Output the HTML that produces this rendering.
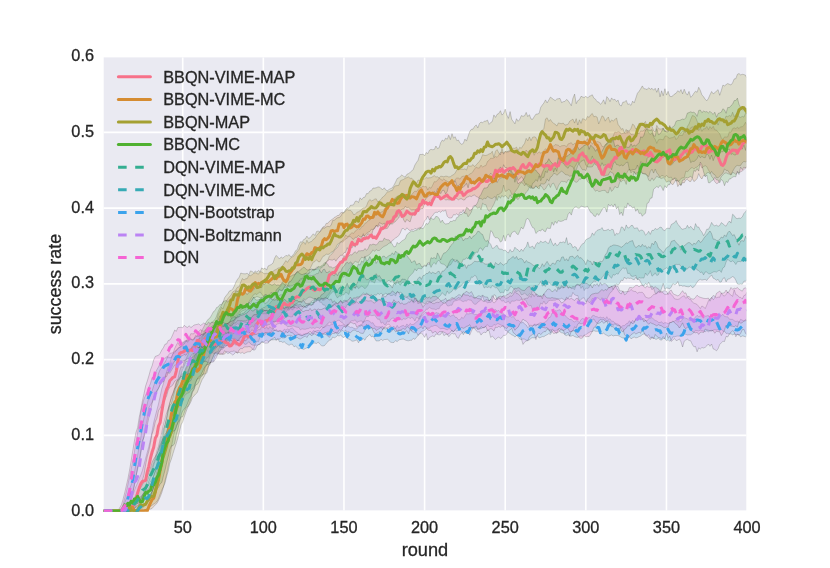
<!DOCTYPE html>
<html><head><meta charset="utf-8"><style>
html,body{margin:0;padding:0;background:#fff;}
svg{display:block;}
text{font-family:"Liberation Sans",Arial,sans-serif;fill:#262626;stroke:#262626;stroke-width:0.3px;}
.g line{stroke:#fff;stroke-width:1.6;}
.b{fill-opacity:0.2;stroke:#000;stroke-opacity:0.22;stroke-width:0.8;stroke-linejoin:round;}
.l,.d{fill:none;stroke-width:3;stroke-linejoin:round;}
.l{stroke-linecap:round;}
.d{stroke-dasharray:8.55 8.55;stroke-linecap:butt;}
.yt text{font-size:16.3px;text-anchor:end;}
.xt text{font-size:16.3px;text-anchor:middle;}
.lg text{font-size:16.3px;}
</style></head><body>
<svg width="830" height="568" viewBox="0 0 830 568">
<defs><clipPath id="c"><rect x="103.7" y="57.4" width="642.6" height="454.4"/></clipPath></defs>
<rect x="103.7" y="57.4" width="642.6" height="453.0" fill="#EAEAF2"/>
<g class="g">
<line x1="103.7" x2="746.3" y1="435.35" y2="435.35"/>
<line x1="103.7" x2="746.3" y1="359.60" y2="359.60"/>
<line x1="103.7" x2="746.3" y1="283.85" y2="283.85"/>
<line x1="103.7" x2="746.3" y1="208.10" y2="208.10"/>
<line x1="103.7" x2="746.3" y1="132.35" y2="132.35"/>
<line x1="182.71" x2="182.71" y1="57.4" y2="510.4"/>
<line x1="263.34" x2="263.34" y1="57.4" y2="510.4"/>
<line x1="343.96" x2="343.96" y1="57.4" y2="510.4"/>
<line x1="424.59" x2="424.59" y1="57.4" y2="510.4"/>
<line x1="505.21" x2="505.21" y1="57.4" y2="510.4"/>
<line x1="585.84" x2="585.84" y1="57.4" y2="510.4"/>
<line x1="666.46" x2="666.46" y1="57.4" y2="510.4"/>
</g>
<g clip-path="url(#c)">
<polygon class="b" fill="#f77189" points="103.7,511.1 105.3,511.1 106.9,511.1 108.5,511.1 110.2,511.1 111.8,511.1 113.4,511.1 115,511.1 116.6,511.1 118.2,511.1 119.8,511.1 121.4,511.1 123.1,510 124.7,508.8 126.3,507.7 127.9,506.1 129.5,504.3 131.1,499.8 132.7,495.3 134.3,490.9 135.9,486.6 137.6,482.9 139.2,478.4 140.8,475 142.4,470.4 144,464.7 145.6,458.5 147.2,452.6 148.8,446.7 150.5,439.3 152.1,431.3 153.7,422.6 155.3,416.1 156.9,410 158.5,404 160.1,396.6 161.8,388.7 163.4,383.6 165,377.8 166.6,371.6 168.2,366.6 169.8,363.3 171.4,357.3 173,353.7 174.7,348.4 176.3,345.1 177.9,342.4 179.5,345.6 181.1,343 182.7,342.1 184.3,343.4 185.9,342.1 187.6,338.4 189.2,337.6 190.8,333.7 192.4,333.8 194,333.8 195.6,331.2 197.2,331.6 198.8,331.7 200.4,329.6 202.1,330.7 203.7,331.3 205.3,330.1 206.9,330 208.5,329.1 210.1,330.4 211.7,330.7 213.4,332 215,330.6 216.6,331.6 218.2,332.6 219.8,333.8 221.4,334.1 223,334 224.6,333.9 226.2,333.9 227.9,332.1 229.5,332.5 231.1,333.2 232.7,332.2 234.3,330.2 235.9,330 237.5,330.7 239.2,330.7 240.8,329.6 242.4,332 244,330.9 245.6,329.1 247.2,323.9 248.8,321.1 250.4,318.6 252.1,317.5 253.7,314.8 255.3,314.4 256.9,314.5 258.5,312.8 260.1,312 261.7,310.1 263.3,307.3 264.9,307.5 266.6,305.6 268.2,305 269.8,303.7 271.4,301.3 273,300.1 274.6,297.9 276.2,296.5 277.9,297.3 279.5,295.4 281.1,294.5 282.7,295.9 284.3,295.1 285.9,292.8 287.5,292 289.1,290.5 290.8,289.7 292.4,288.9 294,287.9 295.6,285.3 297.2,283 298.8,280.8 300.4,280 302,278.8 303.7,278.5 305.3,277.5 306.9,276.5 308.5,275.4 310.1,275.2 311.7,275.6 313.3,275.3 314.9,274.8 316.6,273.6 318.2,273.7 319.8,269.7 321.4,267.6 323,266.7 324.6,264.7 326.2,261.8 327.8,260 329.4,256.2 331.1,254.4 332.7,253.2 334.3,250.6 335.9,248.7 337.5,247.5 339.1,244.5 340.7,241.9 342.4,240.9 344,238.1 345.6,234.9 347.2,236.5 348.8,236.1 350.4,234 352,232.7 353.6,233.5 355.2,231.1 356.9,229.9 358.5,228.5 360.1,229.4 361.7,226.6 363.3,226.1 364.9,223.4 366.5,222.7 368.1,220.8 369.8,220.1 371.4,217.3 373,218.8 374.6,216.4 376.2,215 377.8,214.7 379.4,213.3 381.1,212.1 382.7,211.7 384.3,209 385.9,206.7 387.5,206.8 389.1,204.4 390.7,201.6 392.3,200.8 393.9,198.8 395.6,197.5 397.2,196.2 398.8,196 400.4,195.2 402,194.3 403.6,194.4 405.2,194.7 406.9,195.3 408.5,197.1 410.1,195.9 411.7,194.9 413.3,192.6 414.9,191.1 416.5,191.6 418.1,189.4 419.8,187.5 421.4,187.4 423,186.1 424.6,186.8 426.2,186.5 427.8,190 429.4,187.2 431,188.3 432.6,185.4 434.3,181.7 435.9,181.8 437.5,180.4 439.1,178.1 440.7,179.3 442.3,180.3 443.9,178.8 445.6,180.5 447.2,181.3 448.8,181.8 450.4,181.3 452,181.2 453.6,182.5 455.2,179.4 456.8,178 458.4,178.1 460.1,179.2 461.7,176.7 463.3,176.2 464.9,176.2 466.5,175.3 468.1,175.6 469.7,173.9 471.4,173.4 473,171.5 474.6,169 476.2,167.1 477.8,168 479.4,168.1 481,165.1 482.6,167.2 484.2,166 485.9,165.6 487.5,161.5 489.1,160.3 490.7,158.2 492.3,158.4 493.9,158 495.5,156.4 497.1,157.4 498.8,155.2 500.4,152.4 502,152.3 503.6,152.8 505.2,151.6 506.8,152.6 508.4,151.1 510.1,151 511.7,149.3 513.3,150.2 514.9,152.7 516.5,150.7 518.1,153.8 519.7,154.5 521.3,154.4 523,151.7 524.6,152.1 526.2,150.1 527.8,152.2 529.4,150.3 531,150.7 532.6,150.9 534.2,155.3 535.9,151.8 537.5,153.4 539.1,151.8 540.7,153.1 542.3,152.4 543.9,150.9 545.5,148.7 547.1,149.7 548.8,150.7 550.4,146 552,146 553.6,146.2 555.2,144.6 556.8,144.9 558.4,145.3 560,147 561.6,145.8 563.3,145.6 564.9,145.5 566.5,146.9 568.1,143.9 569.7,143.4 571.3,142.7 572.9,145 574.6,143.5 576.2,143 577.8,141.4 579.4,142.9 581,143.5 582.6,143.7 584.2,141.3 585.8,141 587.5,138.6 589.1,144.3 590.7,141.4 592.3,144.3 593.9,141.6 595.5,142.6 597.1,141.5 598.7,142 600.4,142.8 602,146.5 603.6,146.9 605.2,144.7 606.8,144.4 608.4,141.7 610,138.5 611.6,138.9 613.2,136 614.9,132 616.5,132.6 618.1,131.7 619.7,132 621.3,134 622.9,133.3 624.5,133.1 626.2,133.4 627.8,130 629.4,132.1 631,134.5 632.6,134.4 634.2,135.1 635.8,135.1 637.4,133.1 639.1,133.8 640.7,130.9 642.3,131.2 643.9,130.6 645.5,128.4 647.1,129.2 648.7,132.9 650.3,134.6 652,132.8 653.6,137 655.2,139.4 656.8,143.4 658.4,139.8 660,139.2 661.6,139.5 663.2,139.9 664.9,136.3 666.5,135.8 668.1,137.6 669.7,138.3 671.3,137.8 672.9,137.6 674.5,136.2 676.1,139.6 677.8,137.8 679.4,135 681,135.5 682.6,135.3 684.2,131.5 685.8,130.6 687.4,132.3 689,130.6 690.7,127.7 692.3,126.9 693.9,126.9 695.5,127.4 697.1,126.4 698.7,130.5 700.3,127.5 701.9,131.4 703.6,128.8 705.2,128.9 706.8,126.4 708.4,129.7 710,126.6 711.6,128.7 713.2,126.3 714.8,129.9 716.5,130.1 718.1,132.2 719.7,133.7 721.3,137.9 722.9,139.5 724.5,136.9 726.1,137.1 727.7,137 729.4,131.9 731,132.4 732.6,128.7 734.2,127.8 735.8,128.8 737.4,127.1 739,128.6 740.6,126.8 742.3,126.9 743.9,125.3 745.5,122.3 747.1,125 747.1,167.8 745.5,168 743.9,169.6 742.3,170.9 740.6,171.9 739,172.6 737.4,172.5 735.8,174.5 734.2,172.9 732.6,172.5 731,175 729.4,174.2 727.7,173.7 726.1,172.8 724.5,173.4 722.9,175 721.3,176.7 719.7,180.4 718.1,183.1 716.5,183.6 714.8,181.7 713.2,178.4 711.6,176.5 710,172.4 708.4,169.9 706.8,166.6 705.2,165.7 703.6,166.5 701.9,168.1 700.3,164.4 698.7,165.2 697.1,167.1 695.5,167.5 693.9,169.1 692.3,167.5 690.7,168.2 689,170.3 687.4,171.7 685.8,171.1 684.2,177.7 682.6,177.9 681,178.4 679.4,180.8 677.8,181.6 676.1,178 674.5,178.2 672.9,179.9 671.3,177.1 669.7,177.5 668.1,177.2 666.5,175.2 664.9,177.4 663.2,175.5 661.6,175.6 660,177.1 658.4,177.5 656.8,176.2 655.2,178.4 653.6,180.5 652,177.9 650.3,181.1 648.7,180.2 647.1,175.6 645.5,174.5 643.9,173.8 642.3,173.6 640.7,170.7 639.1,174.1 637.4,171.9 635.8,173.8 634.2,172.3 632.6,170.9 631,172.9 629.4,169 627.8,171 626.2,174.3 624.5,173.5 622.9,178.5 621.3,178.7 619.7,182.5 618.1,187.6 616.5,187.5 614.9,186.4 613.2,189.7 611.6,191.4 610,187.3 608.4,192.8 606.8,192.7 605.2,190.4 603.6,190.4 602,190.6 600.4,191.3 598.7,191.6 597.1,190 595.5,191.3 593.9,189 592.3,185.8 590.7,183.8 589.1,183 587.5,181.6 585.8,177.4 584.2,177.1 582.6,175.6 581,179.2 579.4,178.9 577.8,181.5 576.2,182.4 574.6,181.4 572.9,179.6 571.3,181.6 569.7,180.3 568.1,179.5 566.5,182.7 564.9,181.5 563.3,181.7 561.6,181.1 560,183.1 558.4,185.8 556.8,190 555.2,186.4 553.6,183.1 552,183.8 550.4,187.5 548.8,183.7 547.1,186 545.5,188.8 543.9,190.1 542.3,187.5 540.7,185.7 539.1,185.5 537.5,187.6 535.9,185.6 534.2,188.4 532.6,188.1 531,187.9 529.4,185.4 527.8,184.6 526.2,183.4 524.6,185.9 523,183.2 521.3,182.7 519.7,184.3 518.1,187.5 516.5,189.9 514.9,192.1 513.3,194.1 511.7,194.4 510.1,190.1 508.4,189.3 506.8,191 505.2,191.4 503.6,185.1 502,191.9 500.4,193.3 498.8,194.5 497.1,194.6 495.5,200.2 493.9,204.2 492.3,207 490.7,210 489.1,211.3 487.5,209.2 485.9,204.7 484.2,204.5 482.6,203.1 481,209.7 479.4,206.8 477.8,208.5 476.2,206.3 474.6,205.4 473,206.4 471.4,212 469.7,214.8 468.1,216.8 466.5,213 464.9,213.9 463.3,209.8 461.7,212.7 460.1,212 458.4,215.4 456.8,213.7 455.2,215 453.6,214.5 452,217.7 450.4,218 448.8,217.8 447.2,216.2 445.6,210 443.9,211.2 442.3,210.7 440.7,212.4 439.1,211 437.5,212.4 435.9,212.2 434.3,213.1 432.6,215.7 431,217.2 429.4,219.9 427.8,216 426.2,219.2 424.6,220.8 423,225.1 421.4,227.2 419.8,229.4 418.1,227.9 416.5,229.2 414.9,228.3 413.3,230.1 411.7,229.4 410.1,230.8 408.5,229.5 406.9,227.8 405.2,230.2 403.6,228.6 402,228.6 400.4,232.8 398.8,235.4 397.2,237.1 395.6,237.7 393.9,239.6 392.3,240.4 390.7,243 389.1,243 387.5,244.7 385.9,245.6 384.3,246.3 382.7,247.3 381.1,248.8 379.4,250.4 377.8,250.6 376.2,249.5 374.6,251.4 373,249.8 371.4,252.4 369.8,253.9 368.1,255.6 366.5,256.2 364.9,257.2 363.3,257.9 361.7,257.2 360.1,259.5 358.5,262.4 356.9,262.2 355.2,261.1 353.6,263.4 352,264.4 350.4,267.6 348.8,269.5 347.2,272.5 345.6,272.7 344,277.1 342.4,277.1 340.7,277.3 339.1,279.8 337.5,280.9 335.9,282.6 334.3,284.2 332.7,286 331.1,290 329.4,293.5 327.8,294.8 326.2,297.1 324.6,298.1 323,300.9 321.4,298.3 319.8,298.4 318.2,297.2 316.6,299.7 314.9,298.7 313.3,300.2 311.7,301 310.1,302.7 308.5,305.6 306.9,305.7 305.3,307 303.7,307.2 302,309.7 300.4,310.5 298.8,311.8 297.2,312.6 295.6,313.5 294,313.1 292.4,316.8 290.8,316.9 289.1,316.5 287.5,316.6 285.9,317.2 284.3,318.4 282.7,320.1 281.1,320.8 279.5,323.4 277.9,323.8 276.2,324.5 274.6,327 273,328.7 271.4,331.4 269.8,334.3 268.2,333.3 266.6,332.8 264.9,335.2 263.3,335.6 261.7,336.2 260.1,336.6 258.5,341.6 256.9,341.1 255.3,343.9 253.7,349.2 252.1,349.4 250.4,351.7 248.8,351.8 247.2,352 245.6,352.7 244,353.7 242.4,352.3 240.8,353.3 239.2,352.3 237.5,352.9 235.9,352.4 234.3,350.8 232.7,351.4 231.1,351.4 229.5,352.2 227.9,351.8 226.2,351.8 224.6,354.1 223,354.4 221.4,354.4 219.8,354.5 218.2,353.8 216.6,353 215,353.8 213.4,353.5 211.7,352.1 210.1,351.7 208.5,352.4 206.9,349.8 205.3,350.4 203.7,349.1 202.1,349.9 200.4,352 198.8,353.5 197.2,356.7 195.6,360.5 194,361.3 192.4,359.9 190.8,361.5 189.2,363 187.6,361.9 185.9,361.3 184.3,366 182.7,369.3 181.1,374.4 179.5,378.2 177.9,383.9 176.3,386.9 174.7,388.7 173,393.7 171.4,398.5 169.8,403.1 168.2,409.1 166.6,413 165,419 163.4,424.8 161.8,432.3 160.1,439.3 158.5,446.3 156.9,450.7 155.3,457.7 153.7,463 152.1,467.3 150.5,473 148.8,477.2 147.2,481.6 145.6,485.8 144,491.3 142.4,495.6 140.8,499.9 139.2,504.4 137.6,506.1 135.9,507.7 134.3,508.8 132.7,509.9 131.1,511.1 129.5,511.1 127.9,511.1 126.3,511.1 124.7,511.1 123.1,511.1 121.4,511.1 119.8,511.1 118.2,511.1 116.6,511.1 115,511.1 113.4,511.1 111.8,511.1 110.2,511.1 108.5,511.1 106.9,511.1 105.3,511.1 103.7,511.1"/>
<polygon class="b" fill="#d58c32" points="103.7,511.1 105.3,511.1 106.9,511.1 108.5,511.1 110.2,511.1 111.8,511.1 113.4,511.1 115,511.1 116.6,511.1 118.2,511.1 119.8,511.1 121.4,511.1 123.1,511.1 124.7,510.9 126.3,510.7 127.9,510.6 129.5,510.4 131.1,507.1 132.7,507.5 134.3,509.8 135.9,509.6 137.6,509.5 139.2,509.2 140.8,509 142.4,508.3 144,506.7 145.6,505.1 147.2,503.4 148.8,500.4 150.5,497.2 152.1,491.9 153.7,485.5 155.3,479.3 156.9,471.6 158.5,463.2 160.1,454.5 161.8,443.1 163.4,434.1 165,424.1 166.6,417.1 168.2,408.9 169.8,402.9 171.4,396.6 173,393.2 174.7,387.5 176.3,381.7 177.9,380.5 179.5,379.5 181.1,375.6 182.7,373.4 184.3,371.9 185.9,367.5 187.6,365.1 189.2,361.3 190.8,358.5 192.4,357.8 194,355.8 195.6,354.3 197.2,352.5 198.8,348.4 200.4,345.1 202.1,340.8 203.7,338.1 205.3,335.6 206.9,334.6 208.5,332.1 210.1,331.5 211.7,331 213.4,327.7 215,323.8 216.6,321.3 218.2,314.3 219.8,311.4 221.4,307.3 223,308.9 224.6,303.9 226.2,301.7 227.9,298.7 229.5,296.7 231.1,295 232.7,291.9 234.3,291.2 235.9,289.5 237.5,287.1 239.2,286.8 240.8,282 242.4,278.5 244,280 245.6,278.8 247.2,278.6 248.8,275.4 250.4,275.7 252.1,274.7 253.7,273.4 255.3,272.8 256.9,273.6 258.5,274.1 260.1,271.9 261.7,271.9 263.3,273.1 264.9,273.8 266.6,273.3 268.2,273.5 269.8,272.1 271.4,272.1 273,271.4 274.6,270.1 276.2,269.4 277.9,268.1 279.5,267.8 281.1,266.9 282.7,265.6 284.3,263.1 285.9,260.6 287.5,262.4 289.1,259.7 290.8,258 292.4,256.8 294,255.8 295.6,253.7 297.2,251.3 298.8,250 300.4,245.8 302,243.2 303.7,242 305.3,244.4 306.9,240.2 308.5,243.1 310.1,241.9 311.7,241.4 313.3,239.3 314.9,238.4 316.6,235.6 318.2,233.8 319.8,231.7 321.4,229 323,226.8 324.6,226.7 326.2,223.4 327.8,223.3 329.4,221.3 331.1,220 332.7,219.1 334.3,217.4 335.9,216.7 337.5,215.5 339.1,215.3 340.7,212.8 342.4,212.3 344,213.2 345.6,210.8 347.2,209.5 348.8,210.4 350.4,210.2 352,211.8 353.6,214.6 355.2,214.4 356.9,212.3 358.5,211.7 360.1,210.6 361.7,209.2 363.3,208 364.9,208 366.5,205.9 368.1,201.8 369.8,199.5 371.4,200.9 373,200.3 374.6,199.2 376.2,198.8 377.8,202 379.4,200.7 381.1,199.3 382.7,197 384.3,196 385.9,193.9 387.5,191.7 389.1,191.9 390.7,190.7 392.3,190.5 393.9,187.1 395.6,185.8 397.2,185.6 398.8,185.3 400.4,180.8 402,180 403.6,179.4 405.2,178.3 406.9,177.6 408.5,176.9 410.1,178.4 411.7,178.2 413.3,179.8 414.9,182.8 416.5,183.5 418.1,180 419.8,180.3 421.4,179 423,179.5 424.6,178.8 426.2,177.6 427.8,178.1 429.4,177.8 431,177.7 432.6,176.7 434.3,175.6 435.9,177 437.5,176.7 439.1,178 440.7,176.2 442.3,176.4 443.9,176.8 445.6,176.2 447.2,176.3 448.8,177 450.4,176.7 452,175.4 453.6,174.7 455.2,173 456.8,170 458.4,168.3 460.1,169.3 461.7,169.1 463.3,169.4 464.9,168.8 466.5,170.1 468.1,165.5 469.7,166.2 471.4,166 473,164.6 474.6,166.6 476.2,164.9 477.8,163.1 479.4,161.4 481,158.8 482.6,154.7 484.2,155.3 485.9,155.5 487.5,154.9 489.1,153.9 490.7,153.6 492.3,151.3 493.9,157.4 495.5,151.2 497.1,149.6 498.8,152.9 500.4,155 502,148.6 503.6,154.2 505.2,151.5 506.8,151.4 508.4,151.9 510.1,150.5 511.7,148.3 513.3,148.2 514.9,148.4 516.5,147.1 518.1,150.7 519.7,147.3 521.3,148.3 523,145.6 524.6,143.4 526.2,138.4 527.8,140.9 529.4,136.9 531,140.7 532.6,137.3 534.2,136.8 535.9,137.5 537.5,141.7 539.1,137 540.7,131 542.3,130.4 543.9,128.4 545.5,118.9 547.1,117.8 548.8,121.4 550.4,119.5 552,121.8 553.6,123.4 555.2,124.2 556.8,126.1 558.4,122.9 560,123.4 561.6,123.6 563.3,123.1 564.9,125.1 566.5,124.7 568.1,124.2 569.7,121.2 571.3,120.2 572.9,119.1 574.6,123.1 576.2,118.6 577.8,125 579.4,119.8 581,123.4 582.6,118.7 584.2,119.2 585.8,120.3 587.5,116.4 589.1,117.4 590.7,114.8 592.3,113.5 593.9,116.8 595.5,116.3 597.1,117.1 598.7,123.9 600.4,119.9 602,115.8 603.6,116.8 605.2,121.2 606.8,118.7 608.4,117 610,122.4 611.6,119.9 613.2,121.1 614.9,119.6 616.5,117.9 618.1,124.5 619.7,126.6 621.3,129.3 622.9,128.5 624.5,133.1 626.2,129.4 627.8,133.3 629.4,130.6 631,128.4 632.6,124 634.2,125.3 635.8,129.1 637.4,127.5 639.1,123.1 640.7,124.4 642.3,125.5 643.9,123.1 645.5,121.4 647.1,128.4 648.7,124.3 650.3,124.8 652,126.4 653.6,130.7 655.2,132.2 656.8,125.4 658.4,128.4 660,129.1 661.6,128.9 663.2,128.3 664.9,132 666.5,129.5 668.1,131 669.7,125.5 671.3,130.2 672.9,129.6 674.5,130.2 676.1,132.2 677.8,132.4 679.4,132.3 681,133.3 682.6,130.8 684.2,131.9 685.8,132.5 687.4,126.4 689,124 690.7,119.4 692.3,115.6 693.9,116 695.5,117.2 697.1,121.1 698.7,125 700.3,126.8 701.9,123.2 703.6,123.1 705.2,122.6 706.8,121.1 708.4,121.1 710,121.8 711.6,122.1 713.2,123.8 714.8,124.1 716.5,120.6 718.1,125.1 719.7,120.2 721.3,119.9 722.9,119.6 724.5,119.8 726.1,116 727.7,116.7 729.4,115.5 731,116.4 732.6,112.2 734.2,116.8 735.8,114.5 737.4,113.7 739,117 740.6,117.4 742.3,116.4 743.9,117.1 745.5,113.4 747.1,113.9 747.1,161.3 745.5,161.9 743.9,161.4 742.3,162.7 740.6,165.4 739,165.8 737.4,165.4 735.8,166.2 734.2,168.6 732.6,171.4 731,174.7 729.4,172.9 727.7,170.4 726.1,170.4 724.5,168.8 722.9,173.1 721.3,174.5 719.7,176.2 718.1,177.8 716.5,177.5 714.8,174.7 713.2,173.9 711.6,171.4 710,173.6 708.4,172.5 706.8,172.9 705.2,175.5 703.6,175.3 701.9,179 700.3,177.2 698.7,173.6 697.1,178.6 695.5,180.4 693.9,181.6 692.3,178.4 690.7,181.6 689,181.2 687.4,179.5 685.8,179.8 684.2,182.9 682.6,182.5 681,185.3 679.4,184.2 677.8,186.6 676.1,179.8 674.5,182.2 672.9,184.7 671.3,183.8 669.7,181.1 668.1,181.2 666.5,182.2 664.9,179.1 663.2,177.7 661.6,178.6 660,178 658.4,174.7 656.8,172.8 655.2,169 653.6,173.1 652,169.2 650.3,171.4 648.7,176.6 647.1,175.4 645.5,173.5 643.9,173.7 642.3,173.2 640.7,171.1 639.1,170.2 637.4,173.7 635.8,174.7 634.2,171.4 632.6,179.8 631,179.4 629.4,178.5 627.8,177.3 626.2,184.4 624.5,180.2 622.9,180 621.3,181.8 619.7,180.5 618.1,178.4 616.5,179.2 614.9,178.8 613.2,173.3 611.6,172.6 610,171.5 608.4,175.1 606.8,175.2 605.2,175.6 603.6,176.1 602,174 600.4,170.2 598.7,169.7 597.1,165.3 595.5,164.8 593.9,160.7 592.3,155.9 590.7,160.4 589.1,162.5 587.5,165.4 585.8,170.6 584.2,169.6 582.6,169.9 581,167.6 579.4,164.8 577.8,161.3 576.2,164.6 574.6,167.2 572.9,174.8 571.3,175.8 569.7,176.3 568.1,175 566.5,174.8 564.9,174.2 563.3,172.3 561.6,171.2 560,172.4 558.4,173.9 556.8,175.3 555.2,173.5 553.6,173.6 552,176.2 550.4,177.2 548.8,181.2 547.1,178.9 545.5,183 543.9,184.1 542.3,183.9 540.7,183.8 539.1,189 537.5,187.8 535.9,186.1 534.2,187.6 532.6,188.6 531,185.6 529.4,187 527.8,190.8 526.2,192.1 524.6,194.9 523,194.4 521.3,193.3 519.7,197.2 518.1,199.6 516.5,198.4 514.9,199.3 513.3,198.8 511.7,198 510.1,194.8 508.4,199.2 506.8,197 505.2,195.2 503.6,197.2 502,195.5 500.4,198.3 498.8,195.9 497.1,200.5 495.5,196.8 493.9,196.9 492.3,198.6 490.7,198.3 489.1,197.5 487.5,196.4 485.9,198.7 484.2,198.2 482.6,199.7 481,198.4 479.4,198.6 477.8,197 476.2,196.5 474.6,195.1 473,195.4 471.4,196.6 469.7,196 468.1,196.9 466.5,197.3 464.9,199.7 463.3,200 461.7,198.8 460.1,198.8 458.4,199.8 456.8,198.6 455.2,198.1 453.6,199.6 452,198.5 450.4,199.9 448.8,199.9 447.2,199.6 445.6,200.1 443.9,198.4 442.3,197.6 440.7,198.8 439.1,197.5 437.5,196.8 435.9,196.2 434.3,197.9 432.6,199.2 431,200.4 429.4,202 427.8,203.4 426.2,203.3 424.6,203.7 423,208.5 421.4,208.7 419.8,209.5 418.1,209.8 416.5,208.6 414.9,210 413.3,209.8 411.7,210.1 410.1,208.8 408.5,207.3 406.9,207.6 405.2,206.4 403.6,209 402,209 400.4,210.5 398.8,213.2 397.2,216.6 395.6,217.4 393.9,220.6 392.3,221.7 390.7,224 389.1,225.4 387.5,228.3 385.9,228.7 384.3,228.8 382.7,226.5 381.1,227.6 379.4,224.8 377.8,227.2 376.2,225.3 374.6,228.6 373,229.5 371.4,229.2 369.8,231.4 368.1,232.2 366.5,233.3 364.9,235.5 363.3,235.5 361.7,236.4 360.1,237.1 358.5,235.3 356.9,237.3 355.2,237.3 353.6,239.4 352,238.5 350.4,236.6 348.8,236.7 347.2,238.1 345.6,238.9 344,240.7 342.4,242.1 340.7,241.9 339.1,243.3 337.5,244.3 335.9,247.5 334.3,249.7 332.7,251.7 331.1,252.2 329.4,254.1 327.8,254.4 326.2,254 324.6,255.8 323,256.3 321.4,259.1 319.8,261.9 318.2,261.7 316.6,259.7 314.9,261.6 313.3,262.1 311.7,265.3 310.1,268.5 308.5,270.8 306.9,272.7 305.3,273.8 303.7,276.3 302,278.8 300.4,278.6 298.8,281.9 297.2,284.8 295.6,285.2 294,284 292.4,285.6 290.8,286.1 289.1,285.8 287.5,287.7 285.9,287.5 284.3,286.9 282.7,289.7 281.1,290.6 279.5,289.1 277.9,291.8 276.2,293.3 274.6,293.3 273,292.3 271.4,294.2 269.8,296.1 268.2,296.8 266.6,295.3 264.9,296.5 263.3,296.2 261.7,294 260.1,291.9 258.5,292.9 256.9,294.6 255.3,293.8 253.7,294.5 252.1,296.9 250.4,299.4 248.8,302.2 247.2,305.7 245.6,305.7 244,307.1 242.4,309 240.8,309.5 239.2,312.4 237.5,314.3 235.9,315.7 234.3,319.9 232.7,323 231.1,323.9 229.5,329.4 227.9,335.9 226.2,341.5 224.6,344.1 223,347.1 221.4,348.1 219.8,347 218.2,351.4 216.6,351.9 215,353 213.4,356 211.7,360.3 210.1,363.1 208.5,365.8 206.9,369.6 205.3,373.9 203.7,374.1 202.1,374.7 200.4,376.7 198.8,378.9 197.2,378.9 195.6,382.1 194,386.3 192.4,388.9 190.8,389.8 189.2,392.7 187.6,393.2 185.9,394.2 184.3,396.2 182.7,401.3 181.1,408 179.5,415.5 177.9,423.1 176.3,425.8 174.7,431.2 173,438.5 171.4,447.5 169.8,458.3 168.2,466.3 166.6,474.1 165,480.5 163.4,487.3 161.8,492.7 160.1,497.1 158.5,500.5 156.9,503.5 155.3,504.8 153.7,506.6 152.1,508.4 150.5,509.1 148.8,509.1 147.2,511.1 145.6,510.4 144,511.1 142.4,511.1 140.8,511.1 139.2,511.1 137.6,511.1 135.9,511.1 134.3,511.1 132.7,511.1 131.1,511.1 129.5,511.1 127.9,511.1 126.3,511.1 124.7,511.1 123.1,511.1 121.4,511.1 119.8,511.1 118.2,511.1 116.6,511.1 115,511.1 113.4,511.1 111.8,511.1 110.2,511.1 108.5,511.1 106.9,511.1 105.3,511.1 103.7,511.1"/>
<polygon class="b" fill="#a4a031" points="103.7,511.1 105.3,511.1 106.9,511.1 108.5,511.1 110.2,511.1 111.8,511.1 113.4,511.1 115,511.1 116.6,511.1 118.2,511.1 119.8,511.1 121.4,511.1 123.1,511.1 124.7,510.9 126.3,510.7 127.9,510.5 129.5,506.3 131.1,510.2 132.7,510 134.3,509.8 135.9,509.6 137.6,508.5 139.2,506.9 140.8,504.5 142.4,505 144,504 145.6,502.7 147.2,501.2 148.8,498.5 150.5,495.1 152.1,491.5 153.7,487.1 155.3,481.8 156.9,475.8 158.5,470 160.1,464.1 161.8,458.7 163.4,452.5 165,447 166.6,439.9 168.2,434 169.8,426.1 171.4,417.3 173,411.7 174.7,406.4 176.3,397.7 177.9,392.8 179.5,387.5 181.1,383.1 182.7,378.6 184.3,376.9 185.9,375 187.6,371.3 189.2,368.5 190.8,364.3 192.4,363.3 194,360.4 195.6,357.8 197.2,351.7 198.8,348.2 200.4,344.3 202.1,337.8 203.7,333 205.3,330.6 206.9,327.5 208.5,326.5 210.1,324 211.7,322.6 213.4,321.1 215,319.5 216.6,316.1 218.2,311.4 219.8,307.9 221.4,305.4 223,302.6 224.6,297.8 226.2,295.6 227.9,293.5 229.5,290.9 231.1,290.6 232.7,289 234.3,286.1 235.9,282.1 237.5,279.3 239.2,277.2 240.8,273 242.4,273.6 244,273.8 245.6,273.8 247.2,273.2 248.8,274.9 250.4,270.9 252.1,271.4 253.7,272.9 255.3,270.9 256.9,272.2 258.5,270.4 260.1,271.8 261.7,267.9 263.3,269.1 264.9,268.1 266.6,270.1 268.2,265.9 269.8,265.2 271.4,264.4 273,263.1 274.6,258.1 276.2,255.4 277.9,257.2 279.5,259 281.1,256.9 282.7,258.1 284.3,257 285.9,255.4 287.5,255.9 289.1,254.6 290.8,257.1 292.4,255.5 294,253.7 295.6,250.7 297.2,249.7 298.8,244.9 300.4,241.8 302,242.1 303.7,239.5 305.3,238.8 306.9,236.1 308.5,238.4 310.1,237.8 311.7,235.7 313.3,233.8 314.9,235.5 316.6,231.5 318.2,231 319.8,232.2 321.4,230.2 323,227.8 324.6,228.1 326.2,226.9 327.8,226.3 329.4,226.7 331.1,225.3 332.7,220.5 334.3,220.2 335.9,218.9 337.5,217.7 339.1,217.6 340.7,216.3 342.4,213.3 344,212.1 345.6,209.7 347.2,207.7 348.8,208.2 350.4,205.3 352,205.2 353.6,204.7 355.2,201.3 356.9,201.1 358.5,202.5 360.1,197.8 361.7,199.7 363.3,197.5 364.9,197.2 366.5,193.6 368.1,193.6 369.8,191.1 371.4,190.5 373,188 374.6,188.1 376.2,187.8 377.8,187 379.4,186.9 381.1,188.6 382.7,189.6 384.3,187.8 385.9,190.2 387.5,190.6 389.1,189.4 390.7,188.6 392.3,187.8 393.9,185.3 395.6,182 397.2,178.5 398.8,177.8 400.4,176.2 402,174.8 403.6,176.4 405.2,177.1 406.9,174.3 408.5,173.6 410.1,172.4 411.7,171.1 413.3,169.3 414.9,165 416.5,162.4 418.1,160.2 419.8,154.4 421.4,154.5 423,154.1 424.6,155.8 426.2,152.5 427.8,153.7 429.4,150.3 431,149.3 432.6,149.7 434.3,149.5 435.9,146 437.5,148.6 439.1,147.8 440.7,142.6 442.3,140.1 443.9,141.2 445.6,138.1 447.2,139.2 448.8,135.2 450.4,139.6 452,133.7 453.6,138.1 455.2,136.7 456.8,140.7 458.4,140 460.1,143.2 461.7,144.3 463.3,143.4 464.9,139.1 466.5,141.1 468.1,136.2 469.7,131.6 471.4,129.3 473,129.1 474.6,126.4 476.2,124.9 477.8,127.9 479.4,123.6 481,122 482.6,122.8 484.2,121.2 485.9,121.1 487.5,120.1 489.1,124.4 490.7,122.5 492.3,121.5 493.9,114.9 495.5,117.4 497.1,114.3 498.8,113.5 500.4,110.7 502,115.1 503.6,113.4 505.2,109.2 506.8,114.9 508.4,118.4 510.1,111.6 511.7,119.3 513.3,121.5 514.9,123.8 516.5,118.7 518.1,121.3 519.7,119.4 521.3,115.6 523,116.3 524.6,115.8 526.2,112.4 527.8,116.6 529.4,114.7 531,119.1 532.6,119.3 534.2,116.7 535.9,114.2 537.5,114 539.1,113.4 540.7,107.4 542.3,105 543.9,103 545.5,99.9 547.1,102.9 548.8,100 550.4,97.1 552,98.3 553.6,99.6 555.2,100.6 556.8,99 558.4,98.7 560,98.4 561.6,102.6 563.3,101.7 564.9,101.4 566.5,99.5 568.1,100.6 569.7,103.1 571.3,105.7 572.9,98.3 574.6,94.1 576.2,103.7 577.8,100.6 579.4,99.7 581,96.3 582.6,97 584.2,97.6 585.8,96.1 587.5,98.1 589.1,96.4 590.7,95.7 592.3,94.8 593.9,98.2 595.5,99.2 597.1,101.7 598.7,102 600.4,104.3 602,102.8 603.6,99.8 605.2,104.2 606.8,96.6 608.4,98.5 610,101.6 611.6,97.9 613.2,99.9 614.9,99.3 616.5,101.5 618.1,100.1 619.7,105.1 621.3,106 622.9,102.1 624.5,102.1 626.2,100.4 627.8,104.4 629.4,103.9 631,105.4 632.6,101.1 634.2,102.9 635.8,98.2 637.4,93.3 639.1,91.3 640.7,88.8 642.3,85.9 643.9,88.7 645.5,88.9 647.1,89.6 648.7,87.7 650.3,89.3 652,88.3 653.6,90.2 655.2,88.3 656.8,92.3 658.4,88 660,96.8 661.6,90.8 663.2,95.7 664.9,88.7 666.5,95.1 668.1,91.3 669.7,96.2 671.3,96.6 672.9,95.8 674.5,94 676.1,93.3 677.8,90.7 679.4,92.2 681,89.6 682.6,93.8 684.2,89.2 685.8,93 687.4,95.1 689,91.4 690.7,97.3 692.3,95.9 693.9,93.2 695.5,91.2 697.1,92.3 698.7,87.3 700.3,90.4 701.9,94.9 703.6,96.8 705.2,99.3 706.8,100.8 708.4,98.4 710,94.7 711.6,91.5 713.2,93.8 714.8,92.8 716.5,90.9 718.1,89.7 719.7,95.3 721.3,90.5 722.9,85.1 724.5,85.9 726.1,84.6 727.7,83.6 729.4,84.3 731,85 732.6,82.8 734.2,78.9 735.8,78.7 737.4,74.3 739,73.5 740.6,74.9 742.3,74.3 743.9,74.6 745.5,75.2 747.1,78.7 747.1,143.6 745.5,150.4 743.9,144.9 742.3,149.2 740.6,147.1 739,150 737.4,152.8 735.8,155 734.2,154.9 732.6,153.7 731,154.4 729.4,149.2 727.7,149.9 726.1,153.7 724.5,149.9 722.9,151.8 721.3,151.7 719.7,153.7 718.1,154.4 716.5,155.4 714.8,156.5 713.2,160.7 711.6,155.1 710,159.4 708.4,155.2 706.8,153.8 705.2,157.8 703.6,157.5 701.9,156.4 700.3,157.8 698.7,155.3 697.1,158.5 695.5,160.4 693.9,161.6 692.3,161.3 690.7,162.7 689,156.9 687.4,156.3 685.8,152.9 684.2,148.7 682.6,154.7 681,158.2 679.4,157.6 677.8,155.3 676.1,160.3 674.5,161.1 672.9,163.4 671.3,165.1 669.7,164.6 668.1,164.9 666.5,156.9 664.9,155.7 663.2,157.7 661.6,156.9 660,156.4 658.4,159.9 656.8,159 655.2,159 653.6,157.5 652,158.4 650.3,156.6 648.7,156.8 647.1,158.5 645.5,166.1 643.9,163.3 642.3,162.8 640.7,161.6 639.1,170.1 637.4,165 635.8,169.1 634.2,169.6 632.6,169.4 631,170.4 629.4,169.9 627.8,162.1 626.2,162.6 624.5,164.2 622.9,166 621.3,164.9 619.7,165.9 618.1,164.8 616.5,164.6 614.9,161.6 613.2,163.9 611.6,169.8 610,166.3 608.4,167.1 606.8,165.9 605.2,164.6 603.6,165.6 602,162.7 600.4,166.6 598.7,163.6 597.1,163.6 595.5,160.3 593.9,164.4 592.3,166.8 590.7,167 589.1,167 587.5,167 585.8,165.1 584.2,159.8 582.6,160.6 581,161.4 579.4,163.3 577.8,165.6 576.2,170 574.6,170.5 572.9,166.9 571.3,166.3 569.7,165.5 568.1,168.3 566.5,167.2 564.9,165.4 563.3,163.2 561.6,162.4 560,162.6 558.4,162.3 556.8,171.4 555.2,168.1 553.6,172.2 552,165.5 550.4,170.9 548.8,168.8 547.1,172.7 545.5,171.1 543.9,177.4 542.3,177.4 540.7,180.8 539.1,175.8 537.5,181.4 535.9,179.6 534.2,182.2 532.6,183.3 531,188.5 529.4,187.1 527.8,186.1 526.2,184.6 524.6,182.9 523,178.3 521.3,176.7 519.7,178.9 518.1,180.4 516.5,175.8 514.9,182.3 513.3,173.9 511.7,175.3 510.1,169.9 508.4,171.7 506.8,167.7 505.2,167.7 503.6,164.7 502,171.2 500.4,166.9 498.8,169.9 497.1,172.4 495.5,178.4 493.9,178.6 492.3,174.9 490.7,173.1 489.1,175.9 487.5,176.6 485.9,179.7 484.2,177 482.6,179.6 481,180.1 479.4,178.8 477.8,178.3 476.2,182 474.6,181.9 473,180.5 471.4,182.5 469.7,181.6 468.1,187.8 466.5,183.4 464.9,185.7 463.3,187 461.7,188 460.1,183.8 458.4,186 456.8,185.7 455.2,180.7 453.6,183 452,184 450.4,182.7 448.8,184.9 447.2,191.5 445.6,194 443.9,190.2 442.3,190.6 440.7,193.6 439.1,191.4 437.5,188.5 435.9,193.7 434.3,191.4 432.6,193.7 431,195 429.4,195.7 427.8,196.6 426.2,198.3 424.6,201.2 423,202.8 421.4,206.1 419.8,206.4 418.1,208.8 416.5,213.3 414.9,215.4 413.3,213.9 411.7,216.6 410.1,221.9 408.5,221 406.9,219.4 405.2,222.3 403.6,219.9 402,215.4 400.4,212.6 398.8,218 397.2,219.3 395.6,221.4 393.9,222.4 392.3,224.2 390.7,223.6 389.1,224.5 387.5,222.9 385.9,227.2 384.3,223.2 382.7,224.2 381.1,223.5 379.4,222.6 377.8,225.7 376.2,225.7 374.6,227.7 373,230 371.4,235.8 369.8,235.8 368.1,233.6 366.5,236.2 364.9,238.1 363.3,233.7 361.7,237.5 360.1,240.8 358.5,238.8 356.9,240.3 355.2,247.2 353.6,243.8 352,248.1 350.4,246.7 348.8,250.9 347.2,247.6 345.6,252.4 344,252.6 342.4,255.4 340.7,255.1 339.1,257.2 337.5,258.6 335.9,261.2 334.3,258.9 332.7,260.1 331.1,260 329.4,259.5 327.8,260.9 326.2,262.3 324.6,265.3 323,265.5 321.4,267.2 319.8,268.3 318.2,267.5 316.6,267.1 314.9,270.1 313.3,270.8 311.7,268.6 310.1,270.3 308.5,274.3 306.9,274.9 305.3,280.8 303.7,281.3 302,282 300.4,283.5 298.8,283 297.2,286 295.6,287.5 294,290.2 292.4,289.1 290.8,289.1 289.1,286.1 287.5,285.5 285.9,283.7 284.3,287.6 282.7,290.4 281.1,290.8 279.5,289.6 277.9,292.8 276.2,292.6 274.6,293.1 273,294.5 271.4,292.1 269.8,294.3 268.2,295.6 266.6,297.4 264.9,299.9 263.3,299.2 261.7,297.8 260.1,297.7 258.5,297.1 256.9,296.5 255.3,297.4 253.7,297.4 252.1,299.8 250.4,301.4 248.8,303.5 247.2,305.1 245.6,309.5 244,310.3 242.4,310.8 240.8,312.4 239.2,316.2 237.5,318.1 235.9,318.9 234.3,321.5 232.7,325 231.1,328.8 229.5,330.9 227.9,334.7 226.2,337.5 224.6,342.7 223,344.3 221.4,347.8 219.8,351.9 218.2,352.3 216.6,353.2 215,352.1 213.4,356.4 211.7,359.8 210.1,364.3 208.5,366.7 206.9,372.7 205.3,374.3 203.7,377.3 202.1,379.7 200.4,383.9 198.8,388.3 197.2,392.7 195.6,394 194,396 192.4,397.7 190.8,402.1 189.2,405 187.6,407.6 185.9,412.2 184.3,416.7 182.7,421.8 181.1,424.8 179.5,431.4 177.9,437.8 176.3,443.3 174.7,448.1 173,453.6 171.4,459 169.8,463.3 168.2,471.2 166.6,476.6 165,483.2 163.4,486.7 161.8,490.1 160.1,494.4 158.5,498.7 156.9,501.7 155.3,503.1 153.7,504.1 152.1,505.2 150.5,506.4 148.8,507.5 147.2,508.5 145.6,509.6 144,509.8 142.4,509.9 140.8,510.2 139.2,510.4 137.6,510.5 135.9,511.1 134.3,511.1 132.7,511.1 131.1,511.1 129.5,511.1 127.9,511.1 126.3,511.1 124.7,511.1 123.1,511.1 121.4,511.1 119.8,511.1 118.2,511.1 116.6,511.1 115,511.1 113.4,511.1 111.8,511.1 110.2,511.1 108.5,511.1 106.9,511.1 105.3,511.1 103.7,511.1"/>
<polygon class="b" fill="#50b131" points="103.7,511.1 105.3,511.1 106.9,511.1 108.5,511.1 110.2,511.1 111.8,511.1 113.4,511.1 115,511.1 116.6,511.1 118.2,511.1 119.8,509.6 121.4,508.2 123.1,506.8 124.7,504.9 126.3,504.1 127.9,503.2 129.5,502.8 131.1,501.2 132.7,501.3 134.3,499.1 135.9,498.9 137.6,496.3 139.2,497.8 140.8,496.7 142.4,495 144,493.2 145.6,491.1 147.2,489.8 148.8,487.8 150.5,484.7 152.1,481.2 153.7,475.8 155.3,470.3 156.9,463 158.5,455.4 160.1,447.3 161.8,442.3 163.4,438.6 165,438.8 166.6,431.7 168.2,426.3 169.8,418.4 171.4,411.9 173,406.5 174.7,401.8 176.3,397.9 177.9,393.9 179.5,388.6 181.1,385.3 182.7,378.2 184.3,373.5 185.9,369.1 187.6,365.8 189.2,361.5 190.8,358.7 192.4,356.4 194,354.1 195.6,347.1 197.2,344.9 198.8,339.1 200.4,334.7 202.1,329.8 203.7,327.1 205.3,323.6 206.9,321 208.5,318.9 210.1,317.8 211.7,314.9 213.4,311.7 215,310.6 216.6,307.5 218.2,306.9 219.8,304.6 221.4,304.7 223,301.9 224.6,301 226.2,300.5 227.9,302.2 229.5,299.8 231.1,298.9 232.7,295.5 234.3,294.5 235.9,290.7 237.5,291.5 239.2,290.7 240.8,293 242.4,293.6 244,293.3 245.6,292.7 247.2,294.6 248.8,292.4 250.4,291.2 252.1,290.9 253.7,289.9 255.3,287.3 256.9,288.7 258.5,287.8 260.1,286.9 261.7,287.5 263.3,284.3 264.9,284.3 266.6,281.7 268.2,283.6 269.8,284 271.4,285 273,285 274.6,283.7 276.2,285.4 277.9,284.9 279.5,285.3 281.1,284 282.7,281.7 284.3,280.4 285.9,278.8 287.5,279.1 289.1,277 290.8,276.3 292.4,275.2 294,274.8 295.6,274.2 297.2,271.4 298.8,271.3 300.4,270 302,268.7 303.7,267 305.3,268.2 306.9,270 308.5,269.9 310.1,269.5 311.7,269.7 313.3,269.6 314.9,269 316.6,268.8 318.2,266.4 319.8,266.8 321.4,266 323,264.4 324.6,262.9 326.2,262.7 327.8,264.5 329.4,267 331.1,266.8 332.7,268 334.3,267.4 335.9,266.6 337.5,264.8 339.1,263.1 340.7,261 342.4,260.1 344,255.4 345.6,258.8 347.2,255.4 348.8,256.1 350.4,254.7 352,255 353.6,252.8 355.2,251.8 356.9,253.3 358.5,250.8 360.1,250.9 361.7,250.6 363.3,250.7 364.9,248.5 366.5,250.1 368.1,248.7 369.8,244.6 371.4,244.9 373,244.1 374.6,244.5 376.2,245.1 377.8,243.4 379.4,241.3 381.1,241.1 382.7,241.2 384.3,238 385.9,239.4 387.5,239.8 389.1,239.9 390.7,242.1 392.3,244.2 393.9,246.9 395.6,246.5 397.2,242.4 398.8,244.1 400.4,242.3 402,240.9 403.6,239.9 405.2,239 406.9,234.7 408.5,233.2 410.1,232 411.7,230.8 413.3,231.5 414.9,230.5 416.5,230.1 418.1,229.4 419.8,227.4 421.4,228.1 423,228.8 424.6,226.4 426.2,223.4 427.8,224.3 429.4,221.9 431,217.6 432.6,219.3 434.3,219.2 435.9,216.3 437.5,216.8 439.1,218.3 440.7,222.5 442.3,220 443.9,223 445.6,224 447.2,223.7 448.8,223.6 450.4,221.3 452,221.5 453.6,220.3 455.2,220.9 456.8,217.4 458.4,216.9 460.1,214.2 461.7,214.5 463.3,212.7 464.9,212.5 466.5,207.5 468.1,208.2 469.7,210.7 471.4,209.6 473,208.4 474.6,205.8 476.2,205 477.8,201.9 479.4,196.7 481,194.4 482.6,190.8 484.2,187.9 485.9,188 487.5,187.5 489.1,184.1 490.7,183.4 492.3,181.2 493.9,177.2 495.5,179.8 497.1,182.5 498.8,179.2 500.4,178.1 502,177.5 503.6,175.2 505.2,170.3 506.8,174.8 508.4,173.7 510.1,166.9 511.7,171.7 513.3,174.3 514.9,175.3 516.5,179.2 518.1,184 519.7,182.4 521.3,182 523,180 524.6,177.8 526.2,171.1 527.8,169.9 529.4,169.2 531,171.2 532.6,169.7 534.2,169.6 535.9,170.1 537.5,172.6 539.1,173.8 540.7,177.4 542.3,172.5 543.9,169.2 545.5,163.1 547.1,162.4 548.8,158.7 550.4,161.4 552,163 553.6,165.3 555.2,162.9 556.8,164.9 558.4,157.5 560,160.8 561.6,160.4 563.3,156.2 564.9,158.3 566.5,156.5 568.1,155.6 569.7,154 571.3,152.7 572.9,149.4 574.6,147.9 576.2,143.9 577.8,147 579.4,150.1 581,148 582.6,147.2 584.2,145.1 585.8,145.1 587.5,143.6 589.1,149.4 590.7,145.2 592.3,146.7 593.9,148.1 595.5,151.3 597.1,149.1 598.7,152.4 600.4,153.3 602,151.3 603.6,148.2 605.2,145.6 606.8,143 608.4,142.6 610,140.4 611.6,142.4 613.2,139.2 614.9,146.8 616.5,145.5 618.1,144.9 619.7,146.7 621.3,146.9 622.9,149.1 624.5,147.7 626.2,146.8 627.8,147.4 629.4,147.2 631,143.7 632.6,146.5 634.2,145.1 635.8,145.9 637.4,144.4 639.1,142.5 640.7,136.8 642.3,137.6 643.9,135.3 645.5,130 647.1,128.7 648.7,130 650.3,130.3 652,129.7 653.6,135.9 655.2,136.3 656.8,128.6 658.4,134.7 660,134 661.6,131.5 663.2,128.3 664.9,131.1 666.5,131.7 668.1,132 669.7,126.7 671.3,128.1 672.9,126.8 674.5,125.6 676.1,121.2 677.8,120.5 679.4,120.5 681,119.8 682.6,119 684.2,119.5 685.8,117.7 687.4,113.1 689,112.6 690.7,111.8 692.3,112.5 693.9,112.2 695.5,113.6 697.1,116.4 698.7,110.5 700.3,110 701.9,112.6 703.6,111 705.2,111.9 706.8,111.6 708.4,112.9 710,111.3 711.6,112.9 713.2,114.4 714.8,112.2 716.5,117.2 718.1,113.5 719.7,112.9 721.3,112.1 722.9,108.8 724.5,109.9 726.1,113.3 727.7,107.5 729.4,107.6 731,105.6 732.6,104.2 734.2,100.6 735.8,100.5 737.4,98.1 739,104.4 740.6,107.2 742.3,109.9 743.9,109.6 745.5,108.9 747.1,108.2 747.1,165.8 745.5,168.1 743.9,167 742.3,169.8 740.6,167.1 739,174.5 737.4,171.1 735.8,176.8 734.2,176.6 732.6,177 731,178.7 729.4,178.9 727.7,182.5 726.1,181.5 724.5,185.7 722.9,180.9 721.3,179.5 719.7,182.8 718.1,180 716.5,180 714.8,177.3 713.2,180.1 711.6,180.8 710,182.8 708.4,182.7 706.8,175 705.2,176.9 703.6,171.9 701.9,164.8 700.3,162.1 698.7,171.1 697.1,168.7 695.5,171.4 693.9,170.5 692.3,178.1 690.7,176.2 689,177.3 687.4,178.1 685.8,177.4 684.2,180 682.6,180.1 681,185.5 679.4,182.7 677.8,180.2 676.1,181 674.5,178 672.9,179.6 671.3,180 669.7,184.7 668.1,184.7 666.5,187.8 664.9,185.7 663.2,190.6 661.6,187.2 660,185.3 658.4,187.7 656.8,186.5 655.2,187.9 653.6,189.2 652,198 650.3,198.3 648.7,202.6 647.1,203.4 645.5,213.3 643.9,214.4 642.3,216.3 640.7,213 639.1,213.5 637.4,208.9 635.8,211.3 634.2,206.9 632.6,208.1 631,205.8 629.4,205.8 627.8,202.9 626.2,208.1 624.5,206.8 622.9,215.7 621.3,212 619.7,214.5 618.1,206.6 616.5,208.9 614.9,203.9 613.2,206.9 611.6,204.7 610,206.1 608.4,204.3 606.8,212.1 605.2,207.8 603.6,207.6 602,209.8 600.4,212.8 598.7,215.4 597.1,213.5 595.5,216.6 593.9,215.9 592.3,213.3 590.7,212.4 589.1,209.5 587.5,206.4 585.8,207 584.2,207.2 582.6,206.5 581,206.1 579.4,208.3 577.8,208.1 576.2,206.9 574.6,207.3 572.9,209.5 571.3,215.1 569.7,212.3 568.1,214.3 566.5,219.8 564.9,219.6 563.3,220.7 561.6,221.3 560,221.4 558.4,220.6 556.8,223.4 555.2,221.3 553.6,225.3 552,222.2 550.4,228.4 548.8,228.4 547.1,227.9 545.5,231.7 543.9,231.1 542.3,228.9 540.7,231.1 539.1,230.3 537.5,232 535.9,233.5 534.2,228.1 532.6,227.6 531,224.5 529.4,220.5 527.8,218.3 526.2,219.4 524.6,225.5 523,229.1 521.3,227.2 519.7,231.3 518.1,234.8 516.5,233.5 514.9,231.1 513.3,231.8 511.7,232.9 510.1,237.2 508.4,234 506.8,235.5 505.2,241.2 503.6,235.4 502,241 500.4,242.1 498.8,238.7 497.1,237.6 495.5,237.9 493.9,236.1 492.3,231.9 490.7,230.7 489.1,240.3 487.5,246.6 485.9,246.3 484.2,247.8 482.6,250.5 481,247.9 479.4,248.4 477.8,252.4 476.2,252 474.6,254 473,256.4 471.4,259.3 469.7,255 468.1,258.9 466.5,257.9 464.9,259.4 463.3,259.2 461.7,262.8 460.1,263.8 458.4,263.2 456.8,261.3 455.2,259.7 453.6,260.3 452,262.6 450.4,265 448.8,265.3 447.2,267.9 445.6,265.6 443.9,264.3 442.3,264 440.7,263.3 439.1,260.1 437.5,261 435.9,264.4 434.3,262.6 432.6,264.1 431,267.4 429.4,262.7 427.8,262.9 426.2,266.6 424.6,265 423,266.4 421.4,269 419.8,268.6 418.1,268.3 416.5,270.9 414.9,268.8 413.3,272.5 411.7,274.1 410.1,275.6 408.5,277.7 406.9,282 405.2,285.1 403.6,281.9 402,282.7 400.4,285.2 398.8,283.8 397.2,280.3 395.6,284.7 393.9,282.8 392.3,279.9 390.7,282.1 389.1,280.2 387.5,281.1 385.9,283.1 384.3,284.1 382.7,279.9 381.1,281.2 379.4,281 377.8,279.5 376.2,278.7 374.6,283 373,281.9 371.4,281.6 369.8,280.1 368.1,285 366.5,287.2 364.9,288.8 363.3,287 361.7,286.1 360.1,287.3 358.5,288.7 356.9,286 355.2,288.6 353.6,286.9 352,290.7 350.4,289.1 348.8,294.5 347.2,293 345.6,292.2 344,294.8 342.4,294.8 340.7,296.2 339.1,295.9 337.5,298.1 335.9,295.4 334.3,291.6 332.7,291.9 331.1,293.3 329.4,295.3 327.8,298.4 326.2,298.5 324.6,299.9 323,298.9 321.4,299.5 319.8,300.7 318.2,300.2 316.6,300 314.9,298.5 313.3,298.5 311.7,297.7 310.1,297.1 308.5,297.4 306.9,298.7 305.3,300.1 303.7,298.7 302,301.6 300.4,302.2 298.8,301.7 297.2,303.5 295.6,303.7 294,307 292.4,307 290.8,306.6 289.1,308.3 287.5,309.8 285.9,312.8 284.3,312.2 282.7,311.4 281.1,309.8 279.5,309.7 277.9,307.4 276.2,308.7 274.6,309.7 273,309.1 271.4,310.9 269.8,311.7 268.2,311.6 266.6,313.9 264.9,313.7 263.3,313.9 261.7,313.4 260.1,315.3 258.5,316.9 256.9,318.3 255.3,320.4 253.7,321.3 252.1,322.3 250.4,322.5 248.8,322.3 247.2,322.7 245.6,322.4 244,322.2 242.4,320.9 240.8,320.9 239.2,324.6 237.5,323.7 235.9,325 234.3,326.3 232.7,327.2 231.1,328.6 229.5,331 227.9,333.6 226.2,333.1 224.6,333.3 223,335.8 221.4,338.1 219.8,340.5 218.2,341.8 216.6,343.6 215,347.7 213.4,349.1 211.7,352.5 210.1,355.7 208.5,361.2 206.9,365 205.3,367.3 203.7,373.3 202.1,376.1 200.4,377.6 198.8,382.1 197.2,384.4 195.6,385 194,389.9 192.4,392.3 190.8,399.1 189.2,403.6 187.6,407 185.9,408.3 184.3,412.6 182.7,416.8 181.1,416.9 179.5,422.1 177.9,429.4 176.3,434.7 174.7,443.2 173,445.7 171.4,445.8 169.8,449.7 168.2,456.8 166.6,463.1 165,470.2 163.4,476.1 161.8,482.5 160.1,483.9 158.5,487.3 156.9,489 155.3,491.1 153.7,492.9 152.1,494.6 150.5,497.7 148.8,498.5 147.2,498.7 145.6,499.6 144,500.4 142.4,501.8 140.8,502.1 139.2,502.7 137.6,503.5 135.9,504.3 134.3,505.6 132.7,506.9 131.1,508.4 129.5,509.7 127.9,511 126.3,511.1 124.7,511 123.1,511.1 121.4,511.1 119.8,511.1 118.2,511.1 116.6,511.1 115,511.1 113.4,511.1 111.8,511.1 110.2,511.1 108.5,511.1 106.9,511.1 105.3,511.1 103.7,511.1"/>
<polygon class="b" fill="#34ae91" points="103.7,511.1 105.3,511.1 106.9,511.1 108.5,511.1 110.2,511.1 111.8,511.1 113.4,511.1 115,511.1 116.6,511.1 118.2,511.1 119.8,511.1 121.4,511.1 123.1,511.1 124.7,511.1 126.3,511.1 127.9,508.5 129.5,505.8 131.1,503.3 132.7,500.7 134.3,498 135.9,495.3 137.6,492.4 139.2,489.8 140.8,487.3 142.4,484.8 144,481.4 145.6,478.8 147.2,476.5 148.8,472.2 150.5,467.9 152.1,462.1 153.7,459 155.3,456.5 156.9,453.8 158.5,449.3 160.1,442.7 161.8,436.4 163.4,429.1 165,424.7 166.6,418.9 168.2,410.9 169.8,405.5 171.4,403.3 173,396.8 174.7,390.9 176.3,383.6 177.9,379.4 179.5,371.2 181.1,366.7 182.7,367.3 184.3,361.2 185.9,359.3 187.6,355.6 189.2,351.9 190.8,348.7 192.4,345.9 194,345.3 195.6,344.3 197.2,341.6 198.8,338.7 200.4,338.3 202.1,335.7 203.7,334.4 205.3,332.4 206.9,329.9 208.5,327.6 210.1,327.6 211.7,326.5 213.4,325 215,324.7 216.6,321.4 218.2,319.5 219.8,315.9 221.4,316 223,313.3 224.6,314.6 226.2,313.2 227.9,316.3 229.5,315.3 231.1,317.6 232.7,315.6 234.3,314.3 235.9,312.7 237.5,309.1 239.2,306.6 240.8,306.3 242.4,304.9 244,306.1 245.6,306.4 247.2,305.9 248.8,302.3 250.4,303.7 252.1,300 253.7,297.1 255.3,299.5 256.9,300.2 258.5,299.8 260.1,299.5 261.7,303 263.3,301.3 264.9,303.6 266.6,302.7 268.2,301.5 269.8,298.1 271.4,298.7 273,295.9 274.6,295.9 276.2,290.2 277.9,288.2 279.5,287.1 281.1,285.1 282.7,283.4 284.3,284.2 285.9,286 287.5,286.3 289.1,281.9 290.8,281.3 292.4,278.9 294,276.4 295.6,273.3 297.2,272.2 298.8,272.7 300.4,273.9 302,274.7 303.7,274 305.3,273.4 306.9,274 308.5,273.2 310.1,272.7 311.7,270.8 313.3,269.2 314.9,269.7 316.6,269.2 318.2,268.6 319.8,270.2 321.4,273.1 323,269.7 324.6,269.2 326.2,272.5 327.8,272.4 329.4,271.2 331.1,272.7 332.7,275 334.3,275.8 335.9,273.2 337.5,275.7 339.1,272.1 340.7,271.8 342.4,267.7 344,266.3 345.6,263.5 347.2,262.3 348.8,263.4 350.4,262 352,263.2 353.6,266.3 355.2,268.1 356.9,267.8 358.5,263.9 360.1,265.2 361.7,260.9 363.3,262.4 364.9,256.4 366.5,260.7 368.1,260.3 369.8,256.5 371.4,259.7 373,262.8 374.6,257.7 376.2,263.4 377.8,261 379.4,257.6 381.1,258.8 382.7,256.3 384.3,256.1 385.9,258.2 387.5,256.8 389.1,255.5 390.7,255.2 392.3,252.8 393.9,254.7 395.6,251.1 397.2,253 398.8,253.5 400.4,254.7 402,255.5 403.6,253.6 405.2,252.8 406.9,255.6 408.5,257.9 410.1,259.7 411.7,262.8 413.3,261.2 414.9,260.8 416.5,264.9 418.1,263.8 419.8,263.4 421.4,266.5 423,267 424.6,265.8 426.2,266 427.8,263.6 429.4,264.8 431,257.7 432.6,258.5 434.3,257.5 435.9,259.1 437.5,252.9 439.1,255.9 440.7,260 442.3,255.6 443.9,253 445.6,252.7 447.2,250.9 448.8,249.1 450.4,246 452,244.5 453.6,242.4 455.2,236.2 456.8,236.4 458.4,239.9 460.1,237.3 461.7,237.3 463.3,241 464.9,238.7 466.5,238.7 468.1,238.5 469.7,236 471.4,238.8 473,236.3 474.6,235.6 476.2,234 477.8,231.2 479.4,231.6 481,233.8 482.6,234.5 484.2,239 485.9,241.5 487.5,240.3 489.1,242.5 490.7,244.3 492.3,248.4 493.9,247.9 495.5,246.3 497.1,245.3 498.8,248.9 500.4,249.1 502,249.2 503.6,250.6 505.2,250 506.8,252 508.4,253 510.1,249.5 511.7,251.8 513.3,251.2 514.9,247.2 516.5,249.1 518.1,249.8 519.7,251.8 521.3,249.1 523,251.3 524.6,248.2 526.2,246.8 527.8,241.9 529.4,247.4 531,247 532.6,246.1 534.2,248.8 535.9,244.6 537.5,242.5 539.1,243.6 540.7,241 542.3,242.4 543.9,242.1 545.5,241.1 547.1,243 548.8,243.3 550.4,238.6 552,242.8 553.6,245.7 555.2,242.9 556.8,245.7 558.4,244.7 560,242 561.6,242.6 563.3,241.8 564.9,243 566.5,237.6 568.1,244.8 569.7,242.9 571.3,244.1 572.9,247.9 574.6,246.5 576.2,247.3 577.8,251.1 579.4,248.4 581,245.7 582.6,243.7 584.2,243.2 585.8,239.8 587.5,238.8 589.1,238 590.7,237.1 592.3,232.9 593.9,235.3 595.5,232 597.1,230.4 598.7,229.7 600.4,229.4 602,227.6 603.6,230.6 605.2,230.5 606.8,230 608.4,229.3 610,230.9 611.6,229.2 613.2,229.7 614.9,235.6 616.5,233.2 618.1,234.2 619.7,232.5 621.3,226.9 622.9,227.4 624.5,230.6 626.2,224.9 627.8,228 629.4,227.7 631,225.5 632.6,225.4 634.2,228.4 635.8,228.1 637.4,227.8 639.1,231.3 640.7,230.2 642.3,230 643.9,231.6 645.5,235.2 647.1,233.8 648.7,231.3 650.3,234.4 652,230.3 653.6,230.5 655.2,228.4 656.8,229.5 658.4,228.7 660,227.1 661.6,227.5 663.2,230 664.9,230.7 666.5,228.4 668.1,228.2 669.7,228.7 671.3,224.5 672.9,223.6 674.5,222.7 676.1,220.5 677.8,224.4 679.4,225.8 681,228.4 682.6,229.3 684.2,228.7 685.8,228.5 687.4,225.3 689,228.2 690.7,226.3 692.3,228.3 693.9,230.1 695.5,223.6 697.1,227 698.7,227 700.3,230.2 701.9,232 703.6,235.7 705.2,233 706.8,229.2 708.4,229.3 710,226.4 711.6,222.4 713.2,225 714.8,225.9 716.5,225.1 718.1,226.3 719.7,225.5 721.3,222.6 722.9,223.8 724.5,225.2 726.1,226.2 727.7,223.2 729.4,221 731,223.1 732.6,214.2 734.2,215.6 735.8,218.2 737.4,218.6 739,218.1 740.6,218.3 742.3,216.9 743.9,213.5 745.5,211.8 747.1,209.4 747.1,261.5 745.5,258.9 743.9,259.7 742.3,260.8 740.6,261.7 739,261.4 737.4,261.7 735.8,264.5 734.2,262 732.6,260.8 731,261.9 729.4,260.9 727.7,259.2 726.1,261.9 724.5,266.9 722.9,267.9 721.3,272.4 719.7,270.3 718.1,270.8 716.5,272.1 714.8,271.7 713.2,272 711.6,272.9 710,273.9 708.4,273.6 706.8,272.1 705.2,271.9 703.6,274.9 701.9,271.9 700.3,272.6 698.7,270.6 697.1,270 695.5,267.7 693.9,268.1 692.3,267.1 690.7,267.5 689,266.9 687.4,269.1 685.8,269.3 684.2,271.3 682.6,266.6 681,266.6 679.4,264.2 677.8,264.6 676.1,264.3 674.5,264.7 672.9,266.9 671.3,268.9 669.7,266.2 668.1,269.2 666.5,267.8 664.9,268.8 663.2,269.8 661.6,270.9 660,270.8 658.4,274.8 656.8,275.5 655.2,272.8 653.6,275 652,276.2 650.3,270.6 648.7,274 647.1,275.5 645.5,273 643.9,278.1 642.3,277.9 640.7,278.1 639.1,277.3 637.4,279.4 635.8,275.3 634.2,276.1 632.6,276.4 631,275.9 629.4,273 627.8,273.7 626.2,267.8 624.5,268.8 622.9,267.7 621.3,269.7 619.7,271.5 618.1,274.2 616.5,273.5 614.9,275.2 613.2,274.5 611.6,278.2 610,276.8 608.4,274.4 606.8,275.6 605.2,272.9 603.6,275.8 602,277.5 600.4,280 598.7,279.6 597.1,279.1 595.5,281.8 593.9,280.8 592.3,283.1 590.7,284.4 589.1,287.6 587.5,288.4 585.8,288.1 584.2,290.6 582.6,286.1 581,288.4 579.4,284.5 577.8,285.2 576.2,284.9 574.6,289.6 572.9,288.4 571.3,288.6 569.7,287.1 568.1,287.6 566.5,285.1 564.9,282.8 563.3,288.2 561.6,287.4 560,289.1 558.4,289.3 556.8,287.1 555.2,286 553.6,284.2 552,285.6 550.4,283.9 548.8,282.1 547.1,282.1 545.5,286.4 543.9,285.2 542.3,286.1 540.7,281.4 539.1,284.5 537.5,285.4 535.9,287 534.2,285.3 532.6,289.9 531,295.1 529.4,293.7 527.8,295.8 526.2,294.7 524.6,293 523,294.4 521.3,294.8 519.7,291.4 518.1,290.5 516.5,291.9 514.9,290 513.3,288.3 511.7,286.6 510.1,286.8 508.4,290.4 506.8,291 505.2,289.3 503.6,292.8 502,292.1 500.4,292.9 498.8,290.4 497.1,287.7 495.5,287.8 493.9,286.6 492.3,285.5 490.7,288.2 489.1,286.6 487.5,287.5 485.9,286.8 484.2,288 482.6,284 481,283.4 479.4,285.1 477.8,280.5 476.2,276.2 474.6,275.3 473,277.3 471.4,276.9 469.7,281.3 468.1,280.5 466.5,282.2 464.9,282.1 463.3,283 461.7,285.1 460.1,286.8 458.4,287.2 456.8,289 455.2,290.2 453.6,288.9 452,291.3 450.4,292.4 448.8,293.6 447.2,290.9 445.6,295.6 443.9,294.6 442.3,292.6 440.7,295.2 439.1,296.8 437.5,298.6 435.9,299.7 434.3,300.7 432.6,301.2 431,303 429.4,301.8 427.8,301.2 426.2,302.4 424.6,304.2 423,302.2 421.4,301.8 419.8,303.4 418.1,300.9 416.5,300.7 414.9,302 413.3,303 411.7,299.2 410.1,300.1 408.5,298.7 406.9,297.7 405.2,295.7 403.6,296.9 402,293.1 400.4,292.3 398.8,292.8 397.2,291.8 395.6,296 393.9,294.4 392.3,295.4 390.7,295.7 389.1,294.3 387.5,294.4 385.9,293.1 384.3,294.3 382.7,294.7 381.1,293.1 379.4,294.5 377.8,293.2 376.2,295.3 374.6,294.7 373,295.7 371.4,297.5 369.8,295.4 368.1,294.1 366.5,294.9 364.9,294.2 363.3,292.8 361.7,294.8 360.1,295.7 358.5,298.6 356.9,298.7 355.2,303.4 353.6,302.6 352,303.9 350.4,306.1 348.8,304.4 347.2,304.7 345.6,307.9 344,306.1 342.4,306.9 340.7,304.9 339.1,306.6 337.5,307.2 335.9,305.9 334.3,303.5 332.7,306.8 331.1,304.7 329.4,307.1 327.8,307 326.2,307.5 324.6,304.9 323,305 321.4,302.1 319.8,302.3 318.2,299.7 316.6,301.4 314.9,300.5 313.3,304.7 311.7,304.5 310.1,305 308.5,304.2 306.9,307.7 305.3,307.4 303.7,305.6 302,306.8 300.4,306.4 298.8,307 297.2,306.5 295.6,305.6 294,308.3 292.4,310.2 290.8,308.1 289.1,310.4 287.5,309.6 285.9,308.5 284.3,311.3 282.7,312 281.1,314.9 279.5,317.1 277.9,318.7 276.2,320.3 274.6,322.3 273,321.3 271.4,323 269.8,324.4 268.2,324.8 266.6,325.6 264.9,324.5 263.3,325.2 261.7,322.5 260.1,322.8 258.5,321.3 256.9,323 255.3,323.6 253.7,327.1 252.1,325.9 250.4,327.3 248.8,328.6 247.2,329.8 245.6,332.2 244,334 242.4,335.6 240.8,336.8 239.2,340.3 237.5,340.8 235.9,339 234.3,338.3 232.7,338.6 231.1,338.2 229.5,337.5 227.9,339.7 226.2,339.8 224.6,340.5 223,342.2 221.4,344 219.8,345.5 218.2,345.7 216.6,347.2 215,349.5 213.4,351.3 211.7,353 210.1,352.2 208.5,357.1 206.9,357.5 205.3,360.5 203.7,361.7 202.1,363.4 200.4,366.5 198.8,368.5 197.2,369.2 195.6,371.2 194,373.5 192.4,377 190.8,380.6 189.2,381.8 187.6,382.8 185.9,390.4 184.3,393.4 182.7,396.3 181.1,402.6 179.5,402.7 177.9,406 176.3,409.9 174.7,412.2 173,420.7 171.4,424.4 169.8,431.5 168.2,437.2 166.6,443.4 165,446.6 163.4,451.1 161.8,455.4 160.1,457.3 158.5,461.5 156.9,466.5 155.3,472.1 153.7,475.8 152.1,479.2 150.5,481.7 148.8,485.4 147.2,487.3 145.6,490.7 144,493 142.4,495.1 140.8,498.4 139.2,500.8 137.6,503.5 135.9,506.2 134.3,508.6 132.7,511.1 131.1,511.1 129.5,511.1 127.9,511.1 126.3,511.1 124.7,511.1 123.1,511.1 121.4,511.1 119.8,511.1 118.2,511.1 116.6,511.1 115,511.1 113.4,511.1 111.8,511.1 110.2,511.1 108.5,511.1 106.9,511.1 105.3,511.1 103.7,511.1"/>
<polygon class="b" fill="#37abb5" points="103.7,511.1 105.3,511.1 106.9,511.1 108.5,511.1 110.2,511.1 111.8,511.1 113.4,511.1 115,511.1 116.6,511.1 118.2,511.1 119.8,511.1 121.4,511.1 123.1,511.1 124.7,511.1 126.3,511.1 127.9,511.1 129.5,511.1 131.1,510.1 132.7,509 134.3,508 135.9,506.9 137.6,506 139.2,503.1 140.8,500.1 142.4,497 144,493.8 145.6,491 147.2,485.9 148.8,481.2 150.5,476.4 152.1,471.4 153.7,464.9 155.3,460.3 156.9,454.7 158.5,449.2 160.1,445.1 161.8,440.7 163.4,437.1 165,434.4 166.6,432.4 168.2,427.4 169.8,419.9 171.4,417.4 173,413.3 174.7,408.1 176.3,403.2 177.9,401.3 179.5,396.7 181.1,393.6 182.7,387.5 184.3,383.2 185.9,379.9 187.6,374.4 189.2,368.7 190.8,363.5 192.4,361.5 194,357.9 195.6,353.8 197.2,350.6 198.8,350 200.4,349 202.1,345.6 203.7,346.9 205.3,343 206.9,339.6 208.5,338.6 210.1,336.8 211.7,334.4 213.4,331.6 215,329.1 216.6,327.3 218.2,325.4 219.8,325.9 221.4,322.9 223,326.5 224.6,326.4 226.2,326.5 227.9,323.2 229.5,322.6 231.1,318.8 232.7,317.7 234.3,316.4 235.9,318.1 237.5,315.8 239.2,314.1 240.8,314.7 242.4,313.1 244,313.2 245.6,310.9 247.2,309.7 248.8,309.4 250.4,305.9 252.1,303.8 253.7,303.5 255.3,302.9 256.9,302.4 258.5,301.6 260.1,298.8 261.7,297.8 263.3,296.9 264.9,294.5 266.6,295 268.2,296.4 269.8,297.2 271.4,299.2 273,299.7 274.6,300.1 276.2,299.5 277.9,300.8 279.5,298.6 281.1,300.4 282.7,301.7 284.3,299.3 285.9,300.4 287.5,302.1 289.1,301.7 290.8,301.3 292.4,303.8 294,301.7 295.6,300.5 297.2,300.2 298.8,302 300.4,301.5 302,302.5 303.7,300.2 305.3,303.3 306.9,303.7 308.5,303.4 310.1,304 311.7,302 313.3,302.8 314.9,298.6 316.6,299.1 318.2,298.1 319.8,297.7 321.4,294.8 323,294 324.6,292.6 326.2,289 327.8,288.4 329.4,288.6 331.1,288.6 332.7,289.2 334.3,288.3 335.9,289.9 337.5,291.2 339.1,288.1 340.7,286.8 342.4,290.6 344,290.2 345.6,287.1 347.2,283.2 348.8,287.8 350.4,287.5 352,286.1 353.6,286.2 355.2,288.1 356.9,283.6 358.5,280.5 360.1,276.8 361.7,275.8 363.3,274.2 364.9,277.5 366.5,279.8 368.1,279.5 369.8,278.2 371.4,279.6 373,277 374.6,277 376.2,273.7 377.8,276.5 379.4,275.6 381.1,278.6 382.7,279.7 384.3,281.3 385.9,282.9 387.5,283.9 389.1,284.1 390.7,285.6 392.3,288.1 393.9,283.5 395.6,282.7 397.2,282.9 398.8,281.7 400.4,281.8 402,279 403.6,279.3 405.2,279.3 406.9,281.5 408.5,282.4 410.1,283.2 411.7,283.8 413.3,285.2 414.9,282.8 416.5,281 418.1,278.6 419.8,276.8 421.4,279.4 423,275.7 424.6,275.3 426.2,273.5 427.8,273.6 429.4,271.5 431,273.6 432.6,272.3 434.3,273.1 435.9,273.7 437.5,271.7 439.1,271.2 440.7,274.7 442.3,271 443.9,271.1 445.6,268.8 447.2,267.1 448.8,263.4 450.4,260.4 452,258.7 453.6,259.6 455.2,262.1 456.8,259.8 458.4,261.1 460.1,263.7 461.7,264.2 463.3,265.4 464.9,264.6 466.5,268.4 468.1,265 469.7,265.2 471.4,264.2 473,262.9 474.6,261.2 476.2,261.6 477.8,261.7 479.4,261.1 481,262.8 482.6,262.1 484.2,263.7 485.9,264.2 487.5,264.1 489.1,263.7 490.7,262 492.3,266 493.9,266.4 495.5,262.5 497.1,264 498.8,264.7 500.4,262.5 502,264.2 503.6,265.1 505.2,263.7 506.8,263.4 508.4,259.8 510.1,259.2 511.7,257.5 513.3,256.4 514.9,258.6 516.5,256.4 518.1,259.6 519.7,258.7 521.3,258.6 523,259.9 524.6,263.1 526.2,260.5 527.8,262.1 529.4,262.6 531,263.5 532.6,264.8 534.2,265.9 535.9,266.4 537.5,266.6 539.1,268.6 540.7,267.4 542.3,263.7 543.9,266.5 545.5,263.8 547.1,261.4 548.8,264.3 550.4,266.1 552,263.4 553.6,263.3 555.2,264.4 556.8,260.6 558.4,260.3 560,261.5 561.6,257.3 563.3,256.8 564.9,260.7 566.5,258.7 568.1,261.1 569.7,256.8 571.3,256.4 572.9,256.3 574.6,258.5 576.2,256.4 577.8,255.5 579.4,258.2 581,257.6 582.6,259.5 584.2,261.1 585.8,264.7 587.5,259.8 589.1,261.3 590.7,261.4 592.3,265 593.9,261 595.5,263.2 597.1,262.5 598.7,262.4 600.4,261.3 602,261.9 603.6,259.4 605.2,254.9 606.8,252.9 608.4,248.3 610,246.4 611.6,246 613.2,245 614.9,245 616.5,245.4 618.1,245.7 619.7,246.4 621.3,247.3 622.9,246.3 624.5,244.7 626.2,242.8 627.8,243.4 629.4,241.7 631,241.1 632.6,240.6 634.2,245.3 635.8,247.7 637.4,246.5 639.1,245.2 640.7,247.1 642.3,244.3 643.9,246.4 645.5,245.7 647.1,248.4 648.7,246.6 650.3,248.3 652,243.2 653.6,244.8 655.2,241.1 656.8,243.2 658.4,248 660,249.1 661.6,250.8 663.2,252.8 664.9,250.4 666.5,247.8 668.1,246.9 669.7,245.9 671.3,241.4 672.9,240.8 674.5,240.3 676.1,242.7 677.8,244 679.4,246 681,250.2 682.6,246.9 684.2,245.8 685.8,244.5 687.4,243.2 689,242.4 690.7,243.4 692.3,245.3 693.9,243.1 695.5,244.2 697.1,242.1 698.7,240.1 700.3,242.5 701.9,241.4 703.6,238.7 705.2,236.4 706.8,235 708.4,232.9 710,231 711.6,233.7 713.2,239.2 714.8,239.2 716.5,240.4 718.1,240.5 719.7,239.4 721.3,237 722.9,238 724.5,234.9 726.1,236.6 727.7,232.8 729.4,231 731,233.2 732.6,235.7 734.2,234.6 735.8,238.2 737.4,241.8 739,245.2 740.6,241 742.3,240.7 743.9,241.3 745.5,236.2 747.1,239.7 747.1,279.8 745.5,281.1 743.9,281.2 742.3,284.2 740.6,283.9 739,284.3 737.4,283.9 735.8,280.2 734.2,277.4 732.6,276.6 731,277.7 729.4,278.8 727.7,279.2 726.1,281.9 724.5,277.7 722.9,278.5 721.3,281.9 719.7,282.2 718.1,279.3 716.5,280.3 714.8,278.9 713.2,278.2 711.6,274.9 710,276.8 708.4,278.1 706.8,280.5 705.2,279.3 703.6,279.7 701.9,280.1 700.3,279.3 698.7,280.1 697.1,282.1 695.5,284.8 693.9,286.9 692.3,287.7 690.7,285.6 689,286.9 687.4,286.7 685.8,286.4 684.2,285.9 682.6,286.2 681,285.2 679.4,286 677.8,281.5 676.1,284.1 674.5,284.6 672.9,283.6 671.3,286.9 669.7,288.9 668.1,288.2 666.5,288 664.9,289.5 663.2,283.3 661.6,288.4 660,292.3 658.4,291.9 656.8,293.8 655.2,293.4 653.6,288.1 652,289.8 650.3,285.7 648.7,282.3 647.1,284.8 645.5,283.4 643.9,285.8 642.3,285.1 640.7,282.3 639.1,279.3 637.4,279.5 635.8,277.3 634.2,279.8 632.6,279.2 631,278.1 629.4,278.4 627.8,277.9 626.2,279 624.5,277 622.9,280.6 621.3,280.1 619.7,283.1 618.1,285.3 616.5,283.8 614.9,286.4 613.2,289.3 611.6,291.8 610,292.9 608.4,296.1 606.8,299.1 605.2,298.2 603.6,300.3 602,297.7 600.4,300.3 598.7,298.3 597.1,297.8 595.5,299 593.9,299.2 592.3,298.5 590.7,302.1 589.1,302.7 587.5,300.8 585.8,301.8 584.2,297.7 582.6,298.2 581,299.3 579.4,301.4 577.8,295.5 576.2,295.5 574.6,294.7 572.9,292.4 571.3,296.7 569.7,295.9 568.1,298.5 566.5,299.4 564.9,300.2 563.3,299.2 561.6,298.3 560,299.1 558.4,298.8 556.8,299.4 555.2,300.2 553.6,300.2 552,300.4 550.4,300.3 548.8,300.5 547.1,303.2 545.5,304.1 543.9,301.1 542.3,304.2 540.7,302.9 539.1,308 537.5,307.7 535.9,309.5 534.2,309.9 532.6,309.8 531,305.3 529.4,305.7 527.8,304.6 526.2,301 524.6,298.8 523,299.3 521.3,299.3 519.7,300.4 518.1,300.3 516.5,300 514.9,301 513.3,301.2 511.7,300.9 510.1,303.7 508.4,301.2 506.8,302.2 505.2,302.9 503.6,300.5 502,301.2 500.4,299.8 498.8,297 497.1,300.1 495.5,295.4 493.9,294.7 492.3,301 490.7,302.4 489.1,302.4 487.5,302.8 485.9,301.5 484.2,301 482.6,295.7 481,299.4 479.4,301.3 477.8,302 476.2,304.2 474.6,304.2 473,302.9 471.4,300.3 469.7,300.1 468.1,299.5 466.5,301 464.9,300.8 463.3,301.7 461.7,300.9 460.1,299.8 458.4,299.9 456.8,300.5 455.2,300.8 453.6,301.4 452,305.2 450.4,305.2 448.8,306 447.2,305.7 445.6,302.7 443.9,301.8 442.3,304.9 440.7,305.5 439.1,308.8 437.5,308.7 435.9,309.8 434.3,309.1 432.6,309 431,308.5 429.4,307.2 427.8,309.2 426.2,309.2 424.6,311.7 423,312.4 421.4,314.7 419.8,319.2 418.1,318.1 416.5,317.3 414.9,321 413.3,318.4 411.7,317.3 410.1,318.7 408.5,317.1 406.9,318.4 405.2,319.3 403.6,318.7 402,320.1 400.4,319.4 398.8,318.7 397.2,320.1 395.6,320.5 393.9,318 392.3,318.3 390.7,319.3 389.1,322.1 387.5,320.9 385.9,324.3 384.3,324.6 382.7,322.1 381.1,323.2 379.4,318.9 377.8,319.4 376.2,317.2 374.6,315 373,315.5 371.4,315.6 369.8,314.9 368.1,316.9 366.5,316.2 364.9,319.8 363.3,323 361.7,320.9 360.1,321.1 358.5,321.5 356.9,322.6 355.2,319.8 353.6,320.8 352,320.6 350.4,321.5 348.8,323.1 347.2,326.3 345.6,325.7 344,324.1 342.4,322.9 340.7,321.8 339.1,320.1 337.5,320.6 335.9,321.9 334.3,320.7 332.7,322 331.1,323.3 329.4,321.9 327.8,323.9 326.2,324.9 324.6,326.8 323,327.8 321.4,326.4 319.8,328.5 318.2,327.6 316.6,327.3 314.9,328.5 313.3,327.8 311.7,328.3 310.1,327.6 308.5,328.6 306.9,328.7 305.3,329.3 303.7,329.2 302,328.8 300.4,329.9 298.8,327.4 297.2,327.2 295.6,326.9 294,326 292.4,326 290.8,326.4 289.1,326.4 287.5,326.7 285.9,325.1 284.3,324.3 282.7,322.1 281.1,321.9 279.5,321.5 277.9,321.6 276.2,321.5 274.6,321.3 273,322.4 271.4,320.9 269.8,320.9 268.2,320.8 266.6,320.1 264.9,319.6 263.3,323.2 261.7,324.2 260.1,325.6 258.5,327.4 256.9,329.2 255.3,328.9 253.7,331.8 252.1,329.6 250.4,332.3 248.8,332.9 247.2,332.2 245.6,332.7 244,335.2 242.4,337.5 240.8,336.8 239.2,338.7 237.5,340.8 235.9,341.6 234.3,342.7 232.7,343.3 231.1,344.7 229.5,344.6 227.9,344.9 226.2,345.7 224.6,345.1 223,349 221.4,349.5 219.8,350.5 218.2,353.7 216.6,354.9 215,356 213.4,361.2 211.7,360.9 210.1,362.9 208.5,364.6 206.9,364.2 205.3,366.3 203.7,368.9 202.1,372.4 200.4,375.7 198.8,376.6 197.2,379 195.6,383 194,388.5 192.4,391.2 190.8,396.2 189.2,398.9 187.6,403.2 185.9,406.9 184.3,409 182.7,410.9 181.1,415.1 179.5,420.8 177.9,422.5 176.3,427.6 174.7,430.7 173,431.2 171.4,434.6 169.8,437.7 168.2,441.6 166.6,443.7 165,449.6 163.4,455.2 161.8,460.1 160.1,466.5 158.5,471.6 156.9,477.7 155.3,482.1 153.7,487.1 152.1,491.6 150.5,494.2 148.8,497.1 147.2,499.9 145.6,503.2 144,505.7 142.4,507 140.8,508 139.2,509 137.6,511.1 135.9,511.1 134.3,511.1 132.7,511.1 131.1,511.1 129.5,511.1 127.9,511.1 126.3,511.1 124.7,511.1 123.1,511.1 121.4,511.1 119.8,511.1 118.2,511.1 116.6,511.1 115,511.1 113.4,511.1 111.8,511.1 110.2,511.1 108.5,511.1 106.9,511.1 105.3,511.1 103.7,511.1"/>
<polygon class="b" fill="#3ba3ec" points="103.7,511.1 105.3,511.1 106.9,511.1 108.5,511.1 110.2,511.1 111.8,511.1 113.4,511.1 115,511.1 116.6,511.1 118.2,511.1 119.8,510.2 121.4,508.3 123.1,504.3 124.7,498.2 126.3,491.9 127.9,484.5 129.5,476.6 131.1,469.4 132.7,461.6 134.3,452.5 135.9,441.9 137.6,433.2 139.2,423.5 140.8,412.5 142.4,404.4 144,398.9 145.6,395.2 147.2,391.8 148.8,387.3 150.5,383.3 152.1,377.6 153.7,377.4 155.3,372.7 156.9,369.6 158.5,366.8 160.1,363.7 161.8,361.4 163.4,360 165,358.3 166.6,356.7 168.2,357 169.8,357.7 171.4,357.5 173,353.8 174.7,352.8 176.3,350.1 177.9,349.1 179.5,347.1 181.1,346.1 182.7,343.1 184.3,341 185.9,341.3 187.6,340.5 189.2,339.2 190.8,338.5 192.4,340 194,338.2 195.6,337.2 197.2,335.5 198.8,335 200.4,335.5 202.1,334.2 203.7,333.7 205.3,332.8 206.9,331.6 208.5,331.1 210.1,332.4 211.7,334.1 213.4,333.3 215,332.3 216.6,333 218.2,334.6 219.8,333.8 221.4,330.6 223,331.6 224.6,332.4 226.2,333.4 227.9,332.6 229.5,333.2 231.1,332.6 232.7,334 234.3,333.2 235.9,329.1 237.5,331.8 239.2,329.9 240.8,331.1 242.4,329.7 244,331.6 245.6,331.6 247.2,331.5 248.8,331.1 250.4,333.8 252.1,333.1 253.7,333.2 255.3,329.8 256.9,330.6 258.5,329.6 260.1,329.8 261.7,326.5 263.3,327.1 264.9,328.8 266.6,326.7 268.2,329.2 269.8,326.6 271.4,328.2 273,327.8 274.6,330.9 276.2,329.3 277.9,331.4 279.5,330.7 281.1,331.8 282.7,331.3 284.3,329.2 285.9,330.1 287.5,328.9 289.1,329.6 290.8,328.5 292.4,328 294,329.6 295.6,331.5 297.2,332.6 298.8,334.1 300.4,334.1 302,335.3 303.7,334.1 305.3,334 306.9,333.2 308.5,332.9 310.1,334.1 311.7,333.3 313.3,330.6 314.9,331.3 316.6,330.8 318.2,330.3 319.8,331.1 321.4,329.4 323,327.5 324.6,327.3 326.2,326 327.8,325 329.4,325.7 331.1,324.4 332.7,324.3 334.3,321.2 335.9,324 337.5,326.6 339.1,325 340.7,325.7 342.4,325.2 344,324.6 345.6,327.1 347.2,325.4 348.8,326.4 350.4,327.4 352,327.1 353.6,328.1 355.2,328.7 356.9,328.9 358.5,326.9 360.1,324.8 361.7,324.9 363.3,321.2 364.9,321.2 366.5,320.5 368.1,320.5 369.8,321.5 371.4,323 373,322.7 374.6,325.7 376.2,326.6 377.8,326.9 379.4,326.8 381.1,327 382.7,326.3 384.3,328.5 385.9,329 387.5,328.1 389.1,326.4 390.7,327.3 392.3,327.5 393.9,326.2 395.6,328.4 397.2,325.4 398.8,327.9 400.4,326.6 402,325.8 403.6,325.4 405.2,327 406.9,323.9 408.5,325.9 410.1,323.5 411.7,324.7 413.3,324.4 414.9,323.6 416.5,321.7 418.1,320.9 419.8,316.1 421.4,315.9 423,314.5 424.6,313 426.2,312 427.8,315.8 429.4,314.4 431,315.2 432.6,315 434.3,314.8 435.9,312.5 437.5,313 439.1,313.3 440.7,316.2 442.3,316.2 443.9,316.4 445.6,316.8 447.2,314.9 448.8,315 450.4,316.3 452,315.5 453.6,314.8 455.2,317.3 456.8,317.5 458.4,319.8 460.1,319.7 461.7,317.2 463.3,318.4 464.9,316.1 466.5,313.6 468.1,314 469.7,313.7 471.4,313.4 473,313.7 474.6,314.7 476.2,314.4 477.8,314.7 479.4,313.6 481,312.8 482.6,313.6 484.2,311.9 485.9,312 487.5,311 489.1,310.6 490.7,308.6 492.3,307.9 493.9,310 495.5,309.6 497.1,311.1 498.8,310.4 500.4,312.7 502,314 503.6,313.8 505.2,315.8 506.8,316.8 508.4,317 510.1,315.9 511.7,317.2 513.3,316.4 514.9,318.7 516.5,320.6 518.1,320.1 519.7,321.6 521.3,322.9 523,322.1 524.6,324.1 526.2,325 527.8,327.7 529.4,326.1 531,327.2 532.6,325.9 534.2,324.1 535.9,324.4 537.5,324.4 539.1,323.2 540.7,322.8 542.3,323.2 543.9,322.8 545.5,321.7 547.1,320.6 548.8,317.6 550.4,317.2 552,313.1 553.6,312.3 555.2,310.7 556.8,310.9 558.4,310.2 560,309.7 561.6,312.3 563.3,314.5 564.9,315 566.5,317.2 568.1,318.3 569.7,319.6 571.3,319.4 572.9,321.2 574.6,321.9 576.2,320.7 577.8,321.2 579.4,322.5 581,319.6 582.6,318.5 584.2,319.2 585.8,319.8 587.5,318.7 589.1,317.3 590.7,318.5 592.3,315.8 593.9,315.3 595.5,316.6 597.1,316.7 598.7,317.7 600.4,317.1 602,317.9 603.6,317.3 605.2,319.5 606.8,316.7 608.4,319.4 610,318.8 611.6,321.3 613.2,321.2 614.9,323 616.5,323.7 618.1,324.1 619.7,325.9 621.3,326.7 622.9,325.6 624.5,325.6 626.2,323.8 627.8,323.3 629.4,320.7 631,322.5 632.6,320.3 634.2,322.2 635.8,319.2 637.4,318.8 639.1,316.7 640.7,318 642.3,319.4 643.9,318.4 645.5,320.7 647.1,321 648.7,318.5 650.3,318.4 652,317.5 653.6,319.3 655.2,320.5 656.8,320.9 658.4,322.3 660,322.6 661.6,321.7 663.2,323.6 664.9,322.6 666.5,322.9 668.1,323.7 669.7,322.8 671.3,322.4 672.9,321.7 674.5,321.1 676.1,320.2 677.8,322.3 679.4,320.9 681,321.7 682.6,318.8 684.2,317.8 685.8,318.2 687.4,318.9 689,320.2 690.7,320.2 692.3,319.1 693.9,319 695.5,316.9 697.1,315.3 698.7,316.7 700.3,315.9 701.9,315.9 703.6,317.6 705.2,316.3 706.8,315.9 708.4,315.5 710,318.6 711.6,318.2 713.2,317.2 714.8,316.6 716.5,317.4 718.1,317 719.7,317.6 721.3,315.7 722.9,314.3 724.5,316.4 726.1,316.8 727.7,316.8 729.4,319.2 731,319.3 732.6,319.4 734.2,320.7 735.8,321.4 737.4,321 739,322.4 740.6,319.3 742.3,320.2 743.9,321 745.5,319.4 747.1,320.6 747.1,335.6 745.5,336.8 743.9,336.2 742.3,335.9 740.6,336.9 739,334.6 737.4,334.6 735.8,334.6 734.2,334 732.6,334.9 731,333.8 729.4,334 727.7,333.3 726.1,333.4 724.5,331.2 722.9,331.3 721.3,329.3 719.7,330.7 718.1,329.6 716.5,330 714.8,329.6 713.2,330.2 711.6,331.1 710,330.8 708.4,331.8 706.8,330.7 705.2,331.8 703.6,331.1 701.9,330.5 700.3,330.2 698.7,331 697.1,330.6 695.5,330.3 693.9,332.6 692.3,333.8 690.7,334.8 689,334.8 687.4,335 685.8,334.3 684.2,333.9 682.6,334.9 681,335.3 679.4,336.2 677.8,336 676.1,336.3 674.5,336.9 672.9,336.8 671.3,339.9 669.7,341.3 668.1,339.6 666.5,340.7 664.9,338.6 663.2,338.5 661.6,340 660,339.9 658.4,338 656.8,339.2 655.2,339.1 653.6,337.7 652,338 650.3,337.8 648.7,334.6 647.1,336 645.5,334 643.9,333.9 642.3,334.6 640.7,336 639.1,336.6 637.4,337.6 635.8,337.8 634.2,337 632.6,337.8 631,338.8 629.4,336.8 627.8,337.7 626.2,340.1 624.5,337.7 622.9,338 621.3,337.3 619.7,336.3 618.1,335.6 616.5,335.5 614.9,335.4 613.2,336 611.6,334.9 610,335.7 608.4,336.2 606.8,335.3 605.2,334.5 603.6,333.1 602,334 600.4,333.1 598.7,331 597.1,331.3 595.5,331.2 593.9,330.6 592.3,331.5 590.7,331.5 589.1,332.5 587.5,333.4 585.8,334.8 584.2,335.1 582.6,336.4 581,335.8 579.4,336.4 577.8,337.4 576.2,337.2 574.6,336.6 572.9,335.3 571.3,336.1 569.7,336.2 568.1,334.7 566.5,335.6 564.9,334.9 563.3,333 561.6,332.8 560,331.9 558.4,329.4 556.8,330.2 555.2,331 553.6,330.3 552,331.8 550.4,334.4 548.8,333.6 547.1,334.8 545.5,335.5 543.9,336.7 542.3,336.6 540.7,337.4 539.1,338 537.5,335.6 535.9,337.4 534.2,337.9 532.6,337.7 531,338.1 529.4,340 527.8,340.3 526.2,340.2 524.6,339.2 523,338.9 521.3,339.5 519.7,339 518.1,336.5 516.5,335.5 514.9,337.1 513.3,335.4 511.7,334.8 510.1,333.6 508.4,332.5 506.8,330.3 505.2,330.5 503.6,325.8 502,325.5 500.4,324.8 498.8,323.9 497.1,323.8 495.5,325.2 493.9,324.5 492.3,326.6 490.7,326.5 489.1,326.5 487.5,324.7 485.9,325.8 484.2,327.8 482.6,327.7 481,329 479.4,328.1 477.8,329.8 476.2,327.9 474.6,327.7 473,328.2 471.4,327.8 469.7,328.8 468.1,332.5 466.5,331.2 464.9,332.2 463.3,334.7 461.7,331.4 460.1,330.6 458.4,330.2 456.8,331.2 455.2,329.9 453.6,331.5 452,331.3 450.4,328.8 448.8,328.7 447.2,329.9 445.6,329.2 443.9,328.5 442.3,328.4 440.7,328.8 439.1,327.8 437.5,326.3 435.9,325.5 434.3,325.5 432.6,326.3 431,326.2 429.4,328.4 427.8,328 426.2,328.5 424.6,330.4 423,331.1 421.4,331.5 419.8,333.5 418.1,335.5 416.5,337.3 414.9,339.4 413.3,338.3 411.7,340.3 410.1,340.3 408.5,340.8 406.9,340.6 405.2,340 403.6,339.1 402,339.1 400.4,339.5 398.8,339.9 397.2,341.7 395.6,340.5 393.9,342.5 392.3,342.6 390.7,342.2 389.1,340.9 387.5,339.1 385.9,339.5 384.3,339.5 382.7,340.6 381.1,339.1 379.4,340.9 377.8,340.9 376.2,341 374.6,338.3 373,336 371.4,336.8 369.8,334.4 368.1,336.2 366.5,337.1 364.9,340.2 363.3,338.7 361.7,340.3 360.1,339.9 358.5,342.8 356.9,339.8 355.2,340.5 353.6,341.1 352,341.2 350.4,339.8 348.8,339 347.2,338.6 345.6,335.5 344,337.6 342.4,337 340.7,334.9 339.1,336 337.5,335.5 335.9,337 334.3,337.8 332.7,337 331.1,339.9 329.4,340 327.8,341.9 326.2,343.4 324.6,345.5 323,346 321.4,345.6 319.8,344.1 318.2,342 316.6,343.5 314.9,343 313.3,343.2 311.7,344.1 310.1,345.7 308.5,346.9 306.9,347.8 305.3,348.6 303.7,349.4 302,348.7 300.4,348.5 298.8,349.2 297.2,347.6 295.6,346.1 294,346.8 292.4,344.3 290.8,344.2 289.1,345.3 287.5,344.3 285.9,343.3 284.3,341.8 282.7,342.4 281.1,341.4 279.5,341.8 277.9,338.8 276.2,340.1 274.6,339.7 273,339.8 271.4,339.9 269.8,340.6 268.2,341.7 266.6,340.1 264.9,340.9 263.3,342.5 261.7,341.9 260.1,343.6 258.5,344.5 256.9,345.2 255.3,345.2 253.7,345.2 252.1,344.9 250.4,343.7 248.8,341.7 247.2,343.5 245.6,344.4 244,343.7 242.4,341 240.8,342.3 239.2,340.5 237.5,340.3 235.9,342.1 234.3,342.4 232.7,343 231.1,343.8 229.5,345 227.9,345.4 226.2,345.8 224.6,347.5 223,347.7 221.4,347 219.8,346.7 218.2,345.4 216.6,346.9 215,346.5 213.4,346.8 211.7,345.6 210.1,345.7 208.5,345 206.9,345.3 205.3,346.4 203.7,348.4 202.1,347.2 200.4,347 198.8,347.7 197.2,349 195.6,350.1 194,353.4 192.4,353.9 190.8,356 189.2,358.5 187.6,358.2 185.9,360 184.3,360.4 182.7,361.2 181.1,361.2 179.5,360.8 177.9,363 176.3,365 174.7,365.1 173,367.8 171.4,370.4 169.8,373.2 168.2,372.9 166.6,372.6 165,376.5 163.4,378.6 161.8,380.3 160.1,384.6 158.5,388.8 156.9,391.9 155.3,393.6 153.7,397.1 152.1,402.3 150.5,405.1 148.8,407.5 147.2,419.9 145.6,427 144,435 142.4,444.1 140.8,453.6 139.2,461.9 137.6,469.4 135.9,477 134.3,484.3 132.7,492.5 131.1,498.4 129.5,504.7 127.9,508.6 126.3,510.2 124.7,511.1 123.1,511.1 121.4,511.1 119.8,511.1 118.2,511.1 116.6,511.1 115,511.1 113.4,511.1 111.8,511.1 110.2,511.1 108.5,511.1 106.9,511.1 105.3,511.1 103.7,511.1"/>
<polygon class="b" fill="#bb83f4" points="103.7,511.1 105.3,511.1 106.9,511.1 108.5,511.1 110.2,511.1 111.8,511.1 113.4,511.1 115,511.1 116.6,511.1 118.2,511.1 119.8,511.1 121.4,511.1 123.1,506.9 124.7,502.7 126.3,498.5 127.9,494 129.5,489.5 131.1,485.1 132.7,480.9 134.3,473.4 135.9,464.7 137.6,455.6 139.2,445.9 140.8,438 142.4,426.2 144,418.1 145.6,412.8 147.2,404.1 148.8,397.2 150.5,394.3 152.1,391 153.7,385.9 155.3,381.8 156.9,380 158.5,373.6 160.1,369.7 161.8,367.9 163.4,364.4 165,362.3 166.6,359.1 168.2,355.5 169.8,353.4 171.4,353.1 173,352.7 174.7,351.5 176.3,350.5 177.9,348.2 179.5,347.3 181.1,347.1 182.7,345.5 184.3,343.1 185.9,340.1 187.6,342.3 189.2,339.7 190.8,339.4 192.4,340 194,339.7 195.6,335.4 197.2,336.5 198.8,336.3 200.4,334.9 202.1,334.3 203.7,335.3 205.3,333.4 206.9,330.2 208.5,330.5 210.1,328 211.7,327.8 213.4,328.2 215,328.2 216.6,325.7 218.2,327.9 219.8,327 221.4,327.8 223,326.2 224.6,325.7 226.2,323.9 227.9,323.7 229.5,325.2 231.1,326 232.7,324 234.3,323.2 235.9,322.8 237.5,320.5 239.2,320.7 240.8,320.7 242.4,321.2 244,320.8 245.6,320.9 247.2,319.9 248.8,320.4 250.4,319.2 252.1,316.7 253.7,314.9 255.3,314.8 256.9,315.1 258.5,312.6 260.1,314.6 261.7,311.4 263.3,310 264.9,310.9 266.6,310.3 268.2,311.7 269.8,309.3 271.4,309.6 273,309.7 274.6,309.5 276.2,306.2 277.9,308.7 279.5,307.5 281.1,305.9 282.7,308.1 284.3,309 285.9,307.8 287.5,306.1 289.1,309.3 290.8,307.4 292.4,307.7 294,304.6 295.6,305.1 297.2,304.9 298.8,305 300.4,304.4 302,306.3 303.7,307 305.3,306.6 306.9,305 308.5,304.9 310.1,304.8 311.7,305.6 313.3,302.7 314.9,302.4 316.6,300.1 318.2,298.6 319.8,300.2 321.4,298.1 323,298.6 324.6,298 326.2,297.8 327.8,298.5 329.4,300.1 331.1,298.9 332.7,302.7 334.3,300.7 335.9,302.8 337.5,303.7 339.1,302.6 340.7,300.3 342.4,302.6 344,300 345.6,300.7 347.2,301.4 348.8,303.3 350.4,303.2 352,304.1 353.6,303.8 355.2,302.3 356.9,301.8 358.5,303.4 360.1,302.5 361.7,299.3 363.3,301.9 364.9,300.9 366.5,300.6 368.1,301.1 369.8,300.9 371.4,300.7 373,302.5 374.6,303 376.2,301.7 377.8,300.6 379.4,299.9 381.1,299.6 382.7,294.8 384.3,296.9 385.9,296.7 387.5,294.1 389.1,293.5 390.7,293.3 392.3,290.9 393.9,292 395.6,293.8 397.2,291.6 398.8,292.4 400.4,295.5 402,295.6 403.6,296 405.2,297.3 406.9,297.3 408.5,295.8 410.1,296.6 411.7,296 413.3,297 414.9,297.9 416.5,298.7 418.1,303.8 419.8,301.3 421.4,304 423,307.4 424.6,305.1 426.2,303.7 427.8,303.8 429.4,301.8 431,302 432.6,303.5 434.3,303.7 435.9,302.6 437.5,302.3 439.1,302.6 440.7,301 442.3,300.3 443.9,300 445.6,298.2 447.2,301.3 448.8,299.9 450.4,301 452,299 453.6,298.8 455.2,297.3 456.8,296.5 458.4,294.8 460.1,294.9 461.7,296.4 463.3,293.4 464.9,293 466.5,291 468.1,292.8 469.7,293.1 471.4,291.6 473,294.7 474.6,298.1 476.2,297.7 477.8,295.9 479.4,295.9 481,296.6 482.6,294.9 484.2,296.7 485.9,297.1 487.5,297.1 489.1,301 490.7,299.1 492.3,301.2 493.9,303 495.5,302 497.1,298.8 498.8,298.6 500.4,298.8 502,296.8 503.6,296.7 505.2,298 506.8,298.3 508.4,297.5 510.1,295.9 511.7,296.3 513.3,294.6 514.9,291.4 516.5,293.6 518.1,293.8 519.7,295.7 521.3,297.3 523,302.2 524.6,299 526.2,298.2 527.8,298.3 529.4,295.6 531,297.4 532.6,293.9 534.2,296.6 535.9,293.9 537.5,294.6 539.1,296.1 540.7,295.7 542.3,298.8 543.9,293.6 545.5,292.1 547.1,289.7 548.8,288.9 550.4,289.7 552,291.9 553.6,290.8 555.2,289.3 556.8,291.6 558.4,287 560,288.5 561.6,285.6 563.3,287.5 564.9,287.6 566.5,285.3 568.1,288.3 569.7,287.2 571.3,287.9 572.9,286.6 574.6,287.1 576.2,285.1 577.8,284.1 579.4,286 581,283.7 582.6,283.8 584.2,282.8 585.8,283.1 587.5,283.9 589.1,285.3 590.7,284.9 592.3,288 593.9,284.4 595.5,285.4 597.1,283.6 598.7,286.4 600.4,282.6 602,285.3 603.6,283.7 605.2,283.7 606.8,284.9 608.4,287.4 610,287.7 611.6,286 613.2,289.7 614.9,286.9 616.5,286 618.1,286.6 619.7,290.9 621.3,290.8 622.9,291.9 624.5,292 626.2,291.7 627.8,291.5 629.4,291.4 631,289.4 632.6,290.8 634.2,291.4 635.8,291.5 637.4,293.3 639.1,292.3 640.7,292.4 642.3,292.3 643.9,294 645.5,297.1 647.1,297.7 648.7,298.1 650.3,297.7 652,296.4 653.6,294.4 655.2,294.3 656.8,293.1 658.4,291.1 660,292.3 661.6,292.6 663.2,291.2 664.9,290.7 666.5,291.3 668.1,294.6 669.7,292.6 671.3,294.7 672.9,296.3 674.5,298.8 676.1,299.2 677.8,299.4 679.4,298.9 681,297.5 682.6,296.4 684.2,295.7 685.8,298.4 687.4,296.9 689,299.1 690.7,299.6 692.3,302 693.9,303.2 695.5,303.7 697.1,304.5 698.7,306.5 700.3,308.6 701.9,306 703.6,306.9 705.2,308.6 706.8,305.1 708.4,300.9 710,298.9 711.6,298 713.2,295.5 714.8,296.3 716.5,297.8 718.1,297.1 719.7,297.3 721.3,293 722.9,295.4 724.5,296.1 726.1,294.4 727.7,291.9 729.4,293.9 731,295.1 732.6,296.4 734.2,289.8 735.8,294.6 737.4,295.1 739,297.2 740.6,297.3 742.3,299 743.9,295.6 745.5,295.1 747.1,291.8 747.1,334.7 745.5,333.4 743.9,329.3 742.3,329.7 740.6,333.5 739,335.3 737.4,334 735.8,336.7 734.2,332.1 732.6,330.6 731,332.4 729.4,333.8 727.7,337 726.1,336.4 724.5,341.5 722.9,341.3 721.3,342.8 719.7,344.5 718.1,348.6 716.5,350.8 714.8,349.5 713.2,348.9 711.6,344 710,346.3 708.4,344 706.8,345.8 705.2,347.3 703.6,348 701.9,347.5 700.3,349 698.7,347.8 697.1,351.8 695.5,346.5 693.9,346.8 692.3,344.4 690.7,340.8 689,340.5 687.4,339.2 685.8,340 684.2,341.2 682.6,347 681,341.8 679.4,338.9 677.8,340.1 676.1,340.6 674.5,338.5 672.9,340 671.3,341.4 669.7,336.1 668.1,338.5 666.5,333.1 664.9,338.7 663.2,336.5 661.6,339.1 660,337.7 658.4,337.5 656.8,336.4 655.2,334.4 653.6,339 652,336.7 650.3,339.6 648.7,337.5 647.1,336.3 645.5,335.5 643.9,332.4 642.3,329.1 640.7,333.3 639.1,332.2 637.4,333.2 635.8,334 634.2,332.5 632.6,333.7 631,334.7 629.4,336.8 627.8,337.7 626.2,336.4 624.5,334.7 622.9,328.7 621.3,327 619.7,328.8 618.1,329.9 616.5,328.9 614.9,329 613.2,326.6 611.6,326.8 610,323.7 608.4,325 606.8,321 605.2,322.3 603.6,323.3 602,321 600.4,322.6 598.7,323.3 597.1,323.3 595.5,321.6 593.9,318.9 592.3,320 590.7,319.9 589.1,319.8 587.5,322.3 585.8,321.5 584.2,323.1 582.6,323.3 581,323.8 579.4,323.1 577.8,323.9 576.2,327.9 574.6,326.7 572.9,330.9 571.3,331.2 569.7,336 568.1,332.3 566.5,332.9 564.9,334.2 563.3,330.2 561.6,330.2 560,328.4 558.4,328.6 556.8,333.5 555.2,332.3 553.6,330.4 552,328.9 550.4,332.9 548.8,328.9 547.1,329.1 545.5,331.7 543.9,331.5 542.3,333.2 540.7,334.5 539.1,333.2 537.5,334.4 535.9,339.6 534.2,333.5 532.6,334.3 531,335.6 529.4,336.7 527.8,340.7 526.2,341 524.6,342.1 523,344.4 521.3,338.5 519.7,334.5 518.1,334.2 516.5,335.6 514.9,333.8 513.3,332.7 511.7,328.3 510.1,329.9 508.4,330.9 506.8,333.8 505.2,335.6 503.6,335.1 502,337.6 500.4,338.4 498.8,337.1 497.1,337.9 495.5,339.6 493.9,337.8 492.3,336 490.7,337.5 489.1,330.7 487.5,330.1 485.9,332.6 484.2,332.2 482.6,333 481,335.1 479.4,331.7 477.8,332.1 476.2,330.7 474.6,328.4 473,327.7 471.4,331 469.7,335.2 468.1,331.3 466.5,333.5 464.9,332.6 463.3,331.7 461.7,333.1 460.1,334.5 458.4,338.3 456.8,337.3 455.2,333.6 453.6,334 452,333.1 450.4,334.8 448.8,336.7 447.2,334 445.6,334.6 443.9,335.6 442.3,331.8 440.7,334.3 439.1,335 437.5,334.4 435.9,333.9 434.3,336.7 432.6,335.9 431,336.6 429.4,337.5 427.8,340 426.2,333.6 424.6,337.4 423,334.5 421.4,333.1 419.8,333.4 418.1,335.4 416.5,332.4 414.9,332.9 413.3,332.1 411.7,331.4 410.1,329.3 408.5,333.9 406.9,330.6 405.2,331.9 403.6,333.3 402,331 400.4,330.2 398.8,330.7 397.2,330.8 395.6,331.8 393.9,329.4 392.3,328.9 390.7,326.4 389.1,324.1 387.5,324.4 385.9,325.8 384.3,327 382.7,329.3 381.1,332.5 379.4,331.7 377.8,332.6 376.2,333.6 374.6,333.3 373,330.4 371.4,327.4 369.8,326.4 368.1,324.9 366.5,327.7 364.9,330.3 363.3,333.4 361.7,333.3 360.1,333 358.5,331.4 356.9,331.6 355.2,330.1 353.6,330.2 352,331 350.4,332.9 348.8,331.8 347.2,332.1 345.6,330.2 344,331.6 342.4,330.5 340.7,331.3 339.1,333.4 337.5,334.1 335.9,333 334.3,332.3 332.7,330.7 331.1,327.8 329.4,331.7 327.8,331.7 326.2,332.5 324.6,332.6 323,334.5 321.4,333.5 319.8,332.3 318.2,332.6 316.6,332.4 314.9,331.1 313.3,333.8 311.7,336 310.1,333.9 308.5,334.9 306.9,337.5 305.3,335.9 303.7,336.9 302,338 300.4,339 298.8,338.6 297.2,337.4 295.6,338 294,337.1 292.4,336.3 290.8,335.4 289.1,335.3 287.5,335.5 285.9,337.4 284.3,337.9 282.7,337.9 281.1,337.4 279.5,339.2 277.9,338.9 276.2,340.1 274.6,337.1 273,338.8 271.4,339.4 269.8,340.6 268.2,343 266.6,343.1 264.9,343.2 263.3,342.1 261.7,341.7 260.1,344.3 258.5,344.7 256.9,345.9 255.3,349.5 253.7,350.3 252.1,348.6 250.4,346.7 248.8,346.6 247.2,346.9 245.6,346.9 244,347 242.4,348.7 240.8,348.5 239.2,349.8 237.5,353.1 235.9,351.6 234.3,353.9 232.7,355 231.1,353.6 229.5,352.7 227.9,353.7 226.2,352 224.6,350.7 223,353.9 221.4,353.4 219.8,353.3 218.2,353.2 216.6,356.8 215,359.9 213.4,362 211.7,362.3 210.1,362.5 208.5,363 206.9,361.7 205.3,361.3 203.7,361.1 202.1,364 200.4,363.4 198.8,364 197.2,365.6 195.6,367.5 194,368.4 192.4,372.4 190.8,372.8 189.2,374 187.6,373.8 185.9,376.3 184.3,375.8 182.7,377.3 181.1,376.2 179.5,378.2 177.9,379.6 176.3,380.2 174.7,381.1 173,384.7 171.4,386.2 169.8,387.1 168.2,390.3 166.6,395.9 165,399.4 163.4,402.2 161.8,404.5 160.1,408.2 158.5,410.6 156.9,418.2 155.3,421.7 153.7,429.1 152.1,433.9 150.5,442.9 148.8,451.2 147.2,456.8 145.6,464.7 144,474.7 142.4,480.3 140.8,484.2 139.2,489.2 137.6,494.1 135.9,498.1 134.3,502.4 132.7,506.9 131.1,510.7 129.5,510.8 127.9,510.9 126.3,511 124.7,511.1 123.1,511.1 121.4,511.1 119.8,511.1 118.2,511.1 116.6,511.1 115,511.1 113.4,511.1 111.8,511.1 110.2,511.1 108.5,511.1 106.9,511.1 105.3,511.1 103.7,511.1"/>
<polygon class="b" fill="#f564d4" points="103.7,511.1 105.3,511.1 106.9,511.1 108.5,511.1 110.2,511.1 111.8,511.1 113.4,511.1 115,511.1 116.6,511.1 118.2,510.3 119.8,507.6 121.4,504.8 123.1,499.2 124.7,492.8 126.3,485.8 127.9,478.8 129.5,470.4 131.1,461.1 132.7,451.2 134.3,441.5 135.9,432.7 137.6,427.7 139.2,417.4 140.8,409.9 142.4,400.9 144,393.7 145.6,386.1 147.2,381.3 148.8,376 150.5,369.8 152.1,365.8 153.7,359.9 155.3,356.4 156.9,355.8 158.5,355.3 160.1,353.4 161.8,350 163.4,347.7 165,344.2 166.6,344 168.2,340.5 169.8,340.1 171.4,337.7 173,334.1 174.7,330.1 176.3,331.3 177.9,327.5 179.5,327.5 181.1,327.2 182.7,327.8 184.3,325.3 185.9,326.8 187.6,327.4 189.2,325.7 190.8,327.6 192.4,326.5 194,325.1 195.6,324.7 197.2,324.4 198.8,323.9 200.4,325.4 202.1,324.4 203.7,323 205.3,323.9 206.9,324.8 208.5,322.2 210.1,323.6 211.7,322 213.4,323 215,322.4 216.6,321.7 218.2,321.7 219.8,323.7 221.4,322.8 223,322.1 224.6,323.3 226.2,323.5 227.9,323.4 229.5,322.1 231.1,321.4 232.7,320.8 234.3,320.1 235.9,318 237.5,317 239.2,316.8 240.8,315.5 242.4,315 244,314.5 245.6,313.6 247.2,312.9 248.8,310.9 250.4,309.4 252.1,310.9 253.7,311 255.3,309 256.9,309.5 258.5,310.6 260.1,309.8 261.7,308.5 263.3,310 264.9,310.7 266.6,310.7 268.2,310.8 269.8,309.4 271.4,307.8 273,306.8 274.6,307.6 276.2,305.9 277.9,304.9 279.5,305.9 281.1,306.4 282.7,306.8 284.3,308.3 285.9,306.9 287.5,308.1 289.1,306.1 290.8,308.1 292.4,306.5 294,307.6 295.6,307.6 297.2,308.2 298.8,307.2 300.4,309.4 302,311.1 303.7,311.6 305.3,310.6 306.9,310.3 308.5,310.6 310.1,308.4 311.7,310.8 313.3,309.9 314.9,309 316.6,310.1 318.2,308.9 319.8,309.7 321.4,309.5 323,308.8 324.6,308 326.2,307.8 327.8,307.9 329.4,305.6 331.1,307.6 332.7,305.2 334.3,305 335.9,302.7 337.5,303.8 339.1,302.4 340.7,300.9 342.4,303.3 344,302.1 345.6,301.3 347.2,300.5 348.8,299.6 350.4,297.1 352,299.7 353.6,297.8 355.2,298.1 356.9,297 358.5,297 360.1,296.9 361.7,295.8 363.3,294.1 364.9,294.9 366.5,293 368.1,294.5 369.8,295.6 371.4,294.8 373,295.8 374.6,296.9 376.2,298.5 377.8,299.5 379.4,299.4 381.1,300.8 382.7,302 384.3,301.2 385.9,301.5 387.5,302.5 389.1,303.2 390.7,303.3 392.3,303 393.9,299.7 395.6,301.9 397.2,302.3 398.8,301.5 400.4,303.9 402,302.8 403.6,304.3 405.2,304.1 406.9,303.5 408.5,302 410.1,302.2 411.7,300.1 413.3,302 414.9,298 416.5,300.5 418.1,301.9 419.8,299.8 421.4,298.3 423,299.2 424.6,299.3 426.2,297.2 427.8,298.1 429.4,297 431,298.5 432.6,296.4 434.3,296.6 435.9,296 437.5,297.8 439.1,298.9 440.7,300.8 442.3,302.3 443.9,303.7 445.6,302.9 447.2,300.7 448.8,300.3 450.4,299.1 452,297.5 453.6,298.2 455.2,299.3 456.8,298.9 458.4,297.5 460.1,298.3 461.7,297 463.3,293.9 464.9,295 466.5,295.1 468.1,295.1 469.7,296.4 471.4,295.7 473,297.6 474.6,298 476.2,297.6 477.8,298.6 479.4,298.7 481,299 482.6,301 484.2,301.6 485.9,299.5 487.5,300 489.1,301 490.7,299.6 492.3,295.6 493.9,297.7 495.5,299.8 497.1,297.9 498.8,296.7 500.4,296.2 502,296.8 503.6,295.6 505.2,296.3 506.8,294.6 508.4,294.3 510.1,292.2 511.7,293.7 513.3,290.1 514.9,288.1 516.5,288.6 518.1,287.6 519.7,288.2 521.3,290 523,290.4 524.6,290.5 526.2,288.6 527.8,287.1 529.4,286.4 531,288.5 532.6,289.2 534.2,292.3 535.9,293.5 537.5,296.5 539.1,296.3 540.7,296.3 542.3,296.1 543.9,293.9 545.5,296.6 547.1,297.9 548.8,298 550.4,298.2 552,297.5 553.6,298.1 555.2,298.2 556.8,298.7 558.4,299.3 560,300.8 561.6,303.1 563.3,302 564.9,300.7 566.5,297.2 568.1,298.6 569.7,299.2 571.3,298.3 572.9,299.4 574.6,300.5 576.2,298.4 577.8,298.6 579.4,301.4 581,302.5 582.6,304.8 584.2,302.9 585.8,303.9 587.5,298.8 589.1,298 590.7,295.2 592.3,294.1 593.9,293.7 595.5,293.2 597.1,293.3 598.7,292.9 600.4,290.8 602,289.5 603.6,291 605.2,289.4 606.8,290.3 608.4,287.8 610,287.4 611.6,286.5 613.2,286 614.9,284.9 616.5,288.1 618.1,290.5 619.7,293.1 621.3,294 622.9,290.8 624.5,294.8 626.2,293.9 627.8,291.3 629.4,287.7 631,287.5 632.6,287.9 634.2,286.9 635.8,285.4 637.4,285.3 639.1,287 640.7,285.4 642.3,285.3 643.9,286.7 645.5,287.9 647.1,285.8 648.7,287.2 650.3,287.2 652,285.9 653.6,288 655.2,286.7 656.8,288 658.4,288.8 660,291.3 661.6,291.2 663.2,293.1 664.9,294.4 666.5,294.2 668.1,293.5 669.7,290.9 671.3,290.2 672.9,293.5 674.5,294.5 676.1,295.1 677.8,295.9 679.4,295.1 681,292.8 682.6,290.7 684.2,293.3 685.8,292.8 687.4,297 689,296.2 690.7,298.6 692.3,299 693.9,299.1 695.5,297.4 697.1,295.2 698.7,296.7 700.3,297.3 701.9,297.8 703.6,298.3 705.2,298.5 706.8,298.5 708.4,298.1 710,301.2 711.6,297.4 713.2,299.6 714.8,298 716.5,293.3 718.1,292.3 719.7,291.1 721.3,293.2 722.9,293.2 724.5,292.7 726.1,290 727.7,292.9 729.4,291 731,287.5 732.6,289.3 734.2,288.2 735.8,288.5 737.4,287.6 739,289.2 740.6,290.2 742.3,291.2 743.9,288.3 745.5,287.9 747.1,289.1 747.1,319.4 745.5,321 743.9,321.1 742.3,322.5 740.6,323.3 739,321.6 737.4,327.1 735.8,325.6 734.2,326.8 732.6,326.2 731,326 729.4,325.7 727.7,326.9 726.1,325 724.5,330.1 722.9,333.1 721.3,335.6 719.7,331.7 718.1,331.6 716.5,331.2 714.8,333.3 713.2,330.7 711.6,330.4 710,330.7 708.4,330.3 706.8,329.9 705.2,329 703.6,332.5 701.9,332.1 700.3,332.3 698.7,334.4 697.1,332.2 695.5,332.8 693.9,332.2 692.3,331.2 690.7,329.9 689,327.2 687.4,327 685.8,328.8 684.2,327 682.6,322.8 681,325.7 679.4,328 677.8,325.4 676.1,324.1 674.5,322.8 672.9,321 671.3,322.4 669.7,322.6 668.1,327.4 666.5,327 664.9,327.8 663.2,327.1 661.6,325.9 660,325.4 658.4,324.7 656.8,325.8 655.2,324.9 653.6,324 652,323.5 650.3,322.6 648.7,324.2 647.1,322.5 645.5,320 643.9,321.9 642.3,318.1 640.7,317.2 639.1,319.4 637.4,319 635.8,319.2 634.2,322.4 632.6,324 631,322 629.4,326.1 627.8,325.6 626.2,328.2 624.5,329.4 622.9,331.9 621.3,330.9 619.7,325.3 618.1,325.7 616.5,324.9 614.9,323.7 613.2,325.2 611.6,324.4 610,322.7 608.4,320.8 606.8,320.9 605.2,321.3 603.6,319.6 602,320 600.4,319.3 598.7,321.2 597.1,323.4 595.5,326.6 593.9,327.4 592.3,331.3 590.7,334.3 589.1,336.6 587.5,336.4 585.8,336.9 584.2,335.4 582.6,337.8 581,338.4 579.4,337.8 577.8,335.8 576.2,334.1 574.6,330.8 572.9,330.7 571.3,331.6 569.7,331.8 568.1,328.5 566.5,328.6 564.9,329.7 563.3,330.5 561.6,329 560,330.2 558.4,332.3 556.8,332.4 555.2,333.1 553.6,333.5 552,331.4 550.4,329.9 548.8,330.4 547.1,327.6 545.5,328 543.9,327.6 542.3,327.4 540.7,324.6 539.1,325.3 537.5,324.3 535.9,326 534.2,324.9 532.6,326.3 531,325 529.4,326 527.8,322.7 526.2,321.1 524.6,320.4 523,319 521.3,322 519.7,323.9 518.1,327.2 516.5,328.3 514.9,330.3 513.3,327.2 511.7,326.6 510.1,326.8 508.4,326.3 506.8,328.4 505.2,327.9 503.6,326.2 502,326.1 500.4,327.3 498.8,326.4 497.1,327.6 495.5,327 493.9,331.1 492.3,329 490.7,328.7 489.1,329.4 487.5,330.7 485.9,326.4 484.2,327.4 482.6,327.7 481,326.6 479.4,329.3 477.8,329 476.2,325.9 474.6,327 473,327.2 471.4,327.8 469.7,324.6 468.1,325.9 466.5,326.4 464.9,327.6 463.3,328.3 461.7,327.4 460.1,328.7 458.4,326.1 456.8,327.9 455.2,329.6 453.6,331.7 452,330 450.4,332.2 448.8,333.9 447.2,334.3 445.6,333.1 443.9,332.1 442.3,331.5 440.7,331.6 439.1,331.7 437.5,333.7 435.9,331.6 434.3,331.8 432.6,333.2 431,330.2 429.4,330.5 427.8,330 426.2,327.4 424.6,326 423,328.8 421.4,326.7 419.8,327.8 418.1,328.8 416.5,329.6 414.9,328 413.3,328.2 411.7,330.7 410.1,329.5 408.5,327.2 406.9,326.6 405.2,329.5 403.6,328.6 402,329.1 400.4,330.3 398.8,330.1 397.2,331.6 395.6,328.7 393.9,328.7 392.3,330.2 390.7,332.1 389.1,330.7 387.5,328.3 385.9,327.7 384.3,327.7 382.7,329.7 381.1,327.3 379.4,328.5 377.8,329.5 376.2,330.4 374.6,328 373,328.6 371.4,327.4 369.8,327 368.1,326.7 366.5,324.4 364.9,329.5 363.3,326.5 361.7,325.3 360.1,326.2 358.5,325.8 356.9,327.4 355.2,323.4 353.6,323.8 352,322.8 350.4,322.5 348.8,324.6 347.2,324.4 345.6,327.6 344,325.9 342.4,328.6 340.7,330.3 339.1,329.7 337.5,332.9 335.9,332.2 334.3,333.6 332.7,333.3 331.1,334.7 329.4,337.4 327.8,336.1 326.2,334.7 324.6,334.1 323,334 321.4,333.4 319.8,332.5 318.2,334.7 316.6,335.2 314.9,333.9 313.3,334.2 311.7,333.1 310.1,331.2 308.5,332.9 306.9,334 305.3,334 303.7,335 302,335.7 300.4,335.4 298.8,334.5 297.2,334.9 295.6,335.4 294,334.6 292.4,332.6 290.8,332.7 289.1,330.6 287.5,333 285.9,331.1 284.3,333.9 282.7,333.3 281.1,330.6 279.5,331 277.9,331.4 276.2,330.8 274.6,330.2 273,331.2 271.4,333.7 269.8,332.1 268.2,333.2 266.6,332.9 264.9,332.5 263.3,334.5 261.7,333.9 260.1,335.5 258.5,333.2 256.9,334.3 255.3,334.6 253.7,334.7 252.1,335.7 250.4,336.4 248.8,337.1 247.2,339.2 245.6,340.9 244,340.6 242.4,343.2 240.8,343.9 239.2,345.5 237.5,344.5 235.9,345 234.3,344 232.7,342 231.1,339.9 229.5,341.4 227.9,339.6 226.2,341.9 224.6,339.2 223,341.5 221.4,342.8 219.8,343.5 218.2,343.8 216.6,343.9 215,344.9 213.4,344.9 211.7,343 210.1,342.2 208.5,343.7 206.9,344.1 205.3,345.1 203.7,346.8 202.1,347.4 200.4,345.8 198.8,347.8 197.2,347.2 195.6,344.8 194,345.7 192.4,347.2 190.8,349.2 189.2,351.2 187.6,352.8 185.9,355.3 184.3,354.2 182.7,355.8 181.1,356 179.5,358.1 177.9,357.2 176.3,359.9 174.7,361 173,363.8 171.4,367.5 169.8,369.3 168.2,372.3 166.6,376.6 165,377 163.4,381.9 161.8,381.9 160.1,384.8 158.5,388.1 156.9,390.4 155.3,394.2 153.7,398.2 152.1,403.3 150.5,411.1 148.8,417.8 147.2,425.3 145.6,431 144,437.3 142.4,441 140.8,450.5 139.2,462.3 137.6,467.4 135.9,477 134.3,486.4 132.7,492.8 131.1,498.9 129.5,505 127.9,507.8 126.3,510.3 124.7,511 123.1,511.1 121.4,511.1 119.8,511.1 118.2,511.1 116.6,511.1 115,511.1 113.4,511.1 111.8,511.1 110.2,511.1 108.5,511.1 106.9,511.1 105.3,511.1 103.7,511.1"/>
<polyline class="l" stroke="#f77189" points="103.7,511.1 105.3,511.1 106.9,511.1 108.5,511.1 110.2,511.1 111.8,511.1 113.4,511.1 115,511.1 116.6,511.1 118.2,511.1 119.8,511.1 121.4,511.1 123.1,511.1 124.7,511.1 126.3,511.1 127.9,511.1 129.5,510 131.1,506.2 132.7,507.8 134.3,503.7 135.9,499.3 137.6,493 139.2,487.9 140.8,483.9 142.4,481.4 144,481 145.6,480.3 147.2,472.1 148.8,466.3 150.5,458.1 152.1,452 153.7,447.2 155.3,438.2 156.9,435.3 158.5,426.1 160.1,422.7 161.8,411.6 163.4,402.3 165,394.9 166.6,389.5 168.2,386.1 169.8,380.7 171.4,379.1 173,377.4 174.7,376.9 176.3,371.1 177.9,360.9 179.5,353.6 181.1,352.5 182.7,352.1 184.3,351.2 185.9,349.3 187.6,351 189.2,350.6 190.8,349.7 192.4,350.7 194,348 195.6,346.1 197.2,340.4 198.8,340.5 200.4,343 202.1,344.6 203.7,341.1 205.3,338.5 206.9,339.3 208.5,344.1 210.1,345.8 211.7,345.6 213.4,346.2 215,342.9 216.6,343.5 218.2,341.7 219.8,341.9 221.4,339.3 223,339.9 224.6,341.7 226.2,343 227.9,343 229.5,346 231.1,345.8 232.7,343.9 234.3,340.3 235.9,342.4 237.5,343.8 239.2,345 240.8,343.6 242.4,341 244,337.3 245.6,335.4 247.2,336.1 248.8,337 250.4,335.5 252.1,333.7 253.7,333 255.3,330.2 256.9,324.7 258.5,321.5 260.1,321.1 261.7,324.4 263.3,326.3 264.9,323.7 266.6,320.7 268.2,320 269.8,318.2 271.4,318.2 273,312.5 274.6,311.6 276.2,306.8 277.9,308.3 279.5,307.6 281.1,308.4 282.7,305.1 284.3,303 285.9,304.6 287.5,305.1 289.1,305.1 290.8,302.6 292.4,302.7 294,298.8 295.6,297.5 297.2,296.6 298.8,297.1 300.4,295.1 302,292.7 303.7,291.4 305.3,290 306.9,288.5 308.5,287.5 310.1,287 311.7,288 313.3,289.6 314.9,290.4 316.6,288.8 318.2,289.3 319.8,289.9 321.4,288.7 323,287.7 324.6,286.4 326.2,284 327.8,280.8 329.4,274.8 331.1,274 332.7,272.4 334.3,272.8 335.9,270.5 337.5,267.1 339.1,264.5 340.7,262.2 342.4,262.2 344,259 345.6,259.3 347.2,255.3 348.8,252.3 350.4,246.1 352,242.2 353.6,244.7 355.2,244.2 356.9,244 358.5,239.1 360.1,240.7 361.7,241 363.3,238.6 364.9,238.7 366.5,237.8 368.1,238.1 369.8,236.1 371.4,235.1 373,237.6 374.6,237 376.2,238.3 377.8,235.2 379.4,232.6 381.1,228.4 382.7,228.7 384.3,227.3 385.9,225.8 387.5,222 389.1,222.4 390.7,221.3 392.3,221.3 393.9,217.1 395.6,216 397.2,211.8 398.8,210.6 400.4,212.3 402,216.4 403.6,216.1 405.2,214.3 406.9,211.1 408.5,212.4 410.1,213.7 411.7,213.9 413.3,213.8 414.9,214 416.5,210.6 418.1,210.5 419.8,204.6 421.4,204.5 423,200.3 424.6,203.2 426.2,202.5 427.8,204.3 429.4,203.2 431,204.7 432.6,200.7 434.3,197.5 435.9,195.1 437.5,196.4 439.1,196.5 440.7,198.9 442.3,198.1 443.9,196.8 445.6,195.9 447.2,195.1 448.8,197.3 450.4,198.2 452,199.2 453.6,199.1 455.2,196.6 456.8,195.5 458.4,191.8 460.1,192.2 461.7,192 463.3,195.5 464.9,194.4 466.5,192.4 468.1,191.3 469.7,190.8 471.4,190.1 473,188.6 474.6,188.7 476.2,187.4 477.8,186.1 479.4,183.7 481,182.4 482.6,179.8 484.2,179.9 485.9,181.5 487.5,181.4 489.1,179.6 490.7,180.3 492.3,177.4 493.9,175.8 495.5,170.3 497.1,173 498.8,170.2 500.4,171.4 502,169 503.6,172.3 505.2,170.8 506.8,170.2 508.4,168.9 510.1,168.6 511.7,168.7 513.3,167.6 514.9,169.5 516.5,171.8 518.1,173.3 519.7,170.8 521.3,166.6 523,164.5 524.6,167.4 526.2,167.9 527.8,166.1 529.4,163.3 531,164.8 532.6,166.7 534.2,167.8 535.9,166.1 537.5,166.8 539.1,164 540.7,164.2 542.3,165.3 543.9,166.5 545.5,165.9 547.1,165.4 548.8,165.7 550.4,169.5 552,166 553.6,165 555.2,163.5 556.8,166.4 558.4,165.7 560,161.6 561.6,159.3 563.3,158.6 564.9,161.8 566.5,164 568.1,163.7 569.7,161.6 571.3,159.6 572.9,158.5 574.6,160.2 576.2,160.3 577.8,160.2 579.4,155.5 581,154.3 582.6,152.9 584.2,156.3 585.8,156.4 587.5,159.9 589.1,162 590.7,162.7 592.3,161.6 593.9,160 595.5,161.7 597.1,162.6 598.7,165.8 600.4,169.6 602,174.3 603.6,174.3 605.2,168.9 606.8,166.4 608.4,164.9 610,166.9 611.6,162 613.2,160.4 614.9,157.4 616.5,158.1 618.1,153 619.7,148.4 621.3,147.4 622.9,151 624.5,151.2 626.2,150.7 627.8,152.3 629.4,152.2 631,151.7 632.6,149.5 634.2,151.1 635.8,151.4 637.4,151.4 639.1,152.5 640.7,151.8 642.3,152.3 643.9,150.9 645.5,154.8 647.1,153.9 648.7,155.9 650.3,152.2 652,154.9 653.6,157.7 655.2,161.6 656.8,161.9 658.4,160.8 660,159.4 661.6,156.7 663.2,153.5 664.9,155 666.5,151.9 668.1,151 669.7,149.9 671.3,157.1 672.9,160 674.5,159.2 676.1,158.9 677.8,158.3 679.4,158.2 681,155.4 682.6,154 684.2,151.7 685.8,150.7 687.4,150.8 689,152.9 690.7,152.7 692.3,151.9 693.9,149.1 695.5,147.8 697.1,150.3 698.7,149.2 700.3,149.8 701.9,146.5 703.6,145.4 705.2,143.8 706.8,146.6 708.4,152.4 710,151.4 711.6,150.6 713.2,149.4 714.8,151.7 716.5,153.6 718.1,156.8 719.7,161 721.3,164.6 722.9,165.5 724.5,163.2 726.1,157.8 727.7,153.8 729.4,152.9 731,151.4 732.6,149.9 734.2,150.3 735.8,150.3 737.4,153.2 739,149.6 740.6,148.4 742.3,144.4 743.9,142.8 745.5,140.5 747.1,140.5"/>
<polyline class="l" stroke="#d58c32" points="103.7,511.1 105.3,511.1 106.9,511.1 108.5,511.1 110.2,511.1 111.8,511.1 113.4,511.1 115,511.1 116.6,511.1 118.2,511.1 119.8,511.1 121.4,511.1 123.1,511.1 124.7,511.1 126.3,511.1 127.9,510.9 129.5,510.7 131.1,507.1 132.7,507.5 134.3,511.1 135.9,511.1 137.6,511.1 139.2,511.1 140.8,511.1 142.4,511.1 144,511.1 145.6,510.4 147.2,511.1 148.8,506.7 150.5,502.8 152.1,499.6 153.7,498.2 155.3,492.1 156.9,485.6 158.5,479.8 160.1,470.7 161.8,463.5 163.4,451.5 165,445.7 166.6,438 168.2,432.5 169.8,423.8 171.4,414 173,409.2 174.7,402.3 176.3,400.2 177.9,391.7 179.5,387.8 181.1,385.4 182.7,381.1 184.3,379.8 185.9,375.2 187.6,378.6 189.2,376 190.8,374.4 192.4,369.1 194,368 195.6,367.9 197.2,371.3 198.8,369.7 200.4,366.9 202.1,359.6 203.7,354.5 205.3,346.8 206.9,342.7 208.5,340.2 210.1,340.8 211.7,338.6 213.4,337.4 215,336.9 216.6,336.7 218.2,335.2 219.8,327.4 221.4,320.7 223,313.8 224.6,315.2 226.2,313.8 227.9,313.4 229.5,308.3 231.1,308.6 232.7,309.8 234.3,311.8 235.9,308.3 237.5,299.8 239.2,294.2 240.8,293.3 242.4,294.3 244,293 245.6,288.9 247.2,289.6 248.8,290.5 250.4,291.1 252.1,288.7 253.7,285.7 255.3,282.5 256.9,284.8 258.5,283.2 260.1,284.6 261.7,282.3 263.3,281.6 264.9,281.6 266.6,281.3 268.2,282 269.8,280.6 271.4,279.4 273,277.8 274.6,277.4 276.2,278.7 277.9,276.3 279.5,276.3 281.1,274.3 282.7,278.4 284.3,280.8 285.9,281.7 287.5,279.4 289.1,274.2 290.8,272 292.4,269.8 294,267.8 295.6,264.9 297.2,264.7 298.8,264.7 300.4,264.6 302,263.3 303.7,258.6 305.3,257.5 306.9,253.7 308.5,254.5 310.1,254.9 311.7,252.6 313.3,252.5 314.9,247.8 316.6,248.3 318.2,248.9 319.8,247.8 321.4,245.9 323,240.5 324.6,238.6 326.2,239.8 327.8,238.2 329.4,236.2 331.1,230.9 332.7,230.5 334.3,231.6 335.9,230.7 337.5,230.8 339.1,224.1 340.7,224 342.4,224 344,227.7 345.6,224.5 347.2,224.1 348.8,227.7 350.4,228 352,227 353.6,224.5 355.2,226 356.9,226.9 358.5,226.6 360.1,224.9 361.7,222.9 363.3,219 364.9,219.4 366.5,216.3 368.1,216 369.8,218.1 371.4,217.4 373,217.3 374.6,212.3 376.2,214 377.8,211.8 379.4,214.4 381.1,216 382.7,216.8 384.3,213.8 385.9,209.3 387.5,207.8 389.1,204.5 390.7,202.7 392.3,199.4 393.9,200.4 395.6,201.4 397.2,203.4 398.8,203.1 400.4,199.4 402,197.1 403.6,196.3 405.2,195.9 406.9,195.3 408.5,196.6 410.1,198.1 411.7,196.6 413.3,196.9 414.9,197.5 416.5,198.8 418.1,195.2 419.8,191.3 421.4,189.9 423,193.3 424.6,196.3 426.2,196.1 427.8,193.5 429.4,192.8 431,193.7 432.6,193.1 434.3,194 435.9,194.6 437.5,194.6 439.1,190.3 440.7,187.2 442.3,185.6 443.9,184 445.6,183.2 447.2,185.1 448.8,184.2 450.4,182.7 452,180.6 453.6,184.9 455.2,186.6 456.8,190.5 458.4,187.3 460.1,189.3 461.7,184.3 463.3,182.5 464.9,179.2 466.5,176.7 468.1,178.8 469.7,179.2 471.4,182.7 473,182.4 474.6,183.1 476.2,181.3 477.8,180 479.4,178.3 481,180.8 482.6,181.4 484.2,178.8 485.9,175.2 487.5,176.2 489.1,177.3 490.7,176.9 492.3,181.9 493.9,181.2 495.5,180.6 497.1,174.5 498.8,176.3 500.4,175.8 502,174.8 503.6,176.8 505.2,176.6 506.8,178.1 508.4,174.1 510.1,174.9 511.7,175.8 513.3,177.1 514.9,175.5 516.5,173.4 518.1,171 519.7,171.5 521.3,172 523,172.3 524.6,173.4 526.2,172.6 527.8,171.1 529.4,171.4 531,171.9 532.6,170.3 534.2,167.5 535.9,164.6 537.5,166.5 539.1,165.9 540.7,164 542.3,157.2 543.9,152.5 545.5,152.2 547.1,151.6 548.8,148.4 550.4,144.6 552,148.5 553.6,151.3 555.2,150.4 556.8,151.2 558.4,151.9 560,157.6 561.6,159.4 563.3,160.6 564.9,156 566.5,150.4 568.1,149.3 569.7,149.7 571.3,151.6 572.9,153.1 574.6,151.1 576.2,147 577.8,141.2 579.4,142.5 581,142.5 582.6,142.8 584.2,142.1 585.8,143 587.5,144.1 589.1,142.1 590.7,138.1 592.3,137.8 593.9,140.3 595.5,144.3 597.1,145.3 598.7,148.9 600.4,154.4 602,158.2 603.6,156.5 605.2,153.1 606.8,149 608.4,146.9 610,145.8 611.6,149.4 613.2,149.5 614.9,149.5 616.5,150.7 618.1,155.3 619.7,154.1 621.3,151.8 622.9,151.6 624.5,156.8 626.2,158.2 627.8,154.5 629.4,152.3 631,151.7 632.6,154 634.2,151.9 635.8,149.2 637.4,150.2 639.1,151.4 640.7,153.6 642.3,152.5 643.9,153.9 645.5,152.3 647.1,151.1 648.7,148.2 650.3,147.1 652,147.9 653.6,148.2 655.2,151.1 656.8,150.7 658.4,151.1 660,151.9 661.6,155.2 663.2,154.5 664.9,155.1 666.5,155.7 668.1,162.5 669.7,163.9 671.3,162.2 672.9,157.4 674.5,155.5 676.1,156.9 677.8,157.3 679.4,161.3 681,160.3 682.6,159.7 684.2,158.1 685.8,157.3 687.4,156.5 689,153.3 690.7,148.7 692.3,148.5 693.9,144.6 695.5,147.1 697.1,147.6 698.7,152.1 700.3,151.5 701.9,152.5 703.6,151.8 705.2,152.8 706.8,148.8 708.4,147.9 710,147.2 711.6,148.9 713.2,147.5 714.8,146.4 716.5,147.6 718.1,148.7 719.7,147 721.3,143 722.9,140.9 724.5,141.9 726.1,143 727.7,145.1 729.4,145.1 731,144.4 732.6,142.6 734.2,139.8 735.8,141.4 737.4,141.6 739,144.1 740.6,141 742.3,140.9 743.9,140.2 745.5,141.2 747.1,142.4"/>
<polyline class="l" stroke="#a4a031" points="103.7,511.1 105.3,511.1 106.9,511.1 108.5,511.1 110.2,511.1 111.8,511.1 113.4,511.1 115,511.1 116.6,511.1 118.2,511.1 119.8,511.1 121.4,511.1 123.1,511.1 124.7,511.1 126.3,510.9 127.9,510.7 129.5,506.3 131.1,511.1 132.7,511.1 134.3,511.1 135.9,511.1 137.6,509.8 139.2,506.9 140.8,504.5 142.4,505.8 144,504.8 145.6,504.3 147.2,501.2 148.8,499.4 150.5,496.6 152.1,496.5 153.7,496.1 155.3,491.2 156.9,484.9 158.5,476.7 160.1,469 161.8,461.2 163.4,456.6 165,451.5 166.6,446 168.2,438.7 169.8,436.2 171.4,431.6 173,425 174.7,415 176.3,408.9 177.9,405.5 179.5,399.7 181.1,394.9 182.7,389.2 184.3,386.1 185.9,382.2 187.6,378.8 189.2,377.6 190.8,376.7 192.4,372.3 194,368.5 195.6,363.7 197.2,364.6 198.8,361.6 200.4,359.3 202.1,353.6 203.7,352.2 205.3,348.7 206.9,343.2 208.5,337.6 210.1,335.6 211.7,336.9 213.4,337.3 215,334 216.6,331.8 218.2,327.1 219.8,322.9 221.4,317 223,312.2 224.6,313.1 226.2,312.7 227.9,309 229.5,305.5 231.1,300 232.7,299.8 234.3,294.5 235.9,295 237.5,294.7 239.2,295.2 240.8,289.4 242.4,285.3 244,285.1 245.6,286.2 247.2,288.3 248.8,286.8 250.4,287.7 252.1,285 253.7,283.8 255.3,283.9 256.9,287.5 258.5,287.2 260.1,286.6 261.7,282.7 263.3,281.9 264.9,280.3 266.6,279.2 268.2,276.9 269.8,273.7 271.4,272.6 273,274.4 274.6,278.6 276.2,275.6 277.9,275.3 279.5,270.3 281.1,269.5 282.7,267.4 284.3,268.8 285.9,271.3 287.5,271.5 289.1,270.8 290.8,270.4 292.4,267.8 294,268.1 295.6,263.1 297.2,261.9 298.8,257.3 300.4,255.4 302,254 303.7,255.7 305.3,259.5 306.9,257.6 308.5,259.3 310.1,256.6 311.7,259.6 313.3,255.7 314.9,252.7 316.6,249.7 318.2,248.9 319.8,249.9 321.4,247.3 323,247.9 324.6,246.3 326.2,245.7 327.8,243.9 329.4,244.3 331.1,241.1 332.7,237.2 334.3,233.8 335.9,235.8 337.5,236.1 339.1,237.1 340.7,236.9 342.4,235.4 344,232.7 345.6,230.4 347.2,230.3 348.8,227.5 350.4,225 352,224.2 353.6,220.4 355.2,221.4 356.9,217.6 358.5,221.3 360.1,216.6 361.7,215.8 363.3,211.7 364.9,211.6 366.5,211.7 368.1,209.8 369.8,208.6 371.4,206.5 373,207.7 374.6,208.1 376.2,207.7 377.8,205.5 379.4,202.6 381.1,203.2 382.7,204.9 384.3,205.3 385.9,205.9 387.5,203.8 389.1,203.7 390.7,204.5 392.3,204.5 393.9,205 395.6,200.4 397.2,199 398.8,197 400.4,196.2 402,194.4 403.6,195.2 405.2,197.7 406.9,199.1 408.5,196.6 410.1,188.7 411.7,185 413.3,181.8 414.9,183 416.5,185.5 418.1,186.3 419.8,184.7 421.4,179.8 423,176.8 424.6,174.6 426.2,172.1 427.8,171.3 429.4,171.3 431,173.1 432.6,169.3 434.3,171 435.9,167.8 437.5,167.7 439.1,166.5 440.7,167 442.3,165.3 443.9,162.4 445.6,161.3 447.2,161.9 448.8,157.7 450.4,156.6 452,158.4 453.6,163.4 455.2,167.4 456.8,166.7 458.4,168.7 460.1,167.2 461.7,166.2 463.3,164.1 464.9,163.2 466.5,163.6 468.1,160 469.7,161 471.4,158.6 473,157.6 474.6,153.2 476.2,153.6 477.8,150.8 479.4,152.1 481,149.7 482.6,151.6 484.2,147.2 485.9,146.8 487.5,142 489.1,145.8 490.7,146.2 492.3,146.7 493.9,145.8 495.5,144.2 497.1,144.2 498.8,143.7 500.4,144.9 502,146.9 503.6,145.2 505.2,144 506.8,142.2 508.4,144.6 510.1,146.5 511.7,150.7 513.3,151.3 514.9,152.1 516.5,151.1 518.1,152.7 519.7,153.5 521.3,154.4 523,152.2 524.6,153.2 526.2,155.2 527.8,156.7 529.4,153.1 531,150.9 532.6,149.8 534.2,151.7 535.9,150.6 537.5,147.3 539.1,139.8 540.7,133.8 542.3,131.7 543.9,133.8 545.5,135 547.1,138 548.8,137.8 550.4,140.8 552,138.9 553.6,137 555.2,132.3 556.8,132.4 558.4,133.6 560,138.9 561.6,139.5 563.3,137.2 564.9,132.2 566.5,129.3 568.1,130.3 569.7,128.9 571.3,130.2 572.9,131.2 574.6,129.4 576.2,130.3 577.8,129.4 579.4,134.2 581,130.6 582.6,131.7 584.2,131.7 585.8,134.8 587.5,133.5 589.1,134.8 590.7,136.9 592.3,138.7 593.9,138 595.5,135.2 597.1,135.9 598.7,136.7 600.4,137.5 602,136.7 603.6,134.6 605.2,135.3 606.8,139.2 608.4,141.1 610,141.4 611.6,139 613.2,138.3 614.9,138.9 616.5,137.3 618.1,138.7 619.7,136.3 621.3,139.9 622.9,143.2 624.5,147 626.2,141.1 627.8,138.1 629.4,136.9 631,141 632.6,140.2 634.2,137.6 635.8,135.8 637.4,129.9 639.1,126.5 640.7,124.2 642.3,124.3 643.9,124.8 645.5,126.4 647.1,125.3 648.7,126.7 650.3,123.4 652,124.4 653.6,121.6 655.2,120.2 656.8,119 658.4,120.7 660,122.9 661.6,123.1 663.2,124.2 664.9,125.5 666.5,127.8 668.1,128.9 669.7,128.7 671.3,130.4 672.9,130 674.5,131.9 676.1,133.9 677.8,132.8 679.4,130.2 681,128.3 682.6,128.3 684.2,129.3 685.8,130.3 687.4,129.7 689,133.2 690.7,131.4 692.3,131.6 693.9,129.8 695.5,126.7 697.1,128.3 698.7,124.2 700.3,126.4 701.9,124 703.6,125.5 705.2,121.3 706.8,121.3 708.4,119.3 710,121.5 711.6,121.5 713.2,123.1 714.8,123.3 716.5,121.7 718.1,119.4 719.7,118.7 721.3,120 722.9,119.8 724.5,121.7 726.1,121 727.7,124.7 729.4,123.8 731,123.2 732.6,121.3 734.2,121 735.8,118.3 737.4,114.4 739,110 740.6,108.7 742.3,107.5 743.9,107.8 745.5,110.2 747.1,112.2"/>
<polyline class="l" stroke="#50b131" points="103.7,511.1 105.3,511.1 106.9,511.1 108.5,511.1 110.2,511.1 111.8,511.1 113.4,511.1 115,511.1 116.6,511.1 118.2,511.1 119.8,511.1 121.4,511.1 123.1,508.6 124.7,504.9 126.3,506.6 127.9,503.2 129.5,504.9 131.1,501.2 132.7,503.1 134.3,499.1 135.9,498.9 137.6,496.3 139.2,499.7 140.8,501.8 142.4,501.8 144,496.8 145.6,492.4 147.2,493.1 148.8,491 150.5,490.2 152.1,484.5 153.7,485 155.3,482 156.9,477.5 158.5,475.1 160.1,469.2 161.8,462.5 163.4,452.1 165,446.9 166.6,443 168.2,441 169.8,431.9 171.4,429.6 173,423.4 174.7,416.8 176.3,407.4 177.9,401.3 179.5,398.6 181.1,396.4 182.7,393.2 184.3,388.2 185.9,384.3 187.6,381 189.2,377.5 190.8,374.5 192.4,370.8 194,368.3 195.6,366.5 197.2,361.4 198.8,356.9 200.4,353.3 202.1,353.4 203.7,351.5 205.3,347.5 206.9,344.1 208.5,339.5 210.1,335.6 211.7,332.7 213.4,328.3 215,325.9 216.6,321.6 218.2,323.6 219.8,322.3 221.4,323 223,318.5 224.6,314.6 226.2,312.7 227.9,314.2 229.5,314.4 231.1,315 232.7,314.5 234.3,312 235.9,310.4 237.5,307.5 239.2,307.5 240.8,305.4 242.4,307.4 244,306.8 245.6,306.3 247.2,304.5 248.8,307.5 250.4,307.8 252.1,306 253.7,304.2 255.3,305.8 256.9,306.9 258.5,303.2 260.1,301.9 261.7,300.1 263.3,300.8 264.9,298.1 266.6,297.2 268.2,296.2 269.8,296.2 271.4,296.4 273,294.6 274.6,293.6 276.2,293.6 277.9,298.2 279.5,299 281.1,301 282.7,297.2 284.3,293.9 285.9,290.3 287.5,289.5 289.1,290.6 290.8,290.8 292.4,289.2 294,288.3 295.6,285.4 297.2,283.9 298.8,284.2 300.4,286.3 302,285.4 303.7,281.4 305.3,276.9 306.9,276.1 308.5,278.4 310.1,278.1 311.7,278.9 313.3,277.3 314.9,279.7 316.6,281.5 318.2,283.4 319.8,285.2 321.4,285.1 323,285.4 324.6,283.2 326.2,283.2 327.8,285 329.4,285.3 331.1,287.5 332.7,284.9 334.3,283.1 335.9,281.3 337.5,281.6 339.1,281.8 340.7,276.4 342.4,273.8 344,273.2 345.6,273.6 347.2,274.9 348.8,275.4 350.4,273.6 352,269.1 353.6,266.5 355.2,268 356.9,269.1 358.5,273.1 360.1,273.7 361.7,273.6 363.3,268.1 364.9,264.8 366.5,262.9 368.1,265.3 369.8,264.6 371.4,263.3 373,259.9 374.6,259.4 376.2,256.1 377.8,258.6 379.4,257.4 381.1,262.7 382.7,263.2 384.3,263.9 385.9,262.8 387.5,262.4 389.1,263.7 390.7,259.6 392.3,259.7 393.9,260.6 395.6,262.7 397.2,261.1 398.8,255.3 400.4,257.5 402,255.4 403.6,256 405.2,252.7 406.9,251.5 408.5,253.5 410.1,251.7 411.7,248.3 413.3,246.1 414.9,247.1 416.5,246 418.1,243.9 419.8,241.1 421.4,243.1 423,245.2 424.6,243.8 426.2,242.8 427.8,241.5 429.4,243 431,241.8 432.6,239.1 434.3,238 435.9,238.4 437.5,240.6 439.1,241.2 440.7,241.3 442.3,239.5 443.9,239.5 445.6,240.4 447.2,241.5 448.8,240.7 450.4,239.5 452,238.9 453.6,239.7 455.2,239.4 456.8,238 458.4,236.1 460.1,235.3 461.7,235.3 463.3,234.8 464.9,232.4 466.5,229.3 468.1,231.1 469.7,230.1 471.4,231.9 473,227.9 474.6,226.8 476.2,222.3 477.8,222.9 479.4,221.8 481,226 482.6,221.1 484.2,221.9 485.9,215.7 487.5,217.1 489.1,215.6 490.7,214.1 492.3,213.7 493.9,212.9 495.5,213.6 497.1,212.3 498.8,209.1 500.4,208 502,208 503.6,210.7 505.2,208.6 506.8,206.1 508.4,201.8 510.1,202.9 511.7,200.7 513.3,199.9 514.9,194.7 516.5,196.2 518.1,195 519.7,195.2 521.3,194.2 523,194.8 524.6,198.2 526.2,198.5 527.8,197.4 529.4,196.6 531,198.1 532.6,196.9 534.2,199.6 535.9,197.7 537.5,202.7 539.1,201.4 540.7,201.1 542.3,198.8 543.9,197.5 545.5,194.6 547.1,195.7 548.8,197.7 550.4,201.7 552,202.6 553.6,198.7 555.2,197.7 556.8,195.9 558.4,195.1 560,191.8 561.6,188.2 563.3,191.5 564.9,191.9 566.5,193.3 568.1,188.2 569.7,185.2 571.3,181.2 572.9,178.2 574.6,171.8 576.2,172 577.8,171.7 579.4,175.1 581,174.7 582.6,177.5 584.2,177.7 585.8,176.4 587.5,174.2 589.1,176.8 590.7,182.6 592.3,186.1 593.9,184.2 595.5,180.1 597.1,181.2 598.7,183.7 600.4,184.6 602,180.3 603.6,179.5 605.2,179.2 606.8,178.7 608.4,178.2 610,177.3 611.6,181.8 613.2,181.2 614.9,180.7 616.5,175.7 618.1,173.6 619.7,177 621.3,176.2 622.9,177.4 624.5,174.1 626.2,176.7 627.8,178.1 629.4,180.3 631,176.7 632.6,177.9 634.2,177.4 635.8,180.3 637.4,179.1 639.1,173.5 640.7,168.2 642.3,164.5 643.9,164.7 645.5,164.8 647.1,165.4 648.7,163.6 650.3,162.1 652,159.1 653.6,160.2 655.2,158.5 656.8,156.6 658.4,154.6 660,154 661.6,154.8 663.2,152.3 664.9,154.9 666.5,155.1 668.1,158.8 669.7,156.7 671.3,156.8 672.9,154.5 674.5,154.9 676.1,154.5 677.8,150.9 679.4,148.6 681,147 682.6,148.1 684.2,148 685.8,147.1 687.4,144.3 689,142.3 690.7,139.4 692.3,140.2 693.9,139.2 695.5,137.7 697.1,136.8 698.7,137.2 700.3,139.1 701.9,142.7 703.6,144.2 705.2,143.5 706.8,139.8 708.4,140.2 710,144.3 711.6,146 713.2,148.5 714.8,149.8 716.5,154.4 718.1,155.4 719.7,149.9 721.3,146.5 722.9,146.6 724.5,149.6 726.1,151.2 727.7,144.4 729.4,143 731,140.5 732.6,139.7 734.2,135.1 735.8,134.4 737.4,135.6 739,139.8 740.6,137.4 742.3,137.1 743.9,135.6 745.5,138.5 747.1,139"/>
<polyline class="d" stroke="#34ae91" points="103.7,511.1 105.3,511.1 106.9,511.1 108.5,511.1 110.2,511.1 111.8,511.1 113.4,511.1 115,511.1 116.6,511.1 118.2,511.1 119.8,511.1 121.4,511.1 123.1,511.1 124.7,511.1 126.3,511.1 127.9,511.1 129.5,511.1 131.1,511.1 132.7,510 134.3,504.1 135.9,502.3 137.6,499.8 139.2,496.5 140.8,492.8 142.4,490.2 144,489.3 145.6,487.9 147.2,485.1 148.8,481.7 150.5,475.5 152.1,472.5 153.7,468.9 155.3,465.5 156.9,462.3 158.5,456.7 160.1,453.9 161.8,450.4 163.4,444 165,437 166.6,428 168.2,422.5 169.8,415.2 171.4,411.2 173,406.1 174.7,403.7 176.3,398.3 177.9,395.5 179.5,391.9 181.1,386.4 182.7,381 184.3,374.3 185.9,369.9 187.6,369 189.2,364.6 190.8,362.8 192.4,360.5 194,361.6 195.6,361.1 197.2,355.4 198.8,354.5 200.4,349.8 202.1,351.1 203.7,348.6 205.3,350.6 206.9,349.4 208.5,349 210.1,347.5 211.7,344.5 213.4,342.2 215,341.2 216.6,343 218.2,340.8 219.8,334.8 221.4,326.6 223,322.8 224.6,324.5 226.2,325.7 227.9,328.7 229.5,329.3 231.1,330.4 232.7,328.5 234.3,329 235.9,328.9 237.5,329.1 239.2,329.1 240.8,325.3 242.4,322.2 244,316.7 245.6,315.4 247.2,316.9 248.8,318.1 250.4,319.7 252.1,317.4 253.7,312.7 255.3,312.3 256.9,311.8 258.5,313 260.1,313.1 261.7,310.9 263.3,314 264.9,312.5 266.6,315.1 268.2,312.7 269.8,311.3 271.4,311.5 273,312 274.6,314.7 276.2,313.1 277.9,308.2 279.5,304.4 281.1,301.4 282.7,301 284.3,298.2 285.9,298.7 287.5,299.5 289.1,299.4 290.8,300.7 292.4,297.2 294,298.3 295.6,296.1 297.2,298.5 298.8,296.7 300.4,294.5 302,291.1 303.7,289.6 305.3,287.1 306.9,288.8 308.5,287.7 310.1,288.5 311.7,287.4 313.3,287 314.9,289.4 316.6,287.2 318.2,286.6 319.8,285.1 321.4,287.9 323,288.2 324.6,290.4 326.2,289.1 327.8,289.2 329.4,284 331.1,285.6 332.7,285.2 334.3,288.4 335.9,291.1 337.5,295.4 339.1,297.5 340.7,292.8 342.4,287.8 344,286.5 345.6,286.9 347.2,287.9 348.8,290.5 350.4,288.7 352,285.7 353.6,284.1 355.2,285.9 356.9,287 358.5,282.5 360.1,278.3 361.7,275.7 363.3,276.5 364.9,277 366.5,279.8 368.1,279.4 369.8,280.1 371.4,278.3 373,278.8 374.6,276.2 376.2,276.7 377.8,275.8 379.4,277.5 381.1,278.8 382.7,278.3 384.3,283.2 385.9,284.9 387.5,285.9 389.1,282.9 390.7,280.8 392.3,281.3 393.9,279.7 395.6,277.3 397.2,277 398.8,276.3 400.4,277.6 402,279.2 403.6,283.6 405.2,284.8 406.9,282 408.5,282 410.1,286 411.7,286.9 413.3,284.4 414.9,282.2 416.5,282.8 418.1,282.1 419.8,283.4 421.4,285.3 423,288.5 424.6,285.2 426.2,285.5 427.8,284.9 429.4,284.2 431,280.6 432.6,277.5 434.3,279.8 435.9,279.7 437.5,281.2 439.1,277.4 440.7,276.3 442.3,273.7 443.9,274.7 445.6,274.6 447.2,274.4 448.8,273.9 450.4,272.9 452,274.3 453.6,275.2 455.2,276.8 456.8,273.9 458.4,269.2 460.1,264.3 461.7,265.5 463.3,264.6 464.9,263.8 466.5,260.2 468.1,259.7 469.7,258.1 471.4,254.9 473,252.6 474.6,249.8 476.2,251.4 477.8,255.2 479.4,257 481,260.8 482.6,259.6 484.2,264.2 485.9,264.2 487.5,265 489.1,265.7 490.7,264.6 492.3,266.9 493.9,267.4 495.5,268.4 497.1,269.1 498.8,269.2 500.4,271.9 502,272.2 503.6,273.5 505.2,272.9 506.8,273.6 508.4,273.3 510.1,273 511.7,273.3 513.3,272.8 514.9,273.1 516.5,271.6 518.1,272.8 519.7,273.8 521.3,277.9 523,280.8 524.6,279.2 526.2,276.1 527.8,268.9 529.4,270.6 531,271.1 532.6,274 534.2,268.8 535.9,266.2 537.5,265.5 539.1,268.4 540.7,269.2 542.3,270.5 543.9,269.9 545.5,271.8 547.1,269.9 548.8,269.3 550.4,267.1 552,268.2 553.6,269.8 555.2,269.1 556.8,268.9 558.4,270.6 560,272.2 561.6,272.3 563.3,270.7 564.9,270.4 566.5,270.2 568.1,270.5 569.7,269.2 571.3,267.9 572.9,266 574.6,267.3 576.2,268.8 577.8,269.9 579.4,272.2 581,273.4 582.6,272.7 584.2,271.1 585.8,269.4 587.5,271.3 589.1,268.9 590.7,268.7 592.3,264.3 593.9,263.6 595.5,263.4 597.1,265 598.7,265.9 600.4,261.4 602,258.9 603.6,257.1 605.2,257.9 606.8,257.4 608.4,257 610,253.5 611.6,254.5 613.2,252.5 614.9,256.8 616.5,254.8 618.1,255.9 619.7,252.3 621.3,250.9 622.9,250 624.5,254.4 626.2,260 627.8,260.4 629.4,258.8 631,258.3 632.6,257.7 634.2,257.6 635.8,254.6 637.4,254.9 639.1,255.2 640.7,256.5 642.3,259.8 643.9,258.7 645.5,259.1 647.1,255 648.7,254.5 650.3,254.8 652,258.3 653.6,260 655.2,259.8 656.8,257 658.4,254.2 660,254.9 661.6,256.6 663.2,256.7 664.9,255.7 666.5,253.2 668.1,255.4 669.7,253.1 671.3,252.6 672.9,249.4 674.5,248.9 676.1,246.5 677.8,244.6 679.4,243.3 681,245.3 682.6,247.9 684.2,250.8 685.8,252.3 687.4,252.9 689,252.1 690.7,251.4 692.3,250.8 693.9,249.3 695.5,249.9 697.1,250.6 698.7,251.3 700.3,250.6 701.9,252.1 703.6,255.3 705.2,255.2 706.8,256.2 708.4,254.4 710,256.2 711.6,251 713.2,252.1 714.8,246.9 716.5,247.4 718.1,242.7 719.7,242.7 721.3,242.4 722.9,244.2 724.5,241.8 726.1,242.6 727.7,241.2 729.4,246.2 731,244.8 732.6,243.3 734.2,241.5 735.8,240.3 737.4,240.7 739,239.3 740.6,237.7 742.3,235 743.9,235.2 745.5,239 747.1,240.6"/>
<polyline class="d" stroke="#37abb5" points="103.7,511.1 105.3,511.1 106.9,511.1 108.5,511.1 110.2,511.1 111.8,511.1 113.4,511.1 115,511.1 116.6,511.1 118.2,511.1 119.8,511.1 121.4,511.1 123.1,511.1 124.7,511.1 126.3,511.1 127.9,511.1 129.5,511.1 131.1,511.1 132.7,511.1 134.3,508.9 135.9,510.9 137.6,511.1 139.2,508.1 140.8,506.9 142.4,499.3 144,498.8 145.6,497.8 147.2,498.7 148.8,496.5 150.5,490.1 152.1,484.2 153.7,478.5 155.3,469.8 156.9,467.6 158.5,463.4 160.1,460.5 161.8,450.6 163.4,443.6 165,440.1 166.6,436.8 168.2,433.7 169.8,430.6 171.4,427.3 173,425.6 174.7,421.4 176.3,419.3 177.9,412.8 179.5,409.2 181.1,402.3 182.7,398.1 184.3,393.6 185.9,392.9 187.6,388.9 189.2,388.4 190.8,381.6 192.4,376.9 194,369.6 195.6,367.3 197.2,368.2 198.8,366.6 200.4,366.4 202.1,360.8 203.7,357.3 205.3,351.7 206.9,352.2 208.5,352.6 210.1,352.4 211.7,349.9 213.4,347.9 215,346 216.6,343.5 218.2,341.7 219.8,339.4 221.4,338 223,337.6 224.6,338.5 226.2,337.4 227.9,335.5 229.5,332.8 231.1,331.5 232.7,328.5 234.3,327.9 235.9,327.8 237.5,328.3 239.2,328.6 240.8,327.9 242.4,324.5 244,325.1 245.6,325.3 247.2,325.4 248.8,323.2 250.4,322.1 252.1,320.6 253.7,318 255.3,315.9 256.9,317.6 258.5,316.3 260.1,312.7 261.7,308.6 263.3,309 264.9,308.8 266.6,307.7 268.2,306.2 269.8,306.6 271.4,307.5 273,308.1 274.6,309.2 276.2,310.5 277.9,310 279.5,309.7 281.1,309.4 282.7,311.7 284.3,312.5 285.9,316 287.5,314.2 289.1,313.8 290.8,313.3 292.4,314.2 294,316.1 295.6,314.2 297.2,312.5 298.8,311.6 300.4,313.9 302,317.9 303.7,318.2 305.3,318.3 306.9,317.1 308.5,319.8 310.1,316.7 311.7,317.4 313.3,314.2 314.9,314 316.6,311.8 318.2,314 319.8,317.5 321.4,316.4 323,313 324.6,311.1 326.2,309.9 327.8,308.3 329.4,305.3 331.1,307.7 332.7,308.2 334.3,309.1 335.9,307.5 337.5,305.3 339.1,307.4 340.7,309.1 342.4,311.7 344,309.2 345.6,308.6 347.2,306.9 348.8,304.9 350.4,303.1 352,300.8 353.6,302 355.2,304.4 356.9,305.8 358.5,304.8 360.1,302.6 361.7,302.2 363.3,300.1 364.9,297.8 366.5,298.5 368.1,301.7 369.8,300.7 371.4,297.6 373,296.8 374.6,298 376.2,300 377.8,297.9 379.4,297.6 381.1,295.4 382.7,299 384.3,304.1 385.9,308.2 387.5,305.6 389.1,304.6 390.7,306.1 392.3,307.2 393.9,305.5 395.6,302 397.2,302.4 398.8,297.8 400.4,297.8 402,295.1 403.6,300.3 405.2,300.3 406.9,298.2 408.5,296 410.1,294.3 411.7,296.5 413.3,294.8 414.9,297.4 416.5,297.6 418.1,300.7 419.8,300.2 421.4,301 423,296.8 424.6,295.8 426.2,295.6 427.8,294.4 429.4,293.5 431,291.9 432.6,291.3 434.3,292.6 435.9,291.4 437.5,290.7 439.1,290.4 440.7,289.6 442.3,290.2 443.9,287.3 445.6,288.1 447.2,284.7 448.8,283.6 450.4,286.6 452,289.6 453.6,291.9 455.2,287.9 456.8,285 458.4,282.5 460.1,284.6 461.7,288.9 463.3,289 464.9,286.8 466.5,282.3 468.1,281.5 469.7,280.6 471.4,279.8 473,280.2 474.6,279.6 476.2,282.7 477.8,282.8 479.4,281.5 481,282.7 482.6,285.4 484.2,287.9 485.9,283.7 487.5,281 489.1,280.6 490.7,280.6 492.3,280 493.9,278.4 495.5,281.9 497.1,285.1 498.8,285 500.4,284.4 502,281 503.6,279.1 505.2,277.6 506.8,279.9 508.4,281.6 510.1,282.8 511.7,279.6 513.3,277.7 514.9,276.4 516.5,276.8 518.1,278.8 519.7,278.3 521.3,278.7 523,279.8 524.6,279.6 526.2,279.8 527.8,282 529.4,284.8 531,287.7 532.6,289 534.2,289.8 535.9,287.5 537.5,283.4 539.1,281.6 540.7,282.9 542.3,282 543.9,283.6 545.5,281.3 547.1,283.4 548.8,281.8 550.4,285.4 552,283.7 553.6,284.3 555.2,282.6 556.8,284.3 558.4,281.1 560,278.8 561.6,278.4 563.3,281.7 564.9,284.9 566.5,281.8 568.1,280.9 569.7,279.5 571.3,280 572.9,275 574.6,274.2 576.2,275.5 577.8,277.7 579.4,281.4 581,283.6 582.6,284.1 584.2,280.6 585.8,277.8 587.5,278.3 589.1,280.1 590.7,281 592.3,278.6 593.9,279.4 595.5,276.7 597.1,279.2 598.7,280 600.4,281.1 602,282.2 603.6,279.2 605.2,279.5 606.8,272.4 608.4,271.5 610,272.6 611.6,273 613.2,268.9 614.9,265.2 616.5,266 618.1,265.2 619.7,262.7 621.3,261.2 622.9,259.7 624.5,260.2 626.2,259.7 627.8,262.7 629.4,263.8 631,262.7 632.6,259 634.2,256.2 635.8,257.9 637.4,260.6 639.1,264.1 640.7,265.7 642.3,266.6 643.9,264 645.5,261.2 647.1,260.3 648.7,261.2 650.3,264.6 652,265.6 653.6,266.1 655.2,265.9 656.8,266 658.4,270.4 660,269.5 661.6,271.2 663.2,269.2 664.9,270.4 666.5,274.5 668.1,273.1 669.7,269.2 671.3,263.5 672.9,261.8 674.5,267.9 676.1,269.7 677.8,274.1 679.4,270 681,270.4 682.6,267.2 684.2,270.1 685.8,265.8 687.4,267.5 689,266.9 690.7,266.9 692.3,267.3 693.9,268.9 695.5,265.8 697.1,262.5 698.7,258 700.3,260.3 701.9,259 703.6,259 705.2,257.5 706.8,259.2 708.4,262.4 710,264.2 711.6,260.4 713.2,257.9 714.8,260.2 716.5,260.7 718.1,258.6 719.7,257.2 721.3,258.8 722.9,259.2 724.5,259.2 726.1,257.5 727.7,256.3 729.4,252.7 731,251.8 732.6,254.7 734.2,256.7 735.8,257.1 737.4,253.2 739,256.4 740.6,258.9 742.3,261.4 743.9,258.2 745.5,260 747.1,258.6"/>
<polyline class="d" stroke="#3ba3ec" points="103.7,511.1 105.3,511.1 106.9,511.1 108.5,511.1 110.2,511.1 111.8,511.1 113.4,511.1 115,511.1 116.6,511.1 118.2,511.1 119.8,511.1 121.4,511.1 123.1,508.8 124.7,509.9 126.3,509.4 127.9,499.1 129.5,494.4 131.1,486.5 132.7,480.8 134.3,468.3 135.9,457.1 137.6,448 139.2,439.7 140.8,431.2 142.4,422.5 144,414.5 145.6,405.9 147.2,401.8 148.8,396.6 150.5,392.7 152.1,391.1 153.7,388.2 155.3,383.8 156.9,380.5 158.5,378.1 160.1,375.7 161.8,370.6 163.4,367.4 165,365.9 166.6,365.2 168.2,364.4 169.8,363.7 171.4,365.4 173,364 174.7,359.7 176.3,356.9 177.9,356.3 179.5,356.9 181.1,353.4 182.7,347.8 184.3,347.9 185.9,346.9 187.6,350.6 189.2,349.9 190.8,350.7 192.4,348.4 194,345.6 195.6,343.4 197.2,343.8 198.8,343.7 200.4,345.1 202.1,343.9 203.7,344.8 205.3,342.7 206.9,340.4 208.5,334.5 210.1,334.4 211.7,334.1 213.4,337.9 215,338.2 216.6,340.9 218.2,343.9 219.8,343 221.4,342.6 223,340.6 224.6,339 226.2,340 227.9,337.3 229.5,339.4 231.1,335.8 232.7,337.2 234.3,336.1 235.9,336 237.5,334.3 239.2,333.7 240.8,332.8 242.4,332.1 244,332.3 245.6,335.4 247.2,339.2 248.8,339.1 250.4,336.6 252.1,339.2 253.7,340.3 255.3,342.9 256.9,337.2 258.5,337.4 260.1,334.6 261.7,336.2 263.3,332.4 264.9,329.7 266.6,330.2 268.2,333.8 269.8,334.6 271.4,335.5 273,333.5 274.6,334.7 276.2,336.2 277.9,337.6 279.5,338.4 281.1,337.2 282.7,333.7 284.3,336.2 285.9,334.1 287.5,337.9 289.1,336 290.8,339.2 292.4,338.4 294,337.6 295.6,336.5 297.2,338.1 298.8,344.1 300.4,344.9 302,347.4 303.7,342.2 305.3,343.8 306.9,343.3 308.5,346.9 310.1,344.9 311.7,343 313.3,340 314.9,341.5 316.6,338.6 318.2,335.9 319.8,333.4 321.4,335.6 323,339.1 324.6,339.6 326.2,335.6 327.8,333.8 329.4,334.1 331.1,330.9 332.7,326.7 334.3,321.2 335.9,326.5 337.5,328.1 339.1,332.1 340.7,332.2 342.4,332.9 344,333.6 345.6,333.3 347.2,336.6 348.8,333.9 350.4,334.9 352,333 353.6,334.4 355.2,335.5 356.9,337 358.5,337.8 360.1,339.4 361.7,337.3 363.3,333.9 364.9,327.5 366.5,327 368.1,326.2 369.8,329.2 371.4,330.2 373,335.2 374.6,335.5 376.2,335.1 377.8,335.2 379.4,335.1 381.1,332.7 382.7,329 384.3,328.7 385.9,330.3 387.5,330.5 389.1,331.4 390.7,328.9 392.3,328.5 393.9,326.2 395.6,329 397.2,331.8 398.8,333.5 400.4,334 402,333.2 403.6,332.8 405.2,334.2 406.9,334 408.5,331.7 410.1,331 411.7,327.5 413.3,327.8 414.9,329 416.5,331.2 418.1,331.9 419.8,326 421.4,323.8 423,320 424.6,318.7 426.2,317.7 427.8,320 429.4,321.6 431,320.6 432.6,319.4 434.3,318.3 435.9,320.5 437.5,322.3 439.1,324.5 440.7,323.6 442.3,324.3 443.9,323.7 445.6,325.5 447.2,326 448.8,326.4 450.4,323.8 452,324.1 453.6,321.3 455.2,323.8 456.8,323.4 458.4,327.2 460.1,330.6 461.7,328.6 463.3,328.3 464.9,328.5 466.5,331.2 468.1,332.5 469.7,328.8 471.4,324.6 473,322.7 474.6,323.2 476.2,322.5 477.8,321.1 479.4,319.4 481,320.7 482.6,322.9 484.2,322.9 485.9,319.5 487.5,316.6 489.1,314.3 490.7,318.5 492.3,318.7 493.9,322.1 495.5,319.5 497.1,319.8 498.8,317.8 500.4,317.1 502,318.7 503.6,317.9 505.2,320.1 506.8,320.9 508.4,324.4 510.1,324.7 511.7,325.8 513.3,325.4 514.9,327.4 516.5,328.7 518.1,334.7 519.7,335.5 521.3,333.5 523,330.8 524.6,330 526.2,333.2 527.8,331 529.4,330.1 531,328.6 532.6,329 534.2,333 535.9,330.6 537.5,331.8 539.1,328.2 540.7,326.7 542.3,324.5 543.9,324.4 545.5,326.3 547.1,327.2 548.8,328 550.4,325.9 552,324.7 553.6,322.9 555.2,325.5 556.8,322.8 558.4,324.1 560,323.2 561.6,324.9 563.3,324.4 564.9,326.2 566.5,327.1 568.1,326.3 569.7,324.7 571.3,324 572.9,325.1 574.6,329.2 576.2,330.7 577.8,331.2 579.4,328.5 581,327.5 582.6,329.3 584.2,328.3 585.8,329.2 587.5,326 589.1,323.2 590.7,320.8 592.3,320.7 593.9,324.7 595.5,324.3 597.1,327.4 598.7,327.4 600.4,332.8 602,330.3 603.6,330.5 605.2,327.7 606.8,329.6 608.4,325.9 610,324.5 611.6,322.4 613.2,327 614.9,327.6 616.5,329.4 618.1,329.4 619.7,333.6 621.3,334 622.9,338 624.5,336.9 626.2,340.1 627.8,335.1 629.4,332.6 631,327.3 632.6,329.6 634.2,328.4 635.8,326.2 637.4,324.4 639.1,327 640.7,330.5 642.3,330.1 643.9,327.8 645.5,328.2 647.1,327.1 648.7,328.9 650.3,329.8 652,330.8 653.6,331.1 655.2,329.8 656.8,329.8 658.4,330.8 660,330.7 661.6,334.3 663.2,335 664.9,333.5 666.5,330 668.1,329.4 669.7,332.2 671.3,333.4 672.9,332.9 674.5,334.2 676.1,333.5 677.8,333.3 679.4,333.5 681,335.3 682.6,334.9 684.2,331.8 685.8,325.9 687.4,322.1 689,325.7 690.7,329.1 692.3,329.9 693.9,324.3 695.5,320.5 697.1,319.9 698.7,320.3 700.3,320.6 701.9,322.5 703.6,324.1 705.2,325.5 706.8,323.3 708.4,320 710,320.7 711.6,320.3 713.2,319.4 714.8,316.6 716.5,321.6 718.1,325.3 719.7,328.8 721.3,327.5 722.9,329.9 724.5,330.3 726.1,327.9 727.7,326.7 729.4,323 731,326.7 732.6,325 734.2,329.1 735.8,329.8 737.4,330 739,329.4 740.6,327.7 742.3,326.2 743.9,325.3 745.5,327.5 747.1,329.3"/>
<polyline class="d" stroke="#bb83f4" points="103.7,511.1 105.3,511.1 106.9,511.1 108.5,511.1 110.2,511.1 111.8,511.1 113.4,511.1 115,511.1 116.6,511.1 118.2,511.1 119.8,511.1 121.4,511.1 123.1,511.1 124.7,511.1 126.3,507.9 127.9,504.5 129.5,503 131.1,497 132.7,490.6 134.3,482.6 135.9,480.6 137.6,476.4 139.2,468 140.8,455.5 142.4,449.6 144,439.8 145.6,432.9 147.2,421.4 148.8,414.6 150.5,408.7 152.1,404.7 153.7,401.4 155.3,394.2 156.9,390.5 158.5,385 160.1,383.1 161.8,380.5 163.4,379 165,376.2 166.6,376.6 168.2,371.3 169.8,369.2 171.4,364 173,367.5 174.7,368.4 176.3,369.2 177.9,365 179.5,363.5 181.1,362.1 182.7,361 184.3,360 185.9,360.6 187.6,364.8 189.2,362.8 190.8,356.6 192.4,350.7 194,348.9 195.6,352 197.2,349.5 198.8,350.1 200.4,345.7 202.1,343.6 203.7,340.6 205.3,343.2 206.9,345.2 208.5,345.9 210.1,342.5 211.7,340.1 213.4,335.7 215,333.8 216.6,335.2 218.2,336.9 219.8,339.4 221.4,338.6 223,339.5 224.6,336.9 226.2,335.8 227.9,334.9 229.5,336 231.1,337.7 232.7,335.6 234.3,334 235.9,331.5 237.5,333.5 239.2,333.3 240.8,334.1 242.4,331.6 244,328.3 245.6,326.5 247.2,326.2 248.8,331.8 250.4,333.1 252.1,335.9 253.7,333.5 255.3,330.7 256.9,324.9 258.5,323.6 260.1,327.5 261.7,327.5 263.3,325.4 264.9,322.2 266.6,326.7 268.2,325.9 269.8,325.3 271.4,321.5 273,325.8 274.6,326.4 276.2,324.1 277.9,322.1 279.5,320.2 281.1,322.9 282.7,321.5 284.3,321.8 285.9,323.1 287.5,323.3 289.1,324.3 290.8,323.7 292.4,322.9 294,323 295.6,323.2 297.2,320.7 298.8,318.4 300.4,316.4 302,317.6 303.7,320.7 305.3,320.1 306.9,320 308.5,316.7 310.1,317.8 311.7,317.9 313.3,317.7 314.9,317.3 316.6,313.9 318.2,314.9 319.8,315.9 321.4,319.2 323,316.2 324.6,315.6 326.2,312.3 327.8,313.1 329.4,310.6 331.1,312.9 332.7,312.2 334.3,314.1 335.9,315.2 337.5,318.4 339.1,316 340.7,316.5 342.4,316.6 344,318.1 345.6,316.9 347.2,315.1 348.8,315.9 350.4,316.3 352,317.5 353.6,315.2 355.2,312.8 356.9,313.6 358.5,315.7 360.1,318.4 361.7,317.4 363.3,314.5 364.9,314 366.5,312.7 368.1,313.7 369.8,311 371.4,311.6 373,309.2 374.6,309.4 376.2,311.3 377.8,313.1 379.4,315 381.1,313.2 382.7,312.4 384.3,312.7 385.9,310 387.5,307.6 389.1,303.2 390.7,304.2 392.3,306.4 393.9,310.7 395.6,310.8 397.2,312.7 398.8,312.1 400.4,312.9 402,311.6 403.6,312 405.2,310.1 406.9,311.9 408.5,310.4 410.1,312.5 411.7,312.7 413.3,312.6 414.9,312.9 416.5,313.7 418.1,314.4 419.8,316.4 421.4,315.4 423,318.9 424.6,317.3 426.2,321.6 427.8,321.9 429.4,323.5 431,319.3 432.6,318.7 434.3,316 435.9,316.9 437.5,315.8 439.1,320.1 440.7,318 442.3,318.1 443.9,315.6 445.6,316.3 447.2,313.7 448.8,313 450.4,311.7 452,313.1 453.6,313.2 455.2,313.9 456.8,310.4 458.4,308.4 460.1,309.5 461.7,311 463.3,310.4 464.9,309.5 466.5,309.4 468.1,309.5 469.7,310.8 471.4,309.8 473,312.3 474.6,309.3 476.2,312.3 477.8,311.2 479.4,312.6 481,312.5 482.6,311.3 484.2,311.1 485.9,308 487.5,310 489.1,311.3 490.7,314.1 492.3,314.3 493.9,315.8 495.5,316.9 497.1,316 498.8,311.3 500.4,313.4 502,313.5 503.6,318.8 505.2,312.6 506.8,312.6 508.4,308.9 510.1,315 511.7,313.8 513.3,314.4 514.9,310.1 516.5,308.5 518.1,307.9 519.7,306.3 521.3,308.5 523,311.6 524.6,313.7 526.2,313.3 527.8,312.9 529.4,313.8 531,314.6 532.6,314 534.2,315.3 535.9,312.3 537.5,309.9 539.1,306.9 540.7,306.8 542.3,308.3 543.9,309.1 545.5,309.7 547.1,305.6 548.8,303.6 550.4,303.5 552,304.5 553.6,304.9 555.2,303.8 556.8,306.6 558.4,303.9 560,306.3 561.6,303.3 563.3,305 564.9,305.1 566.5,306.6 568.1,307.5 569.7,306.1 571.3,304 572.9,303.7 574.6,302.1 576.2,301.6 577.8,302.2 579.4,303.1 581,302.9 582.6,302.9 584.2,304.6 585.8,305.8 587.5,305.1 589.1,305 590.7,306 592.3,302.7 593.9,300 595.5,298.4 597.1,298.8 598.7,297.2 600.4,297.7 602,296.8 603.6,300.9 605.2,303.7 606.8,309.1 608.4,307 610,303.9 611.6,299.5 613.2,298.3 614.9,299.3 616.5,304.7 618.1,309.9 619.7,309.4 621.3,310.1 622.9,308.7 624.5,311.1 626.2,309.5 627.8,306.9 629.4,306.7 631,305.3 632.6,309.8 634.2,312.9 635.8,314.9 637.4,319.4 639.1,316.3 640.7,318.7 642.3,314.8 643.9,317.3 645.5,316.2 647.1,316.7 648.7,316.4 650.3,316.2 652,313 653.6,310.7 655.2,309.9 656.8,313.3 658.4,313.1 660,313.9 661.6,311.4 663.2,312.6 664.9,314.3 666.5,315 668.1,317.4 669.7,315 671.3,312.9 672.9,309.4 674.5,313.5 676.1,317.7 677.8,319.2 679.4,317.6 681,317 682.6,317.2 684.2,318.8 685.8,318.5 687.4,318.6 689,316.2 690.7,319 692.3,319.9 693.9,321.4 695.5,318.9 697.1,322.5 698.7,324.8 700.3,327.9 701.9,324.8 703.6,325.3 705.2,327.3 706.8,329.5 708.4,326 710,319.2 711.6,314.6 713.2,313.5 714.8,317.7 716.5,318.3 718.1,318.3 719.7,314.1 721.3,313.7 722.9,312.1 724.5,313.8 726.1,312.9 727.7,313.8 729.4,310.3 731,313.5 732.6,315.2 734.2,317.1 735.8,314.6 737.4,309.7 739,309.6 740.6,308.9 742.3,312.8 743.9,312.8 745.5,311.7 747.1,310.5"/>
<polyline class="d" stroke="#f564d4" points="103.7,511.1 105.3,511.1 106.9,511.1 108.5,511.1 110.2,511.1 111.8,511.1 113.4,511.1 115,511.1 116.6,511.1 118.2,511.1 119.8,511.1 121.4,511.1 123.1,508.2 124.7,506.1 126.3,501.2 127.9,497.4 129.5,491.2 131.1,480.3 132.7,469.8 134.3,459.7 135.9,450.1 137.6,441.6 139.2,434.2 140.8,426.1 142.4,417.4 144,408.8 145.6,402.4 147.2,396.9 148.8,389.5 150.5,385 152.1,379.3 153.7,378.6 155.3,371.8 156.9,368.5 158.5,365.1 160.1,364.9 161.8,361.3 163.4,355.4 165,352.8 166.6,352.2 168.2,351.3 169.8,347.7 171.4,346.2 173,343.1 174.7,341.7 176.3,337.9 177.9,340 179.5,339.9 181.1,344.2 182.7,339.3 184.3,337.7 185.9,334.4 187.6,337.3 189.2,338.8 190.8,339.3 192.4,336.3 194,335.2 195.6,330.7 197.2,332.4 198.8,334.3 200.4,333.5 202.1,333.1 203.7,333 205.3,334.9 206.9,331.1 208.5,328.5 210.1,328.4 211.7,329.3 213.4,330.2 215,330.6 216.6,330.5 218.2,330.2 219.8,327.5 221.4,330.9 223,331.9 224.6,335.6 226.2,334.7 227.9,333.8 229.5,332.2 231.1,328.4 232.7,330.3 234.3,332.6 235.9,336.6 237.5,333.2 239.2,332 240.8,330.1 242.4,329.9 244,327.5 245.6,326.5 247.2,324.8 248.8,326.3 250.4,321.5 252.1,321.1 253.7,316.7 255.3,316 256.9,315.5 258.5,319.6 260.1,321.6 261.7,323.2 263.3,319.5 264.9,321.1 266.6,318.5 268.2,318.9 269.8,319.8 271.4,318.1 273,314.1 274.6,313.1 276.2,315.3 277.9,320.9 279.5,319.1 281.1,318.8 282.7,316.5 284.3,315.4 285.9,314.9 287.5,317.2 289.1,321.9 290.8,323.4 292.4,322.5 294,318.7 295.6,316.5 297.2,316.1 298.8,318.2 300.4,320.8 302,322.2 303.7,321.7 305.3,323.1 306.9,321.7 308.5,323.1 310.1,324.1 311.7,324.5 313.3,322.7 314.9,320 316.6,321.9 318.2,324.6 319.8,327.1 321.4,322.8 323,318.4 324.6,314.8 326.2,314.1 327.8,313.3 329.4,311.7 331.1,313.2 332.7,311.4 334.3,310.5 335.9,311.5 337.5,312.5 339.1,312 340.7,306.5 342.4,308 344,309.3 345.6,312 347.2,312.2 348.8,312.7 350.4,312.6 352,312.9 353.6,311.8 355.2,312.5 356.9,311.3 358.5,312.6 360.1,310.1 361.7,306.9 363.3,306.4 364.9,308.6 366.5,314.1 368.1,314.2 369.8,311.9 371.4,308.4 373,307.2 374.6,310.1 376.2,312.5 377.8,314.8 379.4,313.7 381.1,311.9 382.7,313.8 384.3,317.5 385.9,317.7 387.5,315.7 389.1,311.9 390.7,314.2 392.3,317.6 393.9,319.9 395.6,320.7 397.2,318.4 398.8,318.9 400.4,316.4 402,312.2 403.6,310.4 405.2,310.8 406.9,315.2 408.5,314.2 410.1,313.6 411.7,314.1 413.3,315.1 414.9,316.2 416.5,313.1 418.1,310.7 419.8,310.5 421.4,310.6 423,313.6 424.6,312.2 426.2,310.8 427.8,313.2 429.4,314.1 431,314.6 432.6,313.2 434.3,314.7 435.9,318.3 437.5,318 439.1,316.5 440.7,315.3 442.3,313 443.9,312 445.6,312.1 447.2,313 448.8,315.3 450.4,314.8 452,313.1 453.6,311.9 455.2,311.5 456.8,311.8 458.4,310.5 460.1,310.7 461.7,313.3 463.3,314.4 464.9,314 466.5,310 468.1,310.6 469.7,309.4 471.4,312.4 473,312.3 474.6,317.9 476.2,318.2 477.8,316.3 479.4,315 481,314.8 482.6,315.5 484.2,312.5 485.9,311.6 487.5,311.2 489.1,310.4 490.7,309.9 492.3,310 493.9,311.6 495.5,312.3 497.1,315.1 498.8,314.2 500.4,314.8 502,309.9 503.6,309.5 505.2,307.3 506.8,309.2 508.4,308.4 510.1,308.6 511.7,309.7 513.3,312.6 514.9,314.8 516.5,311.4 518.1,307.7 519.7,304.7 521.3,303.5 523,302.5 524.6,304.2 526.2,307.2 527.8,310.6 529.4,309.6 531,309.2 532.6,310.2 534.2,309 535.9,309.4 537.5,308.1 539.1,310.5 540.7,310.9 542.3,314.3 543.9,315.8 545.5,317.6 547.1,314.1 548.8,312.2 550.4,311.8 552,307.1 553.6,312.2 555.2,313 556.8,316 558.4,310.8 560,312.2 561.6,314 563.3,314.6 564.9,310.2 566.5,309.7 568.1,310.5 569.7,313.4 571.3,316.1 572.9,316.7 574.6,318.2 576.2,318.3 577.8,318.9 579.4,318.9 581,323.8 582.6,323.7 584.2,324.3 585.8,319.4 587.5,316.7 589.1,314.7 590.7,309.9 592.3,309.6 593.9,309.1 595.5,310 597.1,310.4 598.7,306.9 600.4,306.5 602,304.6 603.6,303.3 605.2,302.3 606.8,300.6 608.4,302.8 610,302.7 611.6,304.4 613.2,303.2 614.9,301.3 616.5,303.1 618.1,303.3 619.7,306.9 621.3,307.1 622.9,311 624.5,310.8 626.2,311 627.8,304.8 629.4,304.9 631,302.2 632.6,302.5 634.2,299.5 635.8,300.8 637.4,303.2 639.1,301.5 640.7,302.1 642.3,301.7 643.9,302.6 645.5,303.8 647.1,305.6 648.7,309.5 650.3,308.3 652,306.6 653.6,307.2 655.2,307.9 656.8,307.6 658.4,305 660,305.1 661.6,308.6 663.2,312.2 664.9,311.2 666.5,309.8 668.1,307 669.7,307.2 671.3,306.9 672.9,310.3 674.5,309.7 676.1,313.2 677.8,308.7 679.4,312 681,309.8 682.6,314.1 684.2,310.4 685.8,310.4 687.4,308 689,309.5 690.7,311.3 692.3,314 693.9,317.1 695.5,317.2 697.1,315.3 698.7,313.2 700.3,311.4 701.9,314.2 703.6,316.8 705.2,316.5 706.8,315 708.4,313.5 710,315.8 711.6,315.9 713.2,314.8 714.8,314.5 716.5,314.6 718.1,317 719.7,315.3 721.3,314.5 722.9,313.8 724.5,312.6 726.1,310.3 727.7,307.4 729.4,309.7 731,311 732.6,311.4 734.2,305.6 735.8,303.1 737.4,300.5 739,303.2 740.6,305.1 742.3,303.2 743.9,302.4 745.5,300.4 747.1,303.5"/>
</g>
<g class="lg">
<line class="l" stroke="#f77189" x1="118.4" x2="150.4" y1="76.8" y2="76.8"/>
<text x="163.2" y="82.5">BBQN-VIME-MAP</text>
<line class="l" stroke="#d58c32" x1="118.4" x2="150.4" y1="99.4" y2="99.4"/>
<text x="163.2" y="105.1">BBQN-VIME-MC</text>
<line class="l" stroke="#a4a031" x1="118.4" x2="150.4" y1="122.0" y2="122.0"/>
<text x="163.2" y="127.7">BBQN-MAP</text>
<line class="l" stroke="#50b131" x1="118.4" x2="150.4" y1="144.6" y2="144.6"/>
<text x="163.2" y="150.3">BBQN-MC</text>
<line class="d" stroke="#34ae91" x1="118.1" x2="151.9" y1="167.2" y2="167.2"/>
<text x="163.2" y="172.9">DQN-VIME-MAP</text>
<line class="d" stroke="#37abb5" x1="118.1" x2="151.9" y1="189.8" y2="189.8"/>
<text x="163.2" y="195.5">DQN-VIME-MC</text>
<line class="d" stroke="#3ba3ec" x1="118.1" x2="151.9" y1="212.4" y2="212.4"/>
<text x="163.2" y="218.1">DQN-Bootstrap</text>
<line class="d" stroke="#bb83f4" x1="118.1" x2="151.9" y1="235.0" y2="235.0"/>
<text x="163.2" y="240.7">DQN-Boltzmann</text>
<line class="d" stroke="#f564d4" x1="118.1" x2="151.9" y1="257.6" y2="257.6"/>
<text x="163.2" y="263.3">DQN</text>
</g>
<g class="yt">
<text x="94" y="515.60">0.0</text>
<text x="94" y="439.85">0.1</text>
<text x="94" y="364.10">0.2</text>
<text x="94" y="288.35">0.3</text>
<text x="94" y="212.60">0.4</text>
<text x="94" y="136.85">0.5</text>
<text x="94" y="61.10">0.6</text>
</g>
<g class="xt">
<text x="182.71" y="532.8">50</text>
<text x="263.34" y="532.8">100</text>
<text x="343.96" y="532.8">150</text>
<text x="424.59" y="532.8">200</text>
<text x="505.21" y="532.8">250</text>
<text x="585.84" y="532.8">300</text>
<text x="666.46" y="532.8">350</text>
<text x="747.09" y="532.8">400</text>
</g>
<text x="424.9" y="555.5" style="font-size:18.2px;text-anchor:middle">round</text>
<text transform="translate(61.0,284.1) rotate(-90)" style="font-size:17.9px;text-anchor:middle">success rate</text>
</svg>
</body></html>
